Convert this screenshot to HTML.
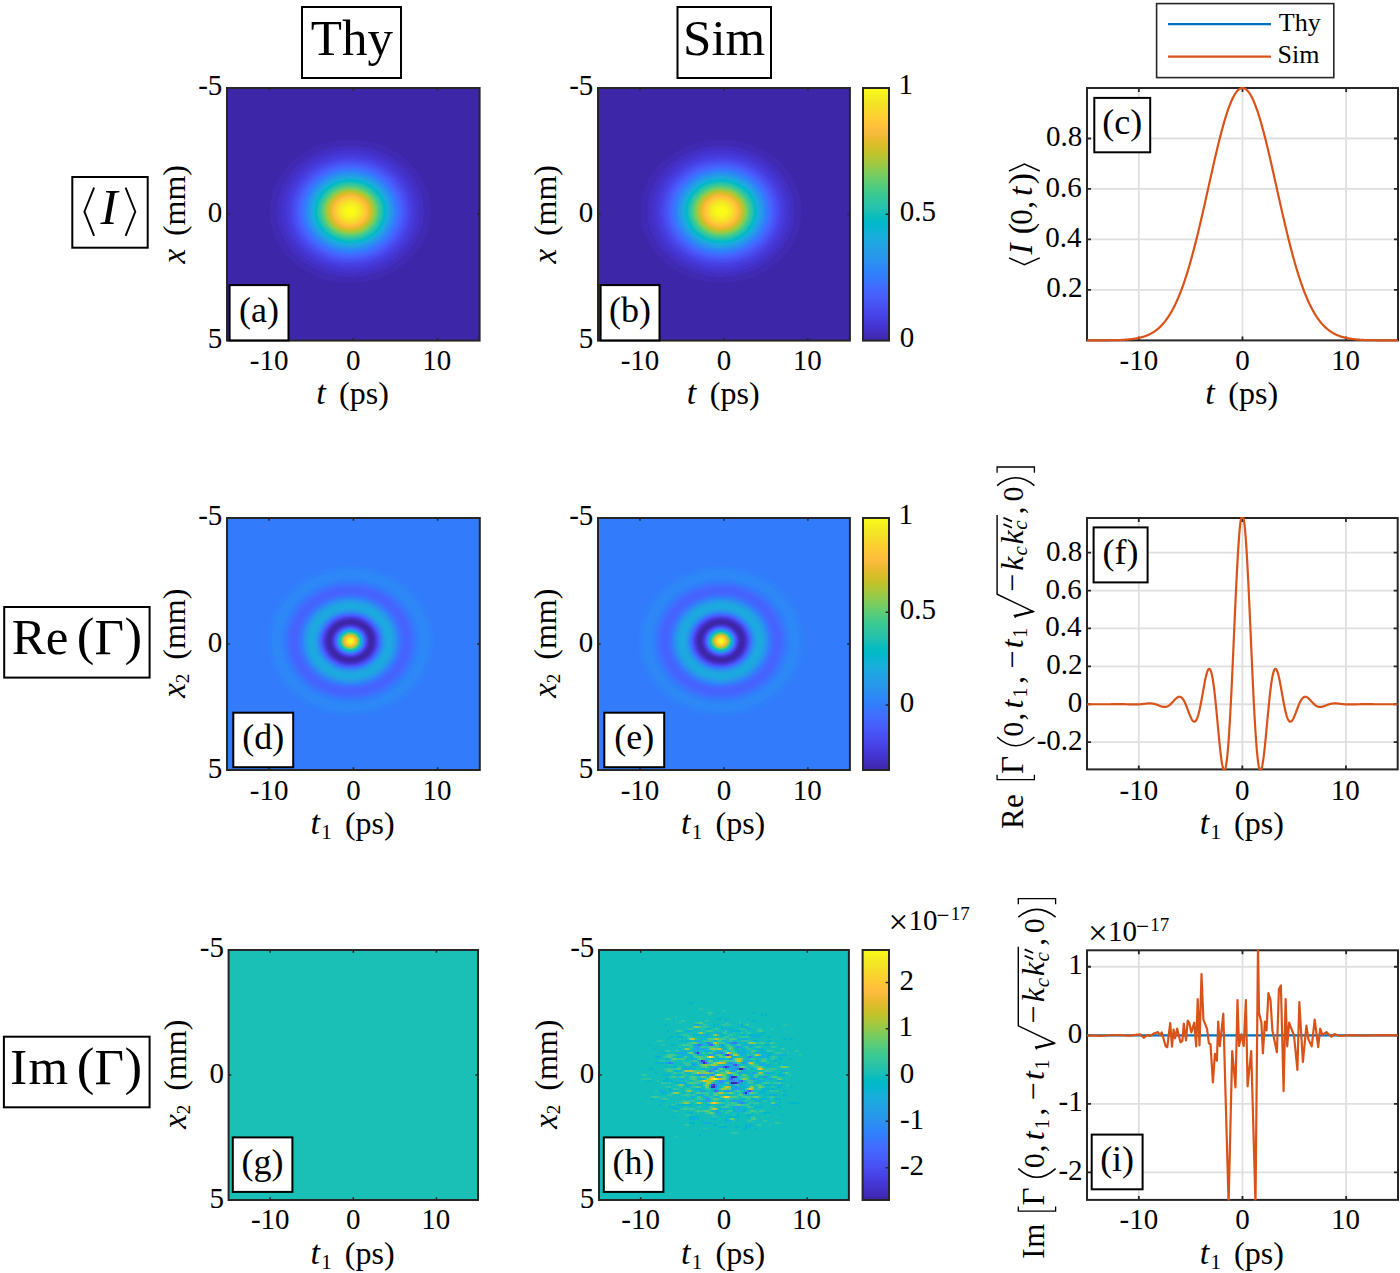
<!DOCTYPE html>
<html><head><meta charset="utf-8"><style>
html,body{margin:0;padding:0;background:#fff;width:1400px;height:1273px;overflow:hidden}
svg{display:block}
text{font-family:'Liberation Serif',serif;fill:#000}
</style></head><body>
<svg width="1400" height="1273" viewBox="0 0 1400 1273">
<defs><radialGradient id="g_a" gradientUnits="userSpaceOnUse" cx="350.27" cy="211.27" r="140" fx="350.27" fy="211.27" gradientTransform="translate(350.27 211.27) scale(1 0.89) translate(-350.27 -211.27)"><stop offset="0.0000" stop-color="#f9fb15"/><stop offset="0.0348" stop-color="#f9fb15"/><stop offset="0.0348" stop-color="#f7f51b"/><stop offset="0.0509" stop-color="#f7f51b"/><stop offset="0.0509" stop-color="#f6ef20"/><stop offset="0.0616" stop-color="#f6ef20"/><stop offset="0.0616" stop-color="#f5e924"/><stop offset="0.0723" stop-color="#f5e924"/><stop offset="0.0723" stop-color="#f5e327"/><stop offset="0.0813" stop-color="#f5e327"/><stop offset="0.0813" stop-color="#f7dc2a"/><stop offset="0.0884" stop-color="#f7dc2a"/><stop offset="0.0884" stop-color="#fad62d"/><stop offset="0.0955" stop-color="#fad62d"/><stop offset="0.0955" stop-color="#fccf30"/><stop offset="0.1027" stop-color="#fccf30"/><stop offset="0.1027" stop-color="#fec934"/><stop offset="0.1098" stop-color="#fec934"/><stop offset="0.1098" stop-color="#fec338"/><stop offset="0.1170" stop-color="#fec338"/><stop offset="0.1170" stop-color="#febe3c"/><stop offset="0.1223" stop-color="#febe3c"/><stop offset="0.1223" stop-color="#f8ba3d"/><stop offset="0.1277" stop-color="#f8ba3d"/><stop offset="0.1277" stop-color="#f0ba36"/><stop offset="0.1348" stop-color="#f0ba36"/><stop offset="0.1348" stop-color="#e6bb2d"/><stop offset="0.1402" stop-color="#e6bb2d"/><stop offset="0.1402" stop-color="#dcbd29"/><stop offset="0.1455" stop-color="#dcbd29"/><stop offset="0.1455" stop-color="#d1bf27"/><stop offset="0.1509" stop-color="#d1bf27"/><stop offset="0.1509" stop-color="#c5c22a"/><stop offset="0.1562" stop-color="#c5c22a"/><stop offset="0.1562" stop-color="#b9c431"/><stop offset="0.1616" stop-color="#b9c431"/><stop offset="0.1616" stop-color="#abc739"/><stop offset="0.1670" stop-color="#abc739"/><stop offset="0.1670" stop-color="#9dc943"/><stop offset="0.1723" stop-color="#9dc943"/><stop offset="0.1723" stop-color="#8fcb4e"/><stop offset="0.1777" stop-color="#8fcb4e"/><stop offset="0.1777" stop-color="#81cc59"/><stop offset="0.1830" stop-color="#81cc59"/><stop offset="0.1830" stop-color="#72cd64"/><stop offset="0.1884" stop-color="#72cd64"/><stop offset="0.1884" stop-color="#64cd6f"/><stop offset="0.1938" stop-color="#64cd6f"/><stop offset="0.1938" stop-color="#57cc7a"/><stop offset="0.1991" stop-color="#57cc7a"/><stop offset="0.1991" stop-color="#4acb84"/><stop offset="0.2027" stop-color="#4acb84"/><stop offset="0.2027" stop-color="#3fca8e"/><stop offset="0.2080" stop-color="#3fca8e"/><stop offset="0.2080" stop-color="#37c897"/><stop offset="0.2134" stop-color="#37c897"/><stop offset="0.2134" stop-color="#31c69f"/><stop offset="0.2188" stop-color="#31c69f"/><stop offset="0.2188" stop-color="#2cc4a7"/><stop offset="0.2241" stop-color="#2cc4a7"/><stop offset="0.2241" stop-color="#24c1ae"/><stop offset="0.2295" stop-color="#24c1ae"/><stop offset="0.2295" stop-color="#19bfb6"/><stop offset="0.2348" stop-color="#19bfb6"/><stop offset="0.2348" stop-color="#0bbdbd"/><stop offset="0.2402" stop-color="#0bbdbd"/><stop offset="0.2402" stop-color="#02bac3"/><stop offset="0.2455" stop-color="#02bac3"/><stop offset="0.2455" stop-color="#01b8ca"/><stop offset="0.2509" stop-color="#01b8ca"/><stop offset="0.2509" stop-color="#08b5d0"/><stop offset="0.2562" stop-color="#08b5d0"/><stop offset="0.2562" stop-color="#12b1d6"/><stop offset="0.2616" stop-color="#12b1d6"/><stop offset="0.2616" stop-color="#18addb"/><stop offset="0.2670" stop-color="#18addb"/><stop offset="0.2670" stop-color="#1ca9df"/><stop offset="0.2741" stop-color="#1ca9df"/><stop offset="0.2741" stop-color="#20a5e3"/><stop offset="0.2795" stop-color="#20a5e3"/><stop offset="0.2795" stop-color="#23a0e5"/><stop offset="0.2848" stop-color="#23a0e5"/><stop offset="0.2848" stop-color="#259be8"/><stop offset="0.2920" stop-color="#259be8"/><stop offset="0.2920" stop-color="#2797eb"/><stop offset="0.2973" stop-color="#2797eb"/><stop offset="0.2973" stop-color="#2b91ef"/><stop offset="0.3045" stop-color="#2b91ef"/><stop offset="0.3045" stop-color="#2d8cf3"/><stop offset="0.3098" stop-color="#2d8cf3"/><stop offset="0.3098" stop-color="#2e87f7"/><stop offset="0.3170" stop-color="#2e87f7"/><stop offset="0.3170" stop-color="#2f81fa"/><stop offset="0.3241" stop-color="#2f81fa"/><stop offset="0.3241" stop-color="#327cfc"/><stop offset="0.3312" stop-color="#327cfc"/><stop offset="0.3312" stop-color="#3875fe"/><stop offset="0.3402" stop-color="#3875fe"/><stop offset="0.3402" stop-color="#3e6fff"/><stop offset="0.3473" stop-color="#3e6fff"/><stop offset="0.3473" stop-color="#4269fe"/><stop offset="0.3563" stop-color="#4269fe"/><stop offset="0.3563" stop-color="#4563fd"/><stop offset="0.3652" stop-color="#4563fd"/><stop offset="0.3652" stop-color="#465efb"/><stop offset="0.3741" stop-color="#465efb"/><stop offset="0.3741" stop-color="#4758f8"/><stop offset="0.3848" stop-color="#4758f8"/><stop offset="0.3848" stop-color="#4852f4"/><stop offset="0.3955" stop-color="#4852f4"/><stop offset="0.3955" stop-color="#484df0"/><stop offset="0.4062" stop-color="#484df0"/><stop offset="0.4062" stop-color="#4747eb"/><stop offset="0.4188" stop-color="#4747eb"/><stop offset="0.4188" stop-color="#4741e5"/><stop offset="0.4330" stop-color="#4741e5"/><stop offset="0.4330" stop-color="#463cde"/><stop offset="0.4509" stop-color="#463cde"/><stop offset="0.4509" stop-color="#4537d5"/><stop offset="0.4688" stop-color="#4537d5"/><stop offset="0.4688" stop-color="#4332cb"/><stop offset="0.4938" stop-color="#4332cb"/><stop offset="0.4938" stop-color="#422ec0"/><stop offset="0.5241" stop-color="#422ec0"/><stop offset="0.5241" stop-color="#402ab4"/><stop offset="0.5741" stop-color="#402ab4"/><stop offset="0.5741" stop-color="#3e26a8"/><stop offset="1" stop-color="#3e26a8"/></radialGradient><radialGradient id="g_b" gradientUnits="userSpaceOnUse" cx="720.93" cy="211.27" r="140" fx="720.93" fy="211.27" gradientTransform="translate(720.93 211.27) scale(1 0.89) translate(-720.93 -211.27)"><stop offset="0.0000" stop-color="#f9fb15"/><stop offset="0.0348" stop-color="#f9fb15"/><stop offset="0.0348" stop-color="#f7f51b"/><stop offset="0.0509" stop-color="#f7f51b"/><stop offset="0.0509" stop-color="#f6ef20"/><stop offset="0.0616" stop-color="#f6ef20"/><stop offset="0.0616" stop-color="#f5e924"/><stop offset="0.0723" stop-color="#f5e924"/><stop offset="0.0723" stop-color="#f5e327"/><stop offset="0.0813" stop-color="#f5e327"/><stop offset="0.0813" stop-color="#f7dc2a"/><stop offset="0.0884" stop-color="#f7dc2a"/><stop offset="0.0884" stop-color="#fad62d"/><stop offset="0.0955" stop-color="#fad62d"/><stop offset="0.0955" stop-color="#fccf30"/><stop offset="0.1027" stop-color="#fccf30"/><stop offset="0.1027" stop-color="#fec934"/><stop offset="0.1098" stop-color="#fec934"/><stop offset="0.1098" stop-color="#fec338"/><stop offset="0.1170" stop-color="#fec338"/><stop offset="0.1170" stop-color="#febe3c"/><stop offset="0.1223" stop-color="#febe3c"/><stop offset="0.1223" stop-color="#f8ba3d"/><stop offset="0.1277" stop-color="#f8ba3d"/><stop offset="0.1277" stop-color="#f0ba36"/><stop offset="0.1348" stop-color="#f0ba36"/><stop offset="0.1348" stop-color="#e6bb2d"/><stop offset="0.1402" stop-color="#e6bb2d"/><stop offset="0.1402" stop-color="#dcbd29"/><stop offset="0.1455" stop-color="#dcbd29"/><stop offset="0.1455" stop-color="#d1bf27"/><stop offset="0.1509" stop-color="#d1bf27"/><stop offset="0.1509" stop-color="#c5c22a"/><stop offset="0.1562" stop-color="#c5c22a"/><stop offset="0.1562" stop-color="#b9c431"/><stop offset="0.1616" stop-color="#b9c431"/><stop offset="0.1616" stop-color="#abc739"/><stop offset="0.1670" stop-color="#abc739"/><stop offset="0.1670" stop-color="#9dc943"/><stop offset="0.1723" stop-color="#9dc943"/><stop offset="0.1723" stop-color="#8fcb4e"/><stop offset="0.1777" stop-color="#8fcb4e"/><stop offset="0.1777" stop-color="#81cc59"/><stop offset="0.1830" stop-color="#81cc59"/><stop offset="0.1830" stop-color="#72cd64"/><stop offset="0.1884" stop-color="#72cd64"/><stop offset="0.1884" stop-color="#64cd6f"/><stop offset="0.1938" stop-color="#64cd6f"/><stop offset="0.1938" stop-color="#57cc7a"/><stop offset="0.1991" stop-color="#57cc7a"/><stop offset="0.1991" stop-color="#4acb84"/><stop offset="0.2027" stop-color="#4acb84"/><stop offset="0.2027" stop-color="#3fca8e"/><stop offset="0.2080" stop-color="#3fca8e"/><stop offset="0.2080" stop-color="#37c897"/><stop offset="0.2134" stop-color="#37c897"/><stop offset="0.2134" stop-color="#31c69f"/><stop offset="0.2188" stop-color="#31c69f"/><stop offset="0.2188" stop-color="#2cc4a7"/><stop offset="0.2241" stop-color="#2cc4a7"/><stop offset="0.2241" stop-color="#24c1ae"/><stop offset="0.2295" stop-color="#24c1ae"/><stop offset="0.2295" stop-color="#19bfb6"/><stop offset="0.2348" stop-color="#19bfb6"/><stop offset="0.2348" stop-color="#0bbdbd"/><stop offset="0.2402" stop-color="#0bbdbd"/><stop offset="0.2402" stop-color="#02bac3"/><stop offset="0.2455" stop-color="#02bac3"/><stop offset="0.2455" stop-color="#01b8ca"/><stop offset="0.2509" stop-color="#01b8ca"/><stop offset="0.2509" stop-color="#08b5d0"/><stop offset="0.2562" stop-color="#08b5d0"/><stop offset="0.2562" stop-color="#12b1d6"/><stop offset="0.2616" stop-color="#12b1d6"/><stop offset="0.2616" stop-color="#18addb"/><stop offset="0.2670" stop-color="#18addb"/><stop offset="0.2670" stop-color="#1ca9df"/><stop offset="0.2741" stop-color="#1ca9df"/><stop offset="0.2741" stop-color="#20a5e3"/><stop offset="0.2795" stop-color="#20a5e3"/><stop offset="0.2795" stop-color="#23a0e5"/><stop offset="0.2848" stop-color="#23a0e5"/><stop offset="0.2848" stop-color="#259be8"/><stop offset="0.2920" stop-color="#259be8"/><stop offset="0.2920" stop-color="#2797eb"/><stop offset="0.2973" stop-color="#2797eb"/><stop offset="0.2973" stop-color="#2b91ef"/><stop offset="0.3045" stop-color="#2b91ef"/><stop offset="0.3045" stop-color="#2d8cf3"/><stop offset="0.3098" stop-color="#2d8cf3"/><stop offset="0.3098" stop-color="#2e87f7"/><stop offset="0.3170" stop-color="#2e87f7"/><stop offset="0.3170" stop-color="#2f81fa"/><stop offset="0.3241" stop-color="#2f81fa"/><stop offset="0.3241" stop-color="#327cfc"/><stop offset="0.3312" stop-color="#327cfc"/><stop offset="0.3312" stop-color="#3875fe"/><stop offset="0.3402" stop-color="#3875fe"/><stop offset="0.3402" stop-color="#3e6fff"/><stop offset="0.3473" stop-color="#3e6fff"/><stop offset="0.3473" stop-color="#4269fe"/><stop offset="0.3563" stop-color="#4269fe"/><stop offset="0.3563" stop-color="#4563fd"/><stop offset="0.3652" stop-color="#4563fd"/><stop offset="0.3652" stop-color="#465efb"/><stop offset="0.3741" stop-color="#465efb"/><stop offset="0.3741" stop-color="#4758f8"/><stop offset="0.3848" stop-color="#4758f8"/><stop offset="0.3848" stop-color="#4852f4"/><stop offset="0.3955" stop-color="#4852f4"/><stop offset="0.3955" stop-color="#484df0"/><stop offset="0.4062" stop-color="#484df0"/><stop offset="0.4062" stop-color="#4747eb"/><stop offset="0.4188" stop-color="#4747eb"/><stop offset="0.4188" stop-color="#4741e5"/><stop offset="0.4330" stop-color="#4741e5"/><stop offset="0.4330" stop-color="#463cde"/><stop offset="0.4509" stop-color="#463cde"/><stop offset="0.4509" stop-color="#4537d5"/><stop offset="0.4688" stop-color="#4537d5"/><stop offset="0.4688" stop-color="#4332cb"/><stop offset="0.4938" stop-color="#4332cb"/><stop offset="0.4938" stop-color="#422ec0"/><stop offset="0.5241" stop-color="#422ec0"/><stop offset="0.5241" stop-color="#402ab4"/><stop offset="0.5741" stop-color="#402ab4"/><stop offset="0.5741" stop-color="#3e26a8"/><stop offset="1" stop-color="#3e26a8"/></radialGradient><radialGradient id="g_d" gradientUnits="userSpaceOnUse" cx="350.37" cy="640.98" r="140" fx="350.37" fy="640.98" gradientTransform="translate(350.37 640.98) scale(1 0.9) translate(-350.37 -640.98)"><stop offset="0.0000" stop-color="#f9fb15"/><stop offset="0.0116" stop-color="#f9fb15"/><stop offset="0.0116" stop-color="#f7f51b"/><stop offset="0.0170" stop-color="#f7f51b"/><stop offset="0.0170" stop-color="#f6ef20"/><stop offset="0.0205" stop-color="#f6ef20"/><stop offset="0.0205" stop-color="#f5e924"/><stop offset="0.0223" stop-color="#f5e924"/><stop offset="0.0223" stop-color="#f5e327"/><stop offset="0.0259" stop-color="#f5e327"/><stop offset="0.0259" stop-color="#f7dc2a"/><stop offset="0.0277" stop-color="#f7dc2a"/><stop offset="0.0277" stop-color="#fad62d"/><stop offset="0.0312" stop-color="#fad62d"/><stop offset="0.0312" stop-color="#fccf30"/><stop offset="0.0330" stop-color="#fccf30"/><stop offset="0.0330" stop-color="#fec934"/><stop offset="0.0348" stop-color="#fec934"/><stop offset="0.0348" stop-color="#fec338"/><stop offset="0.0366" stop-color="#fec338"/><stop offset="0.0366" stop-color="#febe3c"/><stop offset="0.0402" stop-color="#febe3c"/><stop offset="0.0402" stop-color="#f8ba3d"/><stop offset="0.0420" stop-color="#f8ba3d"/><stop offset="0.0420" stop-color="#f0ba36"/><stop offset="0.0437" stop-color="#f0ba36"/><stop offset="0.0437" stop-color="#e6bb2d"/><stop offset="0.0455" stop-color="#e6bb2d"/><stop offset="0.0455" stop-color="#dcbd29"/><stop offset="0.0473" stop-color="#dcbd29"/><stop offset="0.0473" stop-color="#c5c22a"/><stop offset="0.0491" stop-color="#c5c22a"/><stop offset="0.0491" stop-color="#b9c431"/><stop offset="0.0509" stop-color="#b9c431"/><stop offset="0.0509" stop-color="#abc739"/><stop offset="0.0527" stop-color="#abc739"/><stop offset="0.0527" stop-color="#9dc943"/><stop offset="0.0545" stop-color="#9dc943"/><stop offset="0.0545" stop-color="#8fcb4e"/><stop offset="0.0563" stop-color="#8fcb4e"/><stop offset="0.0563" stop-color="#81cc59"/><stop offset="0.0580" stop-color="#81cc59"/><stop offset="0.0580" stop-color="#72cd64"/><stop offset="0.0598" stop-color="#72cd64"/><stop offset="0.0598" stop-color="#64cd6f"/><stop offset="0.0616" stop-color="#64cd6f"/><stop offset="0.0616" stop-color="#4acb84"/><stop offset="0.0634" stop-color="#4acb84"/><stop offset="0.0634" stop-color="#3fca8e"/><stop offset="0.0652" stop-color="#3fca8e"/><stop offset="0.0652" stop-color="#37c897"/><stop offset="0.0670" stop-color="#37c897"/><stop offset="0.0670" stop-color="#31c69f"/><stop offset="0.0688" stop-color="#31c69f"/><stop offset="0.0688" stop-color="#2cc4a7"/><stop offset="0.0705" stop-color="#2cc4a7"/><stop offset="0.0705" stop-color="#19bfb6"/><stop offset="0.0723" stop-color="#19bfb6"/><stop offset="0.0723" stop-color="#0bbdbd"/><stop offset="0.0741" stop-color="#0bbdbd"/><stop offset="0.0741" stop-color="#02bac3"/><stop offset="0.0759" stop-color="#02bac3"/><stop offset="0.0759" stop-color="#01b8ca"/><stop offset="0.0777" stop-color="#01b8ca"/><stop offset="0.0777" stop-color="#08b5d0"/><stop offset="0.0795" stop-color="#08b5d0"/><stop offset="0.0795" stop-color="#18addb"/><stop offset="0.0813" stop-color="#18addb"/><stop offset="0.0813" stop-color="#1ca9df"/><stop offset="0.0830" stop-color="#1ca9df"/><stop offset="0.0830" stop-color="#20a5e3"/><stop offset="0.0848" stop-color="#20a5e3"/><stop offset="0.0848" stop-color="#23a0e5"/><stop offset="0.0866" stop-color="#23a0e5"/><stop offset="0.0866" stop-color="#259be8"/><stop offset="0.0884" stop-color="#259be8"/><stop offset="0.0884" stop-color="#2797eb"/><stop offset="0.0902" stop-color="#2797eb"/><stop offset="0.0902" stop-color="#2b91ef"/><stop offset="0.0920" stop-color="#2b91ef"/><stop offset="0.0920" stop-color="#2e87f7"/><stop offset="0.0938" stop-color="#2e87f7"/><stop offset="0.0938" stop-color="#2f81fa"/><stop offset="0.0955" stop-color="#2f81fa"/><stop offset="0.0955" stop-color="#327cfc"/><stop offset="0.0973" stop-color="#327cfc"/><stop offset="0.0973" stop-color="#3875fe"/><stop offset="0.0991" stop-color="#3875fe"/><stop offset="0.0991" stop-color="#3e6fff"/><stop offset="0.1009" stop-color="#3e6fff"/><stop offset="0.1009" stop-color="#4269fe"/><stop offset="0.1027" stop-color="#4269fe"/><stop offset="0.1027" stop-color="#4563fd"/><stop offset="0.1045" stop-color="#4563fd"/><stop offset="0.1045" stop-color="#465efb"/><stop offset="0.1080" stop-color="#465efb"/><stop offset="0.1080" stop-color="#4758f8"/><stop offset="0.1098" stop-color="#4758f8"/><stop offset="0.1098" stop-color="#4852f4"/><stop offset="0.1116" stop-color="#4852f4"/><stop offset="0.1116" stop-color="#484df0"/><stop offset="0.1134" stop-color="#484df0"/><stop offset="0.1134" stop-color="#4747eb"/><stop offset="0.1170" stop-color="#4747eb"/><stop offset="0.1170" stop-color="#4741e5"/><stop offset="0.1187" stop-color="#4741e5"/><stop offset="0.1187" stop-color="#463cde"/><stop offset="0.1223" stop-color="#463cde"/><stop offset="0.1223" stop-color="#4537d5"/><stop offset="0.1259" stop-color="#4537d5"/><stop offset="0.1259" stop-color="#4332cb"/><stop offset="0.1295" stop-color="#4332cb"/><stop offset="0.1295" stop-color="#422ec0"/><stop offset="0.1330" stop-color="#422ec0"/><stop offset="0.1330" stop-color="#402ab4"/><stop offset="0.1384" stop-color="#402ab4"/><stop offset="0.1384" stop-color="#3e26a8"/><stop offset="0.1634" stop-color="#3e26a8"/><stop offset="0.1634" stop-color="#402ab4"/><stop offset="0.1705" stop-color="#402ab4"/><stop offset="0.1705" stop-color="#422ec0"/><stop offset="0.1741" stop-color="#422ec0"/><stop offset="0.1741" stop-color="#4332cb"/><stop offset="0.1795" stop-color="#4332cb"/><stop offset="0.1795" stop-color="#4537d5"/><stop offset="0.1830" stop-color="#4537d5"/><stop offset="0.1830" stop-color="#463cde"/><stop offset="0.1866" stop-color="#463cde"/><stop offset="0.1866" stop-color="#4741e5"/><stop offset="0.1902" stop-color="#4741e5"/><stop offset="0.1902" stop-color="#4747eb"/><stop offset="0.1938" stop-color="#4747eb"/><stop offset="0.1938" stop-color="#484df0"/><stop offset="0.1973" stop-color="#484df0"/><stop offset="0.1973" stop-color="#4852f4"/><stop offset="0.2009" stop-color="#4852f4"/><stop offset="0.2009" stop-color="#4758f8"/><stop offset="0.2027" stop-color="#4758f8"/><stop offset="0.2027" stop-color="#465efb"/><stop offset="0.2062" stop-color="#465efb"/><stop offset="0.2062" stop-color="#4563fd"/><stop offset="0.2098" stop-color="#4563fd"/><stop offset="0.2098" stop-color="#4269fe"/><stop offset="0.2134" stop-color="#4269fe"/><stop offset="0.2134" stop-color="#3e6fff"/><stop offset="0.2152" stop-color="#3e6fff"/><stop offset="0.2152" stop-color="#3875fe"/><stop offset="0.2188" stop-color="#3875fe"/><stop offset="0.2188" stop-color="#327cfc"/><stop offset="0.2223" stop-color="#327cfc"/><stop offset="0.2223" stop-color="#2f81fa"/><stop offset="0.2259" stop-color="#2f81fa"/><stop offset="0.2259" stop-color="#2e87f7"/><stop offset="0.2295" stop-color="#2e87f7"/><stop offset="0.2295" stop-color="#2d8cf3"/><stop offset="0.2330" stop-color="#2d8cf3"/><stop offset="0.2330" stop-color="#2b91ef"/><stop offset="0.2366" stop-color="#2b91ef"/><stop offset="0.2366" stop-color="#2797eb"/><stop offset="0.2420" stop-color="#2797eb"/><stop offset="0.2420" stop-color="#259be8"/><stop offset="0.2473" stop-color="#259be8"/><stop offset="0.2473" stop-color="#23a0e5"/><stop offset="0.2527" stop-color="#23a0e5"/><stop offset="0.2527" stop-color="#20a5e3"/><stop offset="0.2616" stop-color="#20a5e3"/><stop offset="0.2616" stop-color="#1ca9df"/><stop offset="0.2920" stop-color="#1ca9df"/><stop offset="0.2920" stop-color="#20a5e3"/><stop offset="0.3009" stop-color="#20a5e3"/><stop offset="0.3009" stop-color="#23a0e5"/><stop offset="0.3080" stop-color="#23a0e5"/><stop offset="0.3080" stop-color="#259be8"/><stop offset="0.3152" stop-color="#259be8"/><stop offset="0.3152" stop-color="#2797eb"/><stop offset="0.3223" stop-color="#2797eb"/><stop offset="0.3223" stop-color="#2b91ef"/><stop offset="0.3277" stop-color="#2b91ef"/><stop offset="0.3277" stop-color="#2d8cf3"/><stop offset="0.3330" stop-color="#2d8cf3"/><stop offset="0.3330" stop-color="#2e87f7"/><stop offset="0.3402" stop-color="#2e87f7"/><stop offset="0.3402" stop-color="#2f81fa"/><stop offset="0.3455" stop-color="#2f81fa"/><stop offset="0.3455" stop-color="#327cfc"/><stop offset="0.3527" stop-color="#327cfc"/><stop offset="0.3527" stop-color="#3875fe"/><stop offset="0.3598" stop-color="#3875fe"/><stop offset="0.3598" stop-color="#3e6fff"/><stop offset="0.3688" stop-color="#3e6fff"/><stop offset="0.3688" stop-color="#4269fe"/><stop offset="0.3812" stop-color="#4269fe"/><stop offset="0.3812" stop-color="#4563fd"/><stop offset="0.4223" stop-color="#4563fd"/><stop offset="0.4223" stop-color="#4269fe"/><stop offset="0.4384" stop-color="#4269fe"/><stop offset="0.4384" stop-color="#3e6fff"/><stop offset="0.4509" stop-color="#3e6fff"/><stop offset="0.4509" stop-color="#3875fe"/><stop offset="0.4634" stop-color="#3875fe"/><stop offset="0.4634" stop-color="#327cfc"/><stop offset="0.4759" stop-color="#327cfc"/><stop offset="0.4759" stop-color="#2f81fa"/><stop offset="0.4955" stop-color="#2f81fa"/><stop offset="0.4955" stop-color="#2e87f7"/><stop offset="0.5598" stop-color="#2e87f7"/><stop offset="0.5598" stop-color="#2f81fa"/><stop offset="0.5920" stop-color="#2f81fa"/><stop offset="0.5920" stop-color="#327cfc"/><stop offset="1" stop-color="#327cfc"/></radialGradient><radialGradient id="g_e" gradientUnits="userSpaceOnUse" cx="720.93" cy="640.98" r="140" fx="720.93" fy="640.98" gradientTransform="translate(720.93 640.98) scale(1 0.9) translate(-720.93 -640.98)"><stop offset="0.0000" stop-color="#f9fb15"/><stop offset="0.0116" stop-color="#f9fb15"/><stop offset="0.0116" stop-color="#f7f51b"/><stop offset="0.0170" stop-color="#f7f51b"/><stop offset="0.0170" stop-color="#f6ef20"/><stop offset="0.0205" stop-color="#f6ef20"/><stop offset="0.0205" stop-color="#f5e924"/><stop offset="0.0223" stop-color="#f5e924"/><stop offset="0.0223" stop-color="#f5e327"/><stop offset="0.0259" stop-color="#f5e327"/><stop offset="0.0259" stop-color="#f7dc2a"/><stop offset="0.0277" stop-color="#f7dc2a"/><stop offset="0.0277" stop-color="#fad62d"/><stop offset="0.0312" stop-color="#fad62d"/><stop offset="0.0312" stop-color="#fccf30"/><stop offset="0.0330" stop-color="#fccf30"/><stop offset="0.0330" stop-color="#fec934"/><stop offset="0.0348" stop-color="#fec934"/><stop offset="0.0348" stop-color="#fec338"/><stop offset="0.0366" stop-color="#fec338"/><stop offset="0.0366" stop-color="#febe3c"/><stop offset="0.0402" stop-color="#febe3c"/><stop offset="0.0402" stop-color="#f8ba3d"/><stop offset="0.0420" stop-color="#f8ba3d"/><stop offset="0.0420" stop-color="#f0ba36"/><stop offset="0.0437" stop-color="#f0ba36"/><stop offset="0.0437" stop-color="#e6bb2d"/><stop offset="0.0455" stop-color="#e6bb2d"/><stop offset="0.0455" stop-color="#dcbd29"/><stop offset="0.0473" stop-color="#dcbd29"/><stop offset="0.0473" stop-color="#c5c22a"/><stop offset="0.0491" stop-color="#c5c22a"/><stop offset="0.0491" stop-color="#b9c431"/><stop offset="0.0509" stop-color="#b9c431"/><stop offset="0.0509" stop-color="#abc739"/><stop offset="0.0527" stop-color="#abc739"/><stop offset="0.0527" stop-color="#9dc943"/><stop offset="0.0545" stop-color="#9dc943"/><stop offset="0.0545" stop-color="#8fcb4e"/><stop offset="0.0563" stop-color="#8fcb4e"/><stop offset="0.0563" stop-color="#81cc59"/><stop offset="0.0580" stop-color="#81cc59"/><stop offset="0.0580" stop-color="#72cd64"/><stop offset="0.0598" stop-color="#72cd64"/><stop offset="0.0598" stop-color="#64cd6f"/><stop offset="0.0616" stop-color="#64cd6f"/><stop offset="0.0616" stop-color="#4acb84"/><stop offset="0.0634" stop-color="#4acb84"/><stop offset="0.0634" stop-color="#3fca8e"/><stop offset="0.0652" stop-color="#3fca8e"/><stop offset="0.0652" stop-color="#37c897"/><stop offset="0.0670" stop-color="#37c897"/><stop offset="0.0670" stop-color="#31c69f"/><stop offset="0.0688" stop-color="#31c69f"/><stop offset="0.0688" stop-color="#2cc4a7"/><stop offset="0.0705" stop-color="#2cc4a7"/><stop offset="0.0705" stop-color="#19bfb6"/><stop offset="0.0723" stop-color="#19bfb6"/><stop offset="0.0723" stop-color="#0bbdbd"/><stop offset="0.0741" stop-color="#0bbdbd"/><stop offset="0.0741" stop-color="#02bac3"/><stop offset="0.0759" stop-color="#02bac3"/><stop offset="0.0759" stop-color="#01b8ca"/><stop offset="0.0777" stop-color="#01b8ca"/><stop offset="0.0777" stop-color="#08b5d0"/><stop offset="0.0795" stop-color="#08b5d0"/><stop offset="0.0795" stop-color="#18addb"/><stop offset="0.0813" stop-color="#18addb"/><stop offset="0.0813" stop-color="#1ca9df"/><stop offset="0.0830" stop-color="#1ca9df"/><stop offset="0.0830" stop-color="#20a5e3"/><stop offset="0.0848" stop-color="#20a5e3"/><stop offset="0.0848" stop-color="#23a0e5"/><stop offset="0.0866" stop-color="#23a0e5"/><stop offset="0.0866" stop-color="#259be8"/><stop offset="0.0884" stop-color="#259be8"/><stop offset="0.0884" stop-color="#2797eb"/><stop offset="0.0902" stop-color="#2797eb"/><stop offset="0.0902" stop-color="#2b91ef"/><stop offset="0.0920" stop-color="#2b91ef"/><stop offset="0.0920" stop-color="#2e87f7"/><stop offset="0.0938" stop-color="#2e87f7"/><stop offset="0.0938" stop-color="#2f81fa"/><stop offset="0.0955" stop-color="#2f81fa"/><stop offset="0.0955" stop-color="#327cfc"/><stop offset="0.0973" stop-color="#327cfc"/><stop offset="0.0973" stop-color="#3875fe"/><stop offset="0.0991" stop-color="#3875fe"/><stop offset="0.0991" stop-color="#3e6fff"/><stop offset="0.1009" stop-color="#3e6fff"/><stop offset="0.1009" stop-color="#4269fe"/><stop offset="0.1027" stop-color="#4269fe"/><stop offset="0.1027" stop-color="#4563fd"/><stop offset="0.1045" stop-color="#4563fd"/><stop offset="0.1045" stop-color="#465efb"/><stop offset="0.1080" stop-color="#465efb"/><stop offset="0.1080" stop-color="#4758f8"/><stop offset="0.1098" stop-color="#4758f8"/><stop offset="0.1098" stop-color="#4852f4"/><stop offset="0.1116" stop-color="#4852f4"/><stop offset="0.1116" stop-color="#484df0"/><stop offset="0.1134" stop-color="#484df0"/><stop offset="0.1134" stop-color="#4747eb"/><stop offset="0.1170" stop-color="#4747eb"/><stop offset="0.1170" stop-color="#4741e5"/><stop offset="0.1187" stop-color="#4741e5"/><stop offset="0.1187" stop-color="#463cde"/><stop offset="0.1223" stop-color="#463cde"/><stop offset="0.1223" stop-color="#4537d5"/><stop offset="0.1259" stop-color="#4537d5"/><stop offset="0.1259" stop-color="#4332cb"/><stop offset="0.1295" stop-color="#4332cb"/><stop offset="0.1295" stop-color="#422ec0"/><stop offset="0.1330" stop-color="#422ec0"/><stop offset="0.1330" stop-color="#402ab4"/><stop offset="0.1384" stop-color="#402ab4"/><stop offset="0.1384" stop-color="#3e26a8"/><stop offset="0.1634" stop-color="#3e26a8"/><stop offset="0.1634" stop-color="#402ab4"/><stop offset="0.1705" stop-color="#402ab4"/><stop offset="0.1705" stop-color="#422ec0"/><stop offset="0.1741" stop-color="#422ec0"/><stop offset="0.1741" stop-color="#4332cb"/><stop offset="0.1795" stop-color="#4332cb"/><stop offset="0.1795" stop-color="#4537d5"/><stop offset="0.1830" stop-color="#4537d5"/><stop offset="0.1830" stop-color="#463cde"/><stop offset="0.1866" stop-color="#463cde"/><stop offset="0.1866" stop-color="#4741e5"/><stop offset="0.1902" stop-color="#4741e5"/><stop offset="0.1902" stop-color="#4747eb"/><stop offset="0.1938" stop-color="#4747eb"/><stop offset="0.1938" stop-color="#484df0"/><stop offset="0.1973" stop-color="#484df0"/><stop offset="0.1973" stop-color="#4852f4"/><stop offset="0.2009" stop-color="#4852f4"/><stop offset="0.2009" stop-color="#4758f8"/><stop offset="0.2027" stop-color="#4758f8"/><stop offset="0.2027" stop-color="#465efb"/><stop offset="0.2062" stop-color="#465efb"/><stop offset="0.2062" stop-color="#4563fd"/><stop offset="0.2098" stop-color="#4563fd"/><stop offset="0.2098" stop-color="#4269fe"/><stop offset="0.2134" stop-color="#4269fe"/><stop offset="0.2134" stop-color="#3e6fff"/><stop offset="0.2152" stop-color="#3e6fff"/><stop offset="0.2152" stop-color="#3875fe"/><stop offset="0.2188" stop-color="#3875fe"/><stop offset="0.2188" stop-color="#327cfc"/><stop offset="0.2223" stop-color="#327cfc"/><stop offset="0.2223" stop-color="#2f81fa"/><stop offset="0.2259" stop-color="#2f81fa"/><stop offset="0.2259" stop-color="#2e87f7"/><stop offset="0.2295" stop-color="#2e87f7"/><stop offset="0.2295" stop-color="#2d8cf3"/><stop offset="0.2330" stop-color="#2d8cf3"/><stop offset="0.2330" stop-color="#2b91ef"/><stop offset="0.2366" stop-color="#2b91ef"/><stop offset="0.2366" stop-color="#2797eb"/><stop offset="0.2420" stop-color="#2797eb"/><stop offset="0.2420" stop-color="#259be8"/><stop offset="0.2473" stop-color="#259be8"/><stop offset="0.2473" stop-color="#23a0e5"/><stop offset="0.2527" stop-color="#23a0e5"/><stop offset="0.2527" stop-color="#20a5e3"/><stop offset="0.2616" stop-color="#20a5e3"/><stop offset="0.2616" stop-color="#1ca9df"/><stop offset="0.2920" stop-color="#1ca9df"/><stop offset="0.2920" stop-color="#20a5e3"/><stop offset="0.3009" stop-color="#20a5e3"/><stop offset="0.3009" stop-color="#23a0e5"/><stop offset="0.3080" stop-color="#23a0e5"/><stop offset="0.3080" stop-color="#259be8"/><stop offset="0.3152" stop-color="#259be8"/><stop offset="0.3152" stop-color="#2797eb"/><stop offset="0.3223" stop-color="#2797eb"/><stop offset="0.3223" stop-color="#2b91ef"/><stop offset="0.3277" stop-color="#2b91ef"/><stop offset="0.3277" stop-color="#2d8cf3"/><stop offset="0.3330" stop-color="#2d8cf3"/><stop offset="0.3330" stop-color="#2e87f7"/><stop offset="0.3402" stop-color="#2e87f7"/><stop offset="0.3402" stop-color="#2f81fa"/><stop offset="0.3455" stop-color="#2f81fa"/><stop offset="0.3455" stop-color="#327cfc"/><stop offset="0.3527" stop-color="#327cfc"/><stop offset="0.3527" stop-color="#3875fe"/><stop offset="0.3598" stop-color="#3875fe"/><stop offset="0.3598" stop-color="#3e6fff"/><stop offset="0.3688" stop-color="#3e6fff"/><stop offset="0.3688" stop-color="#4269fe"/><stop offset="0.3812" stop-color="#4269fe"/><stop offset="0.3812" stop-color="#4563fd"/><stop offset="0.4223" stop-color="#4563fd"/><stop offset="0.4223" stop-color="#4269fe"/><stop offset="0.4384" stop-color="#4269fe"/><stop offset="0.4384" stop-color="#3e6fff"/><stop offset="0.4509" stop-color="#3e6fff"/><stop offset="0.4509" stop-color="#3875fe"/><stop offset="0.4634" stop-color="#3875fe"/><stop offset="0.4634" stop-color="#327cfc"/><stop offset="0.4759" stop-color="#327cfc"/><stop offset="0.4759" stop-color="#2f81fa"/><stop offset="0.4955" stop-color="#2f81fa"/><stop offset="0.4955" stop-color="#2e87f7"/><stop offset="0.5598" stop-color="#2e87f7"/><stop offset="0.5598" stop-color="#2f81fa"/><stop offset="0.5920" stop-color="#2f81fa"/><stop offset="0.5920" stop-color="#327cfc"/><stop offset="1" stop-color="#327cfc"/></radialGradient><filter id="soft" x="-5%" y="-5%" width="110%" height="110%"><feGaussianBlur stdDeviation="0.65"/></filter><clipPath id="clip_h"><rect x="599.0" y="950.0" width="249.89999999999998" height="250.0"/></clipPath><linearGradient id="lg_cb1" x1="0" y1="0" x2="0" y2="1"><stop offset="0.0000" stop-color="#f9fb15"/><stop offset="0.0156" stop-color="#f7f51b"/><stop offset="0.0312" stop-color="#f6ef20"/><stop offset="0.0469" stop-color="#f5e924"/><stop offset="0.0625" stop-color="#f5e327"/><stop offset="0.0781" stop-color="#f7dd2a"/><stop offset="0.0938" stop-color="#f9d62d"/><stop offset="0.1094" stop-color="#fcd030"/><stop offset="0.1250" stop-color="#feca33"/><stop offset="0.1406" stop-color="#fec437"/><stop offset="0.1562" stop-color="#febe3c"/><stop offset="0.1719" stop-color="#f9bb3d"/><stop offset="0.1875" stop-color="#f1ba37"/><stop offset="0.2031" stop-color="#e8bb2f"/><stop offset="0.2188" stop-color="#debc2a"/><stop offset="0.2344" stop-color="#d4bf28"/><stop offset="0.2500" stop-color="#c8c129"/><stop offset="0.2656" stop-color="#bcc42f"/><stop offset="0.2812" stop-color="#afc637"/><stop offset="0.2969" stop-color="#a2c840"/><stop offset="0.3125" stop-color="#94ca4a"/><stop offset="0.3281" stop-color="#85cb55"/><stop offset="0.3438" stop-color="#77cc60"/><stop offset="0.3594" stop-color="#69cd6b"/><stop offset="0.3750" stop-color="#5ccc76"/><stop offset="0.3906" stop-color="#4fcc80"/><stop offset="0.4062" stop-color="#44ca8a"/><stop offset="0.4219" stop-color="#3ac993"/><stop offset="0.4375" stop-color="#34c79c"/><stop offset="0.4531" stop-color="#2ec5a4"/><stop offset="0.4688" stop-color="#28c2ab"/><stop offset="0.4844" stop-color="#1ec0b2"/><stop offset="0.5000" stop-color="#12beb9"/><stop offset="0.5156" stop-color="#07bcc0"/><stop offset="0.5312" stop-color="#01b9c6"/><stop offset="0.5469" stop-color="#04b6cd"/><stop offset="0.5625" stop-color="#0cb3d3"/><stop offset="0.5781" stop-color="#14b0d8"/><stop offset="0.5938" stop-color="#1aacdd"/><stop offset="0.6094" stop-color="#1ea7e1"/><stop offset="0.6250" stop-color="#21a3e3"/><stop offset="0.6406" stop-color="#249ee6"/><stop offset="0.6562" stop-color="#269ae9"/><stop offset="0.6719" stop-color="#2895ec"/><stop offset="0.6875" stop-color="#2c90f0"/><stop offset="0.7031" stop-color="#2d8bf4"/><stop offset="0.7188" stop-color="#2e85f8"/><stop offset="0.7344" stop-color="#3080fa"/><stop offset="0.7500" stop-color="#347afd"/><stop offset="0.7656" stop-color="#3a74fe"/><stop offset="0.7812" stop-color="#3f6efe"/><stop offset="0.7969" stop-color="#4368fe"/><stop offset="0.8125" stop-color="#4562fc"/><stop offset="0.8281" stop-color="#475dfa"/><stop offset="0.8438" stop-color="#4757f7"/><stop offset="0.8594" stop-color="#4852f4"/><stop offset="0.8750" stop-color="#484cef"/><stop offset="0.8906" stop-color="#4746ea"/><stop offset="0.9062" stop-color="#4741e5"/><stop offset="0.9219" stop-color="#463bdd"/><stop offset="0.9375" stop-color="#4536d5"/><stop offset="0.9531" stop-color="#4332ca"/><stop offset="0.9688" stop-color="#422ebf"/><stop offset="0.9844" stop-color="#402ab4"/><stop offset="1.0000" stop-color="#3e26a8"/></linearGradient><linearGradient id="lg_cb2" x1="0" y1="0" x2="0" y2="1"><stop offset="0.0000" stop-color="#f9fb15"/><stop offset="0.0156" stop-color="#f7f51b"/><stop offset="0.0312" stop-color="#f6ef20"/><stop offset="0.0469" stop-color="#f5e924"/><stop offset="0.0625" stop-color="#f5e327"/><stop offset="0.0781" stop-color="#f7dd2a"/><stop offset="0.0938" stop-color="#f9d62d"/><stop offset="0.1094" stop-color="#fcd030"/><stop offset="0.1250" stop-color="#feca33"/><stop offset="0.1406" stop-color="#fec437"/><stop offset="0.1562" stop-color="#febe3c"/><stop offset="0.1719" stop-color="#f9bb3d"/><stop offset="0.1875" stop-color="#f1ba37"/><stop offset="0.2031" stop-color="#e8bb2f"/><stop offset="0.2188" stop-color="#debc2a"/><stop offset="0.2344" stop-color="#d4bf28"/><stop offset="0.2500" stop-color="#c8c129"/><stop offset="0.2656" stop-color="#bcc42f"/><stop offset="0.2812" stop-color="#afc637"/><stop offset="0.2969" stop-color="#a2c840"/><stop offset="0.3125" stop-color="#94ca4a"/><stop offset="0.3281" stop-color="#85cb55"/><stop offset="0.3438" stop-color="#77cc60"/><stop offset="0.3594" stop-color="#69cd6b"/><stop offset="0.3750" stop-color="#5ccc76"/><stop offset="0.3906" stop-color="#4fcc80"/><stop offset="0.4062" stop-color="#44ca8a"/><stop offset="0.4219" stop-color="#3ac993"/><stop offset="0.4375" stop-color="#34c79c"/><stop offset="0.4531" stop-color="#2ec5a4"/><stop offset="0.4688" stop-color="#28c2ab"/><stop offset="0.4844" stop-color="#1ec0b2"/><stop offset="0.5000" stop-color="#12beb9"/><stop offset="0.5156" stop-color="#07bcc0"/><stop offset="0.5312" stop-color="#01b9c6"/><stop offset="0.5469" stop-color="#04b6cd"/><stop offset="0.5625" stop-color="#0cb3d3"/><stop offset="0.5781" stop-color="#14b0d8"/><stop offset="0.5938" stop-color="#1aacdd"/><stop offset="0.6094" stop-color="#1ea7e1"/><stop offset="0.6250" stop-color="#21a3e3"/><stop offset="0.6406" stop-color="#249ee6"/><stop offset="0.6562" stop-color="#269ae9"/><stop offset="0.6719" stop-color="#2895ec"/><stop offset="0.6875" stop-color="#2c90f0"/><stop offset="0.7031" stop-color="#2d8bf4"/><stop offset="0.7188" stop-color="#2e85f8"/><stop offset="0.7344" stop-color="#3080fa"/><stop offset="0.7500" stop-color="#347afd"/><stop offset="0.7656" stop-color="#3a74fe"/><stop offset="0.7812" stop-color="#3f6efe"/><stop offset="0.7969" stop-color="#4368fe"/><stop offset="0.8125" stop-color="#4562fc"/><stop offset="0.8281" stop-color="#475dfa"/><stop offset="0.8438" stop-color="#4757f7"/><stop offset="0.8594" stop-color="#4852f4"/><stop offset="0.8750" stop-color="#484cef"/><stop offset="0.8906" stop-color="#4746ea"/><stop offset="0.9062" stop-color="#4741e5"/><stop offset="0.9219" stop-color="#463bdd"/><stop offset="0.9375" stop-color="#4536d5"/><stop offset="0.9531" stop-color="#4332ca"/><stop offset="0.9688" stop-color="#422ebf"/><stop offset="0.9844" stop-color="#402ab4"/><stop offset="1.0000" stop-color="#3e26a8"/></linearGradient><linearGradient id="lg_cb3" x1="0" y1="0" x2="0" y2="1"><stop offset="0.0000" stop-color="#f9fb15"/><stop offset="0.0156" stop-color="#f7f51b"/><stop offset="0.0312" stop-color="#f6ef20"/><stop offset="0.0469" stop-color="#f5e924"/><stop offset="0.0625" stop-color="#f5e327"/><stop offset="0.0781" stop-color="#f7dd2a"/><stop offset="0.0938" stop-color="#f9d62d"/><stop offset="0.1094" stop-color="#fcd030"/><stop offset="0.1250" stop-color="#feca33"/><stop offset="0.1406" stop-color="#fec437"/><stop offset="0.1562" stop-color="#febe3c"/><stop offset="0.1719" stop-color="#f9bb3d"/><stop offset="0.1875" stop-color="#f1ba37"/><stop offset="0.2031" stop-color="#e8bb2f"/><stop offset="0.2188" stop-color="#debc2a"/><stop offset="0.2344" stop-color="#d4bf28"/><stop offset="0.2500" stop-color="#c8c129"/><stop offset="0.2656" stop-color="#bcc42f"/><stop offset="0.2812" stop-color="#afc637"/><stop offset="0.2969" stop-color="#a2c840"/><stop offset="0.3125" stop-color="#94ca4a"/><stop offset="0.3281" stop-color="#85cb55"/><stop offset="0.3438" stop-color="#77cc60"/><stop offset="0.3594" stop-color="#69cd6b"/><stop offset="0.3750" stop-color="#5ccc76"/><stop offset="0.3906" stop-color="#4fcc80"/><stop offset="0.4062" stop-color="#44ca8a"/><stop offset="0.4219" stop-color="#3ac993"/><stop offset="0.4375" stop-color="#34c79c"/><stop offset="0.4531" stop-color="#2ec5a4"/><stop offset="0.4688" stop-color="#28c2ab"/><stop offset="0.4844" stop-color="#1ec0b2"/><stop offset="0.5000" stop-color="#12beb9"/><stop offset="0.5156" stop-color="#07bcc0"/><stop offset="0.5312" stop-color="#01b9c6"/><stop offset="0.5469" stop-color="#04b6cd"/><stop offset="0.5625" stop-color="#0cb3d3"/><stop offset="0.5781" stop-color="#14b0d8"/><stop offset="0.5938" stop-color="#1aacdd"/><stop offset="0.6094" stop-color="#1ea7e1"/><stop offset="0.6250" stop-color="#21a3e3"/><stop offset="0.6406" stop-color="#249ee6"/><stop offset="0.6562" stop-color="#269ae9"/><stop offset="0.6719" stop-color="#2895ec"/><stop offset="0.6875" stop-color="#2c90f0"/><stop offset="0.7031" stop-color="#2d8bf4"/><stop offset="0.7188" stop-color="#2e85f8"/><stop offset="0.7344" stop-color="#3080fa"/><stop offset="0.7500" stop-color="#347afd"/><stop offset="0.7656" stop-color="#3a74fe"/><stop offset="0.7812" stop-color="#3f6efe"/><stop offset="0.7969" stop-color="#4368fe"/><stop offset="0.8125" stop-color="#4562fc"/><stop offset="0.8281" stop-color="#475dfa"/><stop offset="0.8438" stop-color="#4757f7"/><stop offset="0.8594" stop-color="#4852f4"/><stop offset="0.8750" stop-color="#484cef"/><stop offset="0.8906" stop-color="#4746ea"/><stop offset="0.9062" stop-color="#4741e5"/><stop offset="0.9219" stop-color="#463bdd"/><stop offset="0.9375" stop-color="#4536d5"/><stop offset="0.9531" stop-color="#4332ca"/><stop offset="0.9688" stop-color="#422ebf"/><stop offset="0.9844" stop-color="#402ab4"/><stop offset="1.0000" stop-color="#3e26a8"/></linearGradient><clipPath id="clip_i"><rect x="1087.0" y="949.8" width="311.0" height="250.60000000000014"/></clipPath></defs>
<rect width="1400" height="1273" fill="#fff"/>
<rect x="227.0" y="88.0" width="252.60" height="252.60" fill="url(#g_a)"/>
<rect x="598.0" y="88.0" width="251.90" height="252.60" fill="url(#g_b)"/>
<rect x="227.0" y="518.0" width="252.80" height="252.00" fill="url(#g_d)"/>
<rect x="598.0" y="518.0" width="251.90" height="252.00" fill="url(#g_e)"/>
<rect x="228.6" y="950.0" width="249.40" height="250.00" fill="#1ac0b5"/>
<rect x="599.0" y="950.0" width="249.90" height="250.00" fill="#12beb9"/>
<g clip-path="url(#clip_h)"><g shape-rendering="crispEdges" filter="url(#soft)"><rect x="689" y="1002" width="2" height="2" fill="#01b9c7"/><rect x="691" y="1002" width="2" height="2" fill="#01b8c9"/><rect x="699" y="1008" width="2" height="2" fill="#2bc3a8"/><rect x="701" y="1008" width="2" height="2" fill="#28c3aa"/><rect x="723" y="1010" width="2" height="2" fill="#30c5a1"/><rect x="707" y="1012" width="2" height="2" fill="#32c69f"/><rect x="709" y="1012" width="2" height="2" fill="#3eca8f"/><rect x="711" y="1012" width="2" height="2" fill="#34c79c"/><rect x="753" y="1012" width="2" height="2" fill="#06b5cf"/><rect x="709" y="1014" width="2" height="2" fill="#2bc3a8"/><rect x="761" y="1014" width="2" height="2" fill="#01b9c6"/><rect x="765" y="1014" width="2" height="2" fill="#01b8c8"/><rect x="675" y="1016" width="2" height="2" fill="#2ac3a9"/><rect x="665" y="1018" width="2" height="2" fill="#2bc3a8"/><rect x="667" y="1018" width="2" height="2" fill="#2ec4a4"/><rect x="669" y="1018" width="2" height="2" fill="#2ac3a9"/><rect x="717" y="1018" width="2" height="2" fill="#01b9c7"/><rect x="719" y="1018" width="2" height="2" fill="#01b9c8"/><rect x="725" y="1018" width="2" height="2" fill="#01b9c7"/><rect x="747" y="1018" width="2" height="2" fill="#05b6cd"/><rect x="681" y="1020" width="2" height="2" fill="#33c69d"/><rect x="683" y="1020" width="2" height="2" fill="#31c6a0"/><rect x="705" y="1020" width="2" height="2" fill="#2ec5a3"/><rect x="707" y="1020" width="2" height="2" fill="#28c3ab"/><rect x="725" y="1020" width="2" height="2" fill="#02b7cb"/><rect x="727" y="1020" width="2" height="2" fill="#14b0d8"/><rect x="739" y="1020" width="2" height="2" fill="#28c3aa"/><rect x="751" y="1020" width="2" height="2" fill="#01b9c8"/><rect x="753" y="1020" width="2" height="2" fill="#0bb3d2"/><rect x="755" y="1020" width="2" height="2" fill="#01b9c7"/><rect x="679" y="1022" width="2" height="2" fill="#29c3a9"/><rect x="695" y="1022" width="2" height="2" fill="#32c69f"/><rect x="697" y="1022" width="2" height="2" fill="#3ac993"/><rect x="699" y="1022" width="2" height="2" fill="#4fcc80"/><rect x="701" y="1022" width="2" height="2" fill="#50cc7f"/><rect x="725" y="1022" width="2" height="2" fill="#2ec4a4"/><rect x="727" y="1022" width="2" height="2" fill="#2ec4a5"/><rect x="739" y="1022" width="2" height="2" fill="#27c2ab"/><rect x="747" y="1022" width="2" height="2" fill="#28c3ab"/><rect x="665" y="1024" width="2" height="2" fill="#01b9c6"/><rect x="695" y="1024" width="2" height="2" fill="#1ca9df"/><rect x="697" y="1024" width="2" height="2" fill="#2798ea"/><rect x="699" y="1024" width="2" height="2" fill="#16afd9"/><rect x="703" y="1024" width="2" height="2" fill="#30c5a2"/><rect x="705" y="1024" width="2" height="2" fill="#29c3aa"/><rect x="713" y="1024" width="2" height="2" fill="#03b7cc"/><rect x="715" y="1024" width="2" height="2" fill="#13b0d7"/><rect x="717" y="1024" width="2" height="2" fill="#02b7cb"/><rect x="721" y="1024" width="2" height="2" fill="#2ac3a9"/><rect x="723" y="1024" width="2" height="2" fill="#2dc4a6"/><rect x="725" y="1024" width="2" height="2" fill="#2ac3a9"/><rect x="727" y="1024" width="2" height="2" fill="#27c2ac"/><rect x="729" y="1024" width="2" height="2" fill="#29c3aa"/><rect x="737" y="1024" width="2" height="2" fill="#09b4d1"/><rect x="739" y="1024" width="2" height="2" fill="#1caadf"/><rect x="741" y="1024" width="2" height="2" fill="#04b6cc"/><rect x="745" y="1024" width="2" height="2" fill="#37c897"/><rect x="747" y="1024" width="2" height="2" fill="#37c897"/><rect x="783" y="1024" width="2" height="2" fill="#29c3aa"/><rect x="785" y="1024" width="2" height="2" fill="#28c2ab"/><rect x="693" y="1026" width="2" height="2" fill="#5bcc77"/><rect x="695" y="1026" width="2" height="2" fill="#94ca4a"/><rect x="697" y="1026" width="2" height="2" fill="#79cc5e"/><rect x="699" y="1026" width="2" height="2" fill="#4ccb83"/><rect x="701" y="1026" width="2" height="2" fill="#31c6a0"/><rect x="703" y="1026" width="2" height="2" fill="#2ec4a4"/><rect x="705" y="1026" width="2" height="2" fill="#30c5a1"/><rect x="707" y="1026" width="2" height="2" fill="#2dc4a6"/><rect x="713" y="1026" width="2" height="2" fill="#01b9c6"/><rect x="721" y="1026" width="2" height="2" fill="#01b8c8"/><rect x="741" y="1026" width="2" height="2" fill="#01b9c7"/><rect x="743" y="1026" width="2" height="2" fill="#0fb2d4"/><rect x="745" y="1026" width="2" height="2" fill="#01b8ca"/><rect x="751" y="1026" width="2" height="2" fill="#27c2ac"/><rect x="687" y="1028" width="2" height="2" fill="#2cc4a7"/><rect x="689" y="1028" width="2" height="2" fill="#33c79d"/><rect x="691" y="1028" width="2" height="2" fill="#2dc4a6"/><rect x="701" y="1028" width="2" height="2" fill="#2cc4a7"/><rect x="707" y="1028" width="2" height="2" fill="#05b6ce"/><rect x="709" y="1028" width="2" height="2" fill="#02b7cb"/><rect x="713" y="1028" width="2" height="2" fill="#30c5a1"/><rect x="715" y="1028" width="2" height="2" fill="#35c79a"/><rect x="717" y="1028" width="2" height="2" fill="#2bc3a8"/><rect x="721" y="1028" width="2" height="2" fill="#0cb3d2"/><rect x="723" y="1028" width="2" height="2" fill="#14b0d8"/><rect x="725" y="1028" width="2" height="2" fill="#1aabdd"/><rect x="727" y="1028" width="2" height="2" fill="#10b2d5"/><rect x="729" y="1028" width="2" height="2" fill="#0db3d4"/><rect x="731" y="1028" width="2" height="2" fill="#01b8c8"/><rect x="739" y="1028" width="2" height="2" fill="#2ac3a9"/><rect x="741" y="1028" width="2" height="2" fill="#30c5a1"/><rect x="743" y="1028" width="2" height="2" fill="#27c2ab"/><rect x="747" y="1028" width="2" height="2" fill="#1babde"/><rect x="749" y="1028" width="2" height="2" fill="#17aeda"/><rect x="757" y="1028" width="2" height="2" fill="#27c2ac"/><rect x="759" y="1028" width="2" height="2" fill="#2cc4a6"/><rect x="771" y="1028" width="2" height="2" fill="#2ec5a4"/><rect x="667" y="1030" width="2" height="2" fill="#01b8c9"/><rect x="675" y="1030" width="2" height="2" fill="#2fc5a3"/><rect x="677" y="1030" width="2" height="2" fill="#3ac994"/><rect x="679" y="1030" width="2" height="2" fill="#3ac994"/><rect x="681" y="1030" width="2" height="2" fill="#29c3aa"/><rect x="685" y="1030" width="2" height="2" fill="#02b7cb"/><rect x="687" y="1030" width="2" height="2" fill="#17aeda"/><rect x="689" y="1030" width="2" height="2" fill="#1fa6e1"/><rect x="691" y="1030" width="2" height="2" fill="#07b5cf"/><rect x="705" y="1030" width="2" height="2" fill="#2fc5a3"/><rect x="707" y="1030" width="2" height="2" fill="#3eca8f"/><rect x="709" y="1030" width="2" height="2" fill="#4dcc82"/><rect x="711" y="1030" width="2" height="2" fill="#32c69e"/><rect x="725" y="1030" width="2" height="2" fill="#30c5a1"/><rect x="729" y="1030" width="2" height="2" fill="#09b4d1"/><rect x="731" y="1030" width="2" height="2" fill="#0ab4d2"/><rect x="733" y="1030" width="2" height="2" fill="#0db3d3"/><rect x="735" y="1030" width="2" height="2" fill="#0ab4d2"/><rect x="737" y="1030" width="2" height="2" fill="#01b7ca"/><rect x="739" y="1030" width="2" height="2" fill="#01b9c7"/><rect x="745" y="1030" width="2" height="2" fill="#29c3aa"/><rect x="757" y="1030" width="2" height="2" fill="#2fc5a3"/><rect x="759" y="1030" width="2" height="2" fill="#46cb88"/><rect x="761" y="1030" width="2" height="2" fill="#38c896"/><rect x="677" y="1032" width="2" height="2" fill="#01b9c6"/><rect x="697" y="1032" width="2" height="2" fill="#31c5a1"/><rect x="699" y="1032" width="2" height="2" fill="#8acb52"/><rect x="701" y="1032" width="2" height="2" fill="#96ca48"/><rect x="703" y="1032" width="2" height="2" fill="#2dc4a6"/><rect x="707" y="1032" width="2" height="2" fill="#01b9c8"/><rect x="715" y="1032" width="2" height="2" fill="#07b5cf"/><rect x="717" y="1032" width="2" height="2" fill="#1aabdd"/><rect x="719" y="1032" width="2" height="2" fill="#07b5d0"/><rect x="723" y="1032" width="2" height="2" fill="#35c79a"/><rect x="725" y="1032" width="2" height="2" fill="#2bc3a8"/><rect x="733" y="1032" width="2" height="2" fill="#2dc4a6"/><rect x="741" y="1032" width="2" height="2" fill="#2ec4a4"/><rect x="747" y="1032" width="2" height="2" fill="#2dc4a6"/><rect x="749" y="1032" width="2" height="2" fill="#30c5a2"/><rect x="761" y="1032" width="2" height="2" fill="#01b9c7"/><rect x="763" y="1032" width="2" height="2" fill="#01b8c9"/><rect x="681" y="1034" width="2" height="2" fill="#2ac3a9"/><rect x="683" y="1034" width="2" height="2" fill="#33c79d"/><rect x="685" y="1034" width="2" height="2" fill="#34c79c"/><rect x="687" y="1034" width="2" height="2" fill="#2cc4a7"/><rect x="693" y="1034" width="2" height="2" fill="#01b9c7"/><rect x="695" y="1034" width="2" height="2" fill="#01b9c6"/><rect x="697" y="1034" width="2" height="2" fill="#01b9c8"/><rect x="699" y="1034" width="2" height="2" fill="#03b7cc"/><rect x="701" y="1034" width="2" height="2" fill="#1ca9df"/><rect x="703" y="1034" width="2" height="2" fill="#20a5e2"/><rect x="705" y="1034" width="2" height="2" fill="#0db3d3"/><rect x="707" y="1034" width="2" height="2" fill="#02b7cb"/><rect x="713" y="1034" width="2" height="2" fill="#73cd63"/><rect x="715" y="1034" width="2" height="2" fill="#a3c83f"/><rect x="717" y="1034" width="2" height="2" fill="#36c898"/><rect x="721" y="1034" width="2" height="2" fill="#05b6cd"/><rect x="723" y="1034" width="2" height="2" fill="#01b9c8"/><rect x="729" y="1034" width="2" height="2" fill="#2ec4a5"/><rect x="731" y="1034" width="2" height="2" fill="#30c5a1"/><rect x="741" y="1034" width="2" height="2" fill="#01b8c9"/><rect x="743" y="1034" width="2" height="2" fill="#01b9c6"/><rect x="749" y="1034" width="2" height="2" fill="#05b6cd"/><rect x="751" y="1034" width="2" height="2" fill="#06b5cf"/><rect x="753" y="1034" width="2" height="2" fill="#01b8c8"/><rect x="755" y="1034" width="2" height="2" fill="#06b5cf"/><rect x="757" y="1034" width="2" height="2" fill="#16aeda"/><rect x="759" y="1034" width="2" height="2" fill="#04b6cc"/><rect x="669" y="1036" width="2" height="2" fill="#01b8c9"/><rect x="671" y="1036" width="2" height="2" fill="#01b8c9"/><rect x="677" y="1036" width="2" height="2" fill="#01b9c6"/><rect x="679" y="1036" width="2" height="2" fill="#02b7cb"/><rect x="681" y="1036" width="2" height="2" fill="#02b7cb"/><rect x="687" y="1036" width="2" height="2" fill="#2dc4a6"/><rect x="689" y="1036" width="2" height="2" fill="#34c79c"/><rect x="691" y="1036" width="2" height="2" fill="#28c2ab"/><rect x="705" y="1036" width="2" height="2" fill="#01b9c7"/><rect x="707" y="1036" width="2" height="2" fill="#15afd9"/><rect x="709" y="1036" width="2" height="2" fill="#12b1d7"/><rect x="723" y="1036" width="2" height="2" fill="#2ac3a9"/><rect x="725" y="1036" width="2" height="2" fill="#32c69f"/><rect x="727" y="1036" width="2" height="2" fill="#31c6a0"/><rect x="739" y="1036" width="2" height="2" fill="#2dc4a5"/><rect x="741" y="1036" width="2" height="2" fill="#34c79c"/><rect x="743" y="1036" width="2" height="2" fill="#36c799"/><rect x="745" y="1036" width="2" height="2" fill="#37c897"/><rect x="747" y="1036" width="2" height="2" fill="#32c69f"/><rect x="751" y="1036" width="2" height="2" fill="#01b9c7"/><rect x="753" y="1036" width="2" height="2" fill="#1aabdd"/><rect x="755" y="1036" width="2" height="2" fill="#1ea7e1"/><rect x="757" y="1036" width="2" height="2" fill="#06b5cf"/><rect x="767" y="1036" width="2" height="2" fill="#01b9c7"/><rect x="769" y="1036" width="2" height="2" fill="#01b9c7"/><rect x="667" y="1038" width="2" height="2" fill="#01b9c6"/><rect x="679" y="1038" width="2" height="2" fill="#27c2ab"/><rect x="687" y="1038" width="2" height="2" fill="#28c3aa"/><rect x="689" y="1038" width="2" height="2" fill="#98ca47"/><rect x="691" y="1038" width="2" height="2" fill="#debd29"/><rect x="693" y="1038" width="2" height="2" fill="#94ca4a"/><rect x="695" y="1038" width="2" height="2" fill="#31c6a0"/><rect x="701" y="1038" width="2" height="2" fill="#01b8ca"/><rect x="703" y="1038" width="2" height="2" fill="#0ab4d1"/><rect x="707" y="1038" width="2" height="2" fill="#38c896"/><rect x="709" y="1038" width="2" height="2" fill="#5acc77"/><rect x="711" y="1038" width="2" height="2" fill="#4acb85"/><rect x="713" y="1038" width="2" height="2" fill="#63cd70"/><rect x="715" y="1038" width="2" height="2" fill="#c5c22a"/><rect x="717" y="1038" width="2" height="2" fill="#85cb55"/><rect x="719" y="1038" width="2" height="2" fill="#46cb88"/><rect x="721" y="1038" width="2" height="2" fill="#43ca8b"/><rect x="723" y="1038" width="2" height="2" fill="#34c79c"/><rect x="725" y="1038" width="2" height="2" fill="#2ac3a9"/><rect x="729" y="1038" width="2" height="2" fill="#34c79c"/><rect x="731" y="1038" width="2" height="2" fill="#49cb85"/><rect x="733" y="1038" width="2" height="2" fill="#45cb89"/><rect x="735" y="1038" width="2" height="2" fill="#32c69f"/><rect x="737" y="1038" width="2" height="2" fill="#01b8c9"/><rect x="739" y="1038" width="2" height="2" fill="#15afd8"/><rect x="741" y="1038" width="2" height="2" fill="#09b4d1"/><rect x="743" y="1038" width="2" height="2" fill="#02b7cb"/><rect x="745" y="1038" width="2" height="2" fill="#0cb3d3"/><rect x="747" y="1038" width="2" height="2" fill="#12b1d7"/><rect x="771" y="1038" width="2" height="2" fill="#28c2ab"/><rect x="783" y="1038" width="2" height="2" fill="#01b9c6"/><rect x="785" y="1038" width="2" height="2" fill="#01b9c7"/><rect x="789" y="1038" width="2" height="2" fill="#01b8ca"/><rect x="791" y="1038" width="2" height="2" fill="#03b7cb"/><rect x="657" y="1040" width="2" height="2" fill="#2cc4a7"/><rect x="659" y="1040" width="2" height="2" fill="#2ec4a5"/><rect x="661" y="1040" width="2" height="2" fill="#2cc4a7"/><rect x="679" y="1040" width="2" height="2" fill="#07b5d0"/><rect x="681" y="1040" width="2" height="2" fill="#02b7cb"/><rect x="685" y="1040" width="2" height="2" fill="#01b9c7"/><rect x="687" y="1040" width="2" height="2" fill="#0ab4d1"/><rect x="689" y="1040" width="2" height="2" fill="#08b4d0"/><rect x="695" y="1040" width="2" height="2" fill="#04b6cd"/><rect x="697" y="1040" width="2" height="2" fill="#1ea8e1"/><rect x="699" y="1040" width="2" height="2" fill="#1aabdd"/><rect x="703" y="1040" width="2" height="2" fill="#2ec5a3"/><rect x="705" y="1040" width="2" height="2" fill="#2ec4a4"/><rect x="707" y="1040" width="2" height="2" fill="#2dc4a6"/><rect x="709" y="1040" width="2" height="2" fill="#3ac994"/><rect x="711" y="1040" width="2" height="2" fill="#31c6a0"/><rect x="715" y="1040" width="2" height="2" fill="#01b8ca"/><rect x="717" y="1040" width="2" height="2" fill="#2fc5a3"/><rect x="719" y="1040" width="2" height="2" fill="#47cb87"/><rect x="723" y="1040" width="2" height="2" fill="#14b0d8"/><rect x="725" y="1040" width="2" height="2" fill="#12b1d6"/><rect x="729" y="1040" width="2" height="2" fill="#32c69e"/><rect x="731" y="1040" width="2" height="2" fill="#28c3aa"/><rect x="741" y="1040" width="2" height="2" fill="#2cc4a7"/><rect x="743" y="1040" width="2" height="2" fill="#2bc3a8"/><rect x="745" y="1040" width="2" height="2" fill="#2cc4a6"/><rect x="747" y="1040" width="2" height="2" fill="#2bc3a8"/><rect x="749" y="1040" width="2" height="2" fill="#28c3aa"/><rect x="753" y="1040" width="2" height="2" fill="#04b6cd"/><rect x="755" y="1040" width="2" height="2" fill="#03b7cc"/><rect x="757" y="1040" width="2" height="2" fill="#01b9c6"/><rect x="767" y="1040" width="2" height="2" fill="#01b9c7"/><rect x="769" y="1040" width="2" height="2" fill="#03b7cb"/><rect x="687" y="1042" width="2" height="2" fill="#29c3a9"/><rect x="689" y="1042" width="2" height="2" fill="#32c69e"/><rect x="691" y="1042" width="2" height="2" fill="#3fca8e"/><rect x="693" y="1042" width="2" height="2" fill="#6dcd68"/><rect x="695" y="1042" width="2" height="2" fill="#5acc77"/><rect x="697" y="1042" width="2" height="2" fill="#2fc5a2"/><rect x="705" y="1042" width="2" height="2" fill="#15afd9"/><rect x="707" y="1042" width="2" height="2" fill="#3479fd"/><rect x="709" y="1042" width="2" height="2" fill="#2d8df2"/><rect x="713" y="1042" width="2" height="2" fill="#a9c73a"/><rect x="715" y="1042" width="2" height="2" fill="#c8c129"/><rect x="717" y="1042" width="2" height="2" fill="#3eca8f"/><rect x="719" y="1042" width="2" height="2" fill="#2dc4a5"/><rect x="721" y="1042" width="2" height="2" fill="#39c995"/><rect x="723" y="1042" width="2" height="2" fill="#3dc991"/><rect x="727" y="1042" width="2" height="2" fill="#1ea7e1"/><rect x="729" y="1042" width="2" height="2" fill="#2797eb"/><rect x="731" y="1042" width="2" height="2" fill="#2d88f6"/><rect x="733" y="1042" width="2" height="2" fill="#406dfe"/><rect x="735" y="1042" width="2" height="2" fill="#3c72ff"/><rect x="737" y="1042" width="2" height="2" fill="#1caadf"/><rect x="741" y="1042" width="2" height="2" fill="#01b8c8"/><rect x="743" y="1042" width="2" height="2" fill="#0cb3d3"/><rect x="745" y="1042" width="2" height="2" fill="#02b7cb"/><rect x="747" y="1042" width="2" height="2" fill="#2fc5a3"/><rect x="749" y="1042" width="2" height="2" fill="#87cb54"/><rect x="751" y="1042" width="2" height="2" fill="#9ac945"/><rect x="753" y="1042" width="2" height="2" fill="#90ca4d"/><rect x="755" y="1042" width="2" height="2" fill="#3bc993"/><rect x="757" y="1042" width="2" height="2" fill="#32c69f"/><rect x="759" y="1042" width="2" height="2" fill="#36c899"/><rect x="761" y="1042" width="2" height="2" fill="#3cc991"/><rect x="763" y="1042" width="2" height="2" fill="#37c897"/><rect x="769" y="1042" width="2" height="2" fill="#32c69e"/><rect x="771" y="1042" width="2" height="2" fill="#3dc990"/><rect x="773" y="1042" width="2" height="2" fill="#29c3a9"/><rect x="791" y="1042" width="2" height="2" fill="#27c2ab"/><rect x="649" y="1044" width="2" height="2" fill="#01b9c8"/><rect x="661" y="1044" width="2" height="2" fill="#28c3aa"/><rect x="663" y="1044" width="2" height="2" fill="#28c3ab"/><rect x="671" y="1044" width="2" height="2" fill="#01b8c8"/><rect x="673" y="1044" width="2" height="2" fill="#01b9c7"/><rect x="681" y="1044" width="2" height="2" fill="#34c79b"/><rect x="683" y="1044" width="2" height="2" fill="#40ca8d"/><rect x="685" y="1044" width="2" height="2" fill="#3ac994"/><rect x="687" y="1044" width="2" height="2" fill="#37c897"/><rect x="689" y="1044" width="2" height="2" fill="#35c79a"/><rect x="691" y="1044" width="2" height="2" fill="#2bc3a8"/><rect x="693" y="1044" width="2" height="2" fill="#06b5cf"/><rect x="695" y="1044" width="2" height="2" fill="#2699e9"/><rect x="697" y="1044" width="2" height="2" fill="#337bfd"/><rect x="699" y="1044" width="2" height="2" fill="#3f6eff"/><rect x="701" y="1044" width="2" height="2" fill="#2b92ef"/><rect x="703" y="1044" width="2" height="2" fill="#09b4d1"/><rect x="707" y="1044" width="2" height="2" fill="#0db3d3"/><rect x="709" y="1044" width="2" height="2" fill="#406dfe"/><rect x="711" y="1044" width="2" height="2" fill="#475cfa"/><rect x="713" y="1044" width="2" height="2" fill="#07b5d0"/><rect x="715" y="1044" width="2" height="2" fill="#3eca8f"/><rect x="717" y="1044" width="2" height="2" fill="#32c69e"/><rect x="719" y="1044" width="2" height="2" fill="#19addc"/><rect x="721" y="1044" width="2" height="2" fill="#269ae8"/><rect x="723" y="1044" width="2" height="2" fill="#02b7cb"/><rect x="725" y="1044" width="2" height="2" fill="#36c898"/><rect x="727" y="1044" width="2" height="2" fill="#3cc991"/><rect x="729" y="1044" width="2" height="2" fill="#29c3aa"/><rect x="731" y="1044" width="2" height="2" fill="#04b6cd"/><rect x="733" y="1044" width="2" height="2" fill="#18addb"/><rect x="737" y="1044" width="2" height="2" fill="#32c69f"/><rect x="739" y="1044" width="2" height="2" fill="#2fc5a3"/><rect x="743" y="1044" width="2" height="2" fill="#0bb4d2"/><rect x="745" y="1044" width="2" height="2" fill="#0cb3d3"/><rect x="747" y="1044" width="2" height="2" fill="#1aacdd"/><rect x="749" y="1044" width="2" height="2" fill="#1babde"/><rect x="751" y="1044" width="2" height="2" fill="#01b8c8"/><rect x="757" y="1044" width="2" height="2" fill="#02b7cb"/><rect x="765" y="1044" width="2" height="2" fill="#01b8ca"/><rect x="767" y="1044" width="2" height="2" fill="#06b5ce"/><rect x="679" y="1046" width="2" height="2" fill="#2dc4a6"/><rect x="689" y="1046" width="2" height="2" fill="#36c799"/><rect x="691" y="1046" width="2" height="2" fill="#37c897"/><rect x="695" y="1046" width="2" height="2" fill="#249ee6"/><rect x="697" y="1046" width="2" height="2" fill="#2797eb"/><rect x="701" y="1046" width="2" height="2" fill="#3eca90"/><rect x="703" y="1046" width="2" height="2" fill="#32c69e"/><rect x="705" y="1046" width="2" height="2" fill="#2dc4a6"/><rect x="707" y="1046" width="2" height="2" fill="#2fc5a2"/><rect x="709" y="1046" width="2" height="2" fill="#49cb85"/><rect x="711" y="1046" width="2" height="2" fill="#45cb89"/><rect x="713" y="1046" width="2" height="2" fill="#34c79b"/><rect x="715" y="1046" width="2" height="2" fill="#33c79d"/><rect x="717" y="1046" width="2" height="2" fill="#29c3a9"/><rect x="721" y="1046" width="2" height="2" fill="#01b9c7"/><rect x="723" y="1046" width="2" height="2" fill="#01b8c8"/><rect x="727" y="1046" width="2" height="2" fill="#34c79b"/><rect x="729" y="1046" width="2" height="2" fill="#58cc7a"/><rect x="731" y="1046" width="2" height="2" fill="#4dcc82"/><rect x="735" y="1046" width="2" height="2" fill="#1fa6e2"/><rect x="737" y="1046" width="2" height="2" fill="#2d8df2"/><rect x="739" y="1046" width="2" height="2" fill="#23a0e5"/><rect x="741" y="1046" width="2" height="2" fill="#14b0d8"/><rect x="745" y="1046" width="2" height="2" fill="#38c896"/><rect x="747" y="1046" width="2" height="2" fill="#2cc4a6"/><rect x="749" y="1046" width="2" height="2" fill="#02b7cb"/><rect x="751" y="1046" width="2" height="2" fill="#14b0d8"/><rect x="755" y="1046" width="2" height="2" fill="#31c6a0"/><rect x="757" y="1046" width="2" height="2" fill="#3ac994"/><rect x="759" y="1046" width="2" height="2" fill="#36c799"/><rect x="771" y="1046" width="2" height="2" fill="#30c5a1"/><rect x="773" y="1046" width="2" height="2" fill="#3eca8f"/><rect x="775" y="1046" width="2" height="2" fill="#2bc4a7"/><rect x="653" y="1048" width="2" height="2" fill="#04b6cd"/><rect x="679" y="1048" width="2" height="2" fill="#01b8c8"/><rect x="683" y="1048" width="2" height="2" fill="#30c5a1"/><rect x="685" y="1048" width="2" height="2" fill="#8fcb4e"/><rect x="687" y="1048" width="2" height="2" fill="#8ecb4f"/><rect x="689" y="1048" width="2" height="2" fill="#35c799"/><rect x="693" y="1048" width="2" height="2" fill="#0fb2d4"/><rect x="695" y="1048" width="2" height="2" fill="#1da8e0"/><rect x="697" y="1048" width="2" height="2" fill="#249de6"/><rect x="699" y="1048" width="2" height="2" fill="#21a3e3"/><rect x="701" y="1048" width="2" height="2" fill="#1ea7e1"/><rect x="703" y="1048" width="2" height="2" fill="#1babde"/><rect x="705" y="1048" width="2" height="2" fill="#15afd9"/><rect x="709" y="1048" width="2" height="2" fill="#55cc7b"/><rect x="711" y="1048" width="2" height="2" fill="#a6c83d"/><rect x="713" y="1048" width="2" height="2" fill="#9bc944"/><rect x="715" y="1048" width="2" height="2" fill="#73cd63"/><rect x="717" y="1048" width="2" height="2" fill="#acc738"/><rect x="719" y="1048" width="2" height="2" fill="#d9be28"/><rect x="721" y="1048" width="2" height="2" fill="#34c79c"/><rect x="723" y="1048" width="2" height="2" fill="#05b6ce"/><rect x="725" y="1048" width="2" height="2" fill="#01b8ca"/><rect x="727" y="1048" width="2" height="2" fill="#2dc4a6"/><rect x="729" y="1048" width="2" height="2" fill="#67cd6d"/><rect x="731" y="1048" width="2" height="2" fill="#45cb88"/><rect x="735" y="1048" width="2" height="2" fill="#01b9c7"/><rect x="737" y="1048" width="2" height="2" fill="#04b6cc"/><rect x="741" y="1048" width="2" height="2" fill="#01b8c8"/><rect x="743" y="1048" width="2" height="2" fill="#01b8ca"/><rect x="747" y="1048" width="2" height="2" fill="#2cc4a6"/><rect x="749" y="1048" width="2" height="2" fill="#2dc4a5"/><rect x="755" y="1048" width="2" height="2" fill="#01b8ca"/><rect x="757" y="1048" width="2" height="2" fill="#0ab4d2"/><rect x="759" y="1048" width="2" height="2" fill="#0bb4d2"/><rect x="761" y="1048" width="2" height="2" fill="#05b6ce"/><rect x="781" y="1048" width="2" height="2" fill="#30c5a2"/><rect x="783" y="1048" width="2" height="2" fill="#2ec5a4"/><rect x="661" y="1050" width="2" height="2" fill="#01b8c8"/><rect x="665" y="1050" width="2" height="2" fill="#2bc3a8"/><rect x="667" y="1050" width="2" height="2" fill="#33c69d"/><rect x="669" y="1050" width="2" height="2" fill="#2cc4a7"/><rect x="675" y="1050" width="2" height="2" fill="#29c3a9"/><rect x="677" y="1050" width="2" height="2" fill="#27c2ac"/><rect x="681" y="1050" width="2" height="2" fill="#0db3d3"/><rect x="683" y="1050" width="2" height="2" fill="#16afd9"/><rect x="685" y="1050" width="2" height="2" fill="#01b9c7"/><rect x="693" y="1050" width="2" height="2" fill="#1caadf"/><rect x="695" y="1050" width="2" height="2" fill="#1fa5e2"/><rect x="697" y="1050" width="2" height="2" fill="#06b5ce"/><rect x="703" y="1050" width="2" height="2" fill="#0fb2d4"/><rect x="705" y="1050" width="2" height="2" fill="#04b6cd"/><rect x="707" y="1050" width="2" height="2" fill="#05b6ce"/><rect x="709" y="1050" width="2" height="2" fill="#0bb3d2"/><rect x="713" y="1050" width="2" height="2" fill="#2ec4a4"/><rect x="717" y="1050" width="2" height="2" fill="#19addc"/><rect x="719" y="1050" width="2" height="2" fill="#13b1d7"/><rect x="723" y="1050" width="2" height="2" fill="#3eca8f"/><rect x="725" y="1050" width="2" height="2" fill="#39c895"/><rect x="731" y="1050" width="2" height="2" fill="#34c79c"/><rect x="733" y="1050" width="2" height="2" fill="#3dc991"/><rect x="737" y="1050" width="2" height="2" fill="#15afd9"/><rect x="739" y="1050" width="2" height="2" fill="#12b1d6"/><rect x="741" y="1050" width="2" height="2" fill="#07b5cf"/><rect x="743" y="1050" width="2" height="2" fill="#04b6cd"/><rect x="745" y="1050" width="2" height="2" fill="#12b1d6"/><rect x="747" y="1050" width="2" height="2" fill="#13b1d7"/><rect x="751" y="1050" width="2" height="2" fill="#39c895"/><rect x="753" y="1050" width="2" height="2" fill="#45cb89"/><rect x="755" y="1050" width="2" height="2" fill="#2fc5a3"/><rect x="759" y="1050" width="2" height="2" fill="#02b7cb"/><rect x="761" y="1050" width="2" height="2" fill="#05b6ce"/><rect x="763" y="1050" width="2" height="2" fill="#01b9c6"/><rect x="767" y="1050" width="2" height="2" fill="#31c5a1"/><rect x="769" y="1050" width="2" height="2" fill="#33c79d"/><rect x="771" y="1050" width="2" height="2" fill="#2ec4a4"/><rect x="795" y="1050" width="2" height="2" fill="#2dc4a5"/><rect x="797" y="1050" width="2" height="2" fill="#27c2ab"/><rect x="663" y="1052" width="2" height="2" fill="#01b8c9"/><rect x="665" y="1052" width="2" height="2" fill="#01b8c9"/><rect x="675" y="1052" width="2" height="2" fill="#04b6cd"/><rect x="677" y="1052" width="2" height="2" fill="#20a5e2"/><rect x="679" y="1052" width="2" height="2" fill="#23a0e5"/><rect x="681" y="1052" width="2" height="2" fill="#1ea7e1"/><rect x="683" y="1052" width="2" height="2" fill="#1babde"/><rect x="685" y="1052" width="2" height="2" fill="#0cb3d3"/><rect x="687" y="1052" width="2" height="2" fill="#2bc3a8"/><rect x="689" y="1052" width="2" height="2" fill="#7fcc5a"/><rect x="691" y="1052" width="2" height="2" fill="#6bcd69"/><rect x="695" y="1052" width="2" height="2" fill="#3e6fff"/><rect x="697" y="1052" width="2" height="2" fill="#4433cb"/><rect x="699" y="1052" width="2" height="2" fill="#20a4e3"/><rect x="701" y="1052" width="2" height="2" fill="#2ec5a4"/><rect x="703" y="1052" width="2" height="2" fill="#3bc992"/><rect x="707" y="1052" width="2" height="2" fill="#2bc3a8"/><rect x="709" y="1052" width="2" height="2" fill="#4bcb84"/><rect x="711" y="1052" width="2" height="2" fill="#3cc991"/><rect x="713" y="1052" width="2" height="2" fill="#04b6cd"/><rect x="715" y="1052" width="2" height="2" fill="#2699e9"/><rect x="717" y="1052" width="2" height="2" fill="#2798ea"/><rect x="719" y="1052" width="2" height="2" fill="#2896ec"/><rect x="721" y="1052" width="2" height="2" fill="#317dfc"/><rect x="723" y="1052" width="2" height="2" fill="#1da8e0"/><rect x="725" y="1052" width="2" height="2" fill="#64cd6f"/><rect x="727" y="1052" width="2" height="2" fill="#fbd22f"/><rect x="729" y="1052" width="2" height="2" fill="#a6c83d"/><rect x="731" y="1052" width="2" height="2" fill="#4dcb82"/><rect x="733" y="1052" width="2" height="2" fill="#4ecc81"/><rect x="735" y="1052" width="2" height="2" fill="#3ac994"/><rect x="737" y="1052" width="2" height="2" fill="#01b9c8"/><rect x="739" y="1052" width="2" height="2" fill="#23a0e5"/><rect x="741" y="1052" width="2" height="2" fill="#249fe5"/><rect x="743" y="1052" width="2" height="2" fill="#17aedb"/><rect x="745" y="1052" width="2" height="2" fill="#01b7ca"/><rect x="751" y="1052" width="2" height="2" fill="#2dc4a5"/><rect x="755" y="1052" width="2" height="2" fill="#17aeda"/><rect x="757" y="1052" width="2" height="2" fill="#23a0e5"/><rect x="759" y="1052" width="2" height="2" fill="#12b1d6"/><rect x="761" y="1052" width="2" height="2" fill="#06b6ce"/><rect x="763" y="1052" width="2" height="2" fill="#06b5ce"/><rect x="765" y="1052" width="2" height="2" fill="#01b8c8"/><rect x="767" y="1052" width="2" height="2" fill="#01b8c9"/><rect x="769" y="1052" width="2" height="2" fill="#01b8c8"/><rect x="771" y="1052" width="2" height="2" fill="#01b9c7"/><rect x="775" y="1052" width="2" height="2" fill="#2fc5a2"/><rect x="777" y="1052" width="2" height="2" fill="#34c79c"/><rect x="779" y="1052" width="2" height="2" fill="#2dc4a6"/><rect x="781" y="1052" width="2" height="2" fill="#29c3a9"/><rect x="787" y="1052" width="2" height="2" fill="#28c3aa"/><rect x="665" y="1054" width="2" height="2" fill="#2ac3a8"/><rect x="667" y="1054" width="2" height="2" fill="#3cc991"/><rect x="669" y="1054" width="2" height="2" fill="#44cb89"/><rect x="671" y="1054" width="2" height="2" fill="#40ca8d"/><rect x="673" y="1054" width="2" height="2" fill="#36c898"/><rect x="675" y="1054" width="2" height="2" fill="#31c6a0"/><rect x="681" y="1054" width="2" height="2" fill="#01b8ca"/><rect x="683" y="1054" width="2" height="2" fill="#0cb3d3"/><rect x="685" y="1054" width="2" height="2" fill="#1aacdd"/><rect x="687" y="1054" width="2" height="2" fill="#19addc"/><rect x="689" y="1054" width="2" height="2" fill="#02b7cb"/><rect x="693" y="1054" width="2" height="2" fill="#41ca8d"/><rect x="695" y="1054" width="2" height="2" fill="#31c6a1"/><rect x="697" y="1054" width="2" height="2" fill="#01b9c8"/><rect x="699" y="1054" width="2" height="2" fill="#1ea7e1"/><rect x="701" y="1054" width="2" height="2" fill="#0fb2d4"/><rect x="705" y="1054" width="2" height="2" fill="#2ec5a4"/><rect x="707" y="1054" width="2" height="2" fill="#0db3d3"/><rect x="709" y="1054" width="2" height="2" fill="#2d8df2"/><rect x="711" y="1054" width="2" height="2" fill="#2b91ef"/><rect x="713" y="1054" width="2" height="2" fill="#15afd9"/><rect x="715" y="1054" width="2" height="2" fill="#28c2ab"/><rect x="717" y="1054" width="2" height="2" fill="#43ca8a"/><rect x="719" y="1054" width="2" height="2" fill="#59cc78"/><rect x="721" y="1054" width="2" height="2" fill="#28c3aa"/><rect x="723" y="1054" width="2" height="2" fill="#249fe6"/><rect x="725" y="1054" width="2" height="2" fill="#4756f7"/><rect x="727" y="1054" width="2" height="2" fill="#422fc2"/><rect x="729" y="1054" width="2" height="2" fill="#3080fb"/><rect x="733" y="1054" width="2" height="2" fill="#adc638"/><rect x="735" y="1054" width="2" height="2" fill="#bbc430"/><rect x="737" y="1054" width="2" height="2" fill="#65cd6e"/><rect x="741" y="1054" width="2" height="2" fill="#15b0d8"/><rect x="743" y="1054" width="2" height="2" fill="#12b1d7"/><rect x="747" y="1054" width="2" height="2" fill="#2fc5a3"/><rect x="753" y="1054" width="2" height="2" fill="#31c6a0"/><rect x="755" y="1054" width="2" height="2" fill="#96ca49"/><rect x="757" y="1054" width="2" height="2" fill="#c9c129"/><rect x="759" y="1054" width="2" height="2" fill="#45cb89"/><rect x="763" y="1054" width="2" height="2" fill="#0fb2d4"/><rect x="765" y="1054" width="2" height="2" fill="#1aacdd"/><rect x="767" y="1054" width="2" height="2" fill="#11b1d6"/><rect x="769" y="1054" width="2" height="2" fill="#01b9c6"/><rect x="777" y="1054" width="2" height="2" fill="#1aacdd"/><rect x="779" y="1054" width="2" height="2" fill="#13b0d7"/><rect x="781" y="1054" width="2" height="2" fill="#03b7cc"/><rect x="783" y="1054" width="2" height="2" fill="#09b4d1"/><rect x="785" y="1054" width="2" height="2" fill="#08b4d0"/><rect x="799" y="1054" width="2" height="2" fill="#2fc5a3"/><rect x="655" y="1056" width="2" height="2" fill="#04b6cd"/><rect x="657" y="1056" width="2" height="2" fill="#19acdc"/><rect x="659" y="1056" width="2" height="2" fill="#01b8ca"/><rect x="663" y="1056" width="2" height="2" fill="#2ac3a9"/><rect x="665" y="1056" width="2" height="2" fill="#35c79b"/><rect x="667" y="1056" width="2" height="2" fill="#46cb88"/><rect x="669" y="1056" width="2" height="2" fill="#5acc77"/><rect x="671" y="1056" width="2" height="2" fill="#2cc4a6"/><rect x="677" y="1056" width="2" height="2" fill="#01b9c6"/><rect x="679" y="1056" width="2" height="2" fill="#13b0d7"/><rect x="681" y="1056" width="2" height="2" fill="#0bb3d2"/><rect x="683" y="1056" width="2" height="2" fill="#2ec4a5"/><rect x="685" y="1056" width="2" height="2" fill="#3fca8e"/><rect x="689" y="1056" width="2" height="2" fill="#07b5cf"/><rect x="691" y="1056" width="2" height="2" fill="#01b8c9"/><rect x="693" y="1056" width="2" height="2" fill="#27c2ab"/><rect x="695" y="1056" width="2" height="2" fill="#49cb85"/><rect x="697" y="1056" width="2" height="2" fill="#50cc7f"/><rect x="699" y="1056" width="2" height="2" fill="#53cc7d"/><rect x="701" y="1056" width="2" height="2" fill="#3eca8f"/><rect x="703" y="1056" width="2" height="2" fill="#28c2ab"/><rect x="705" y="1056" width="2" height="2" fill="#3fca8e"/><rect x="707" y="1056" width="2" height="2" fill="#bfc32d"/><rect x="709" y="1056" width="2" height="2" fill="#f7f31c"/><rect x="711" y="1056" width="2" height="2" fill="#fec537"/><rect x="713" y="1056" width="2" height="2" fill="#54cc7d"/><rect x="715" y="1056" width="2" height="2" fill="#01b9c7"/><rect x="719" y="1056" width="2" height="2" fill="#4ccb83"/><rect x="721" y="1056" width="2" height="2" fill="#5dcc75"/><rect x="723" y="1056" width="2" height="2" fill="#47cb87"/><rect x="725" y="1056" width="2" height="2" fill="#80cc59"/><rect x="727" y="1056" width="2" height="2" fill="#d0bf27"/><rect x="729" y="1056" width="2" height="2" fill="#cdc028"/><rect x="733" y="1056" width="2" height="2" fill="#1aabdd"/><rect x="735" y="1056" width="2" height="2" fill="#0fb2d5"/><rect x="745" y="1056" width="2" height="2" fill="#10b2d5"/><rect x="747" y="1056" width="2" height="2" fill="#2995ec"/><rect x="749" y="1056" width="2" height="2" fill="#317dfc"/><rect x="751" y="1056" width="2" height="2" fill="#1fa5e2"/><rect x="757" y="1056" width="2" height="2" fill="#05b6ce"/><rect x="759" y="1056" width="2" height="2" fill="#18aedb"/><rect x="761" y="1056" width="2" height="2" fill="#17aedb"/><rect x="763" y="1056" width="2" height="2" fill="#17aeda"/><rect x="765" y="1056" width="2" height="2" fill="#12b1d6"/><rect x="767" y="1056" width="2" height="2" fill="#01b8c9"/><rect x="771" y="1056" width="2" height="2" fill="#31c6a0"/><rect x="773" y="1056" width="2" height="2" fill="#31c6a0"/><rect x="775" y="1056" width="2" height="2" fill="#2bc3a8"/><rect x="665" y="1058" width="2" height="2" fill="#02b7cb"/><rect x="667" y="1058" width="2" height="2" fill="#05b6ce"/><rect x="671" y="1058" width="2" height="2" fill="#34c79c"/><rect x="673" y="1058" width="2" height="2" fill="#6ecd66"/><rect x="675" y="1058" width="2" height="2" fill="#51cc7f"/><rect x="677" y="1058" width="2" height="2" fill="#37c897"/><rect x="679" y="1058" width="2" height="2" fill="#39c895"/><rect x="681" y="1058" width="2" height="2" fill="#44cb89"/><rect x="683" y="1058" width="2" height="2" fill="#36c899"/><rect x="687" y="1058" width="2" height="2" fill="#01b9c6"/><rect x="691" y="1058" width="2" height="2" fill="#01b9c6"/><rect x="693" y="1058" width="2" height="2" fill="#10b2d5"/><rect x="695" y="1058" width="2" height="2" fill="#07b5cf"/><rect x="697" y="1058" width="2" height="2" fill="#2dc4a5"/><rect x="699" y="1058" width="2" height="2" fill="#5dcc75"/><rect x="701" y="1058" width="2" height="2" fill="#4ccb83"/><rect x="703" y="1058" width="2" height="2" fill="#35c79b"/><rect x="711" y="1058" width="2" height="2" fill="#03b7cc"/><rect x="713" y="1058" width="2" height="2" fill="#01b9c7"/><rect x="717" y="1058" width="2" height="2" fill="#03b7cc"/><rect x="719" y="1058" width="2" height="2" fill="#1ea7e1"/><rect x="721" y="1058" width="2" height="2" fill="#259ce7"/><rect x="723" y="1058" width="2" height="2" fill="#0cb3d3"/><rect x="729" y="1058" width="2" height="2" fill="#2a93ee"/><rect x="731" y="1058" width="2" height="2" fill="#23a1e4"/><rect x="733" y="1058" width="2" height="2" fill="#45cb88"/><rect x="735" y="1058" width="2" height="2" fill="#9bc945"/><rect x="737" y="1058" width="2" height="2" fill="#ccc028"/><rect x="739" y="1058" width="2" height="2" fill="#a6c83d"/><rect x="741" y="1058" width="2" height="2" fill="#6ecd66"/><rect x="745" y="1058" width="2" height="2" fill="#1aacdd"/><rect x="747" y="1058" width="2" height="2" fill="#10b2d5"/><rect x="751" y="1058" width="2" height="2" fill="#35c79a"/><rect x="753" y="1058" width="2" height="2" fill="#35c799"/><rect x="761" y="1058" width="2" height="2" fill="#2cc4a7"/><rect x="763" y="1058" width="2" height="2" fill="#34c79c"/><rect x="765" y="1058" width="2" height="2" fill="#2ac3a9"/><rect x="771" y="1058" width="2" height="2" fill="#28c3aa"/><rect x="773" y="1058" width="2" height="2" fill="#2dc4a5"/><rect x="779" y="1058" width="2" height="2" fill="#06b5cf"/><rect x="781" y="1058" width="2" height="2" fill="#02b7cb"/><rect x="789" y="1058" width="2" height="2" fill="#06b5cf"/><rect x="659" y="1060" width="2" height="2" fill="#29c3aa"/><rect x="661" y="1060" width="2" height="2" fill="#2cc4a7"/><rect x="663" y="1060" width="2" height="2" fill="#2ac3a9"/><rect x="671" y="1060" width="2" height="2" fill="#30c5a1"/><rect x="673" y="1060" width="2" height="2" fill="#2ac3a8"/><rect x="683" y="1060" width="2" height="2" fill="#29c3aa"/><rect x="691" y="1060" width="2" height="2" fill="#29c3a9"/><rect x="693" y="1060" width="2" height="2" fill="#3cc992"/><rect x="695" y="1060" width="2" height="2" fill="#34c79b"/><rect x="699" y="1060" width="2" height="2" fill="#2b92ee"/><rect x="701" y="1060" width="2" height="2" fill="#4230c3"/><rect x="703" y="1060" width="2" height="2" fill="#4850f3"/><rect x="705" y="1060" width="2" height="2" fill="#23a0e5"/><rect x="707" y="1060" width="2" height="2" fill="#34c79b"/><rect x="709" y="1060" width="2" height="2" fill="#67cd6c"/><rect x="711" y="1060" width="2" height="2" fill="#41ca8c"/><rect x="713" y="1060" width="2" height="2" fill="#02b7cb"/><rect x="719" y="1060" width="2" height="2" fill="#35c79a"/><rect x="721" y="1060" width="2" height="2" fill="#37c897"/><rect x="723" y="1060" width="2" height="2" fill="#52cc7e"/><rect x="725" y="1060" width="2" height="2" fill="#52cc7e"/><rect x="727" y="1060" width="2" height="2" fill="#30c5a1"/><rect x="729" y="1060" width="2" height="2" fill="#3cc991"/><rect x="731" y="1060" width="2" height="2" fill="#39c895"/><rect x="733" y="1060" width="2" height="2" fill="#3dc990"/><rect x="735" y="1060" width="2" height="2" fill="#7fcc5a"/><rect x="737" y="1060" width="2" height="2" fill="#ddbd29"/><rect x="739" y="1060" width="2" height="2" fill="#d9bd28"/><rect x="741" y="1060" width="2" height="2" fill="#43ca8b"/><rect x="743" y="1060" width="2" height="2" fill="#01b8c9"/><rect x="745" y="1060" width="2" height="2" fill="#1caadf"/><rect x="747" y="1060" width="2" height="2" fill="#1aacdd"/><rect x="749" y="1060" width="2" height="2" fill="#08b4d1"/><rect x="751" y="1060" width="2" height="2" fill="#01b9c6"/><rect x="755" y="1060" width="2" height="2" fill="#04b6cd"/><rect x="757" y="1060" width="2" height="2" fill="#01b9c6"/><rect x="761" y="1060" width="2" height="2" fill="#40ca8d"/><rect x="763" y="1060" width="2" height="2" fill="#52cc7e"/><rect x="765" y="1060" width="2" height="2" fill="#32c69f"/><rect x="773" y="1060" width="2" height="2" fill="#01b8c8"/><rect x="775" y="1060" width="2" height="2" fill="#01b8c9"/><rect x="655" y="1062" width="2" height="2" fill="#08b5d0"/><rect x="657" y="1062" width="2" height="2" fill="#0eb3d4"/><rect x="659" y="1062" width="2" height="2" fill="#07b5d0"/><rect x="661" y="1062" width="2" height="2" fill="#01b8c9"/><rect x="663" y="1062" width="2" height="2" fill="#01b8c9"/><rect x="665" y="1062" width="2" height="2" fill="#10b2d5"/><rect x="667" y="1062" width="2" height="2" fill="#2b91ef"/><rect x="669" y="1062" width="2" height="2" fill="#3875fe"/><rect x="671" y="1062" width="2" height="2" fill="#2d8bf3"/><rect x="673" y="1062" width="2" height="2" fill="#12b1d7"/><rect x="683" y="1062" width="2" height="2" fill="#2cc4a7"/><rect x="685" y="1062" width="2" height="2" fill="#31c5a1"/><rect x="687" y="1062" width="2" height="2" fill="#35c79a"/><rect x="689" y="1062" width="2" height="2" fill="#28c3aa"/><rect x="691" y="1062" width="2" height="2" fill="#02b7cb"/><rect x="693" y="1062" width="2" height="2" fill="#1ca9df"/><rect x="695" y="1062" width="2" height="2" fill="#12b1d6"/><rect x="697" y="1062" width="2" height="2" fill="#27c2ab"/><rect x="701" y="1062" width="2" height="2" fill="#2d8df2"/><rect x="703" y="1062" width="2" height="2" fill="#3e26a8"/><rect x="705" y="1062" width="2" height="2" fill="#4852f4"/><rect x="707" y="1062" width="2" height="2" fill="#20a4e3"/><rect x="709" y="1062" width="2" height="2" fill="#29c3aa"/><rect x="711" y="1062" width="2" height="2" fill="#2fc5a3"/><rect x="713" y="1062" width="2" height="2" fill="#79cc5e"/><rect x="715" y="1062" width="2" height="2" fill="#84cb56"/><rect x="717" y="1062" width="2" height="2" fill="#d5be28"/><rect x="719" y="1062" width="2" height="2" fill="#f9bb3d"/><rect x="721" y="1062" width="2" height="2" fill="#d7be28"/><rect x="723" y="1062" width="2" height="2" fill="#c1c32c"/><rect x="725" y="1062" width="2" height="2" fill="#34c79c"/><rect x="727" y="1062" width="2" height="2" fill="#1fa6e2"/><rect x="729" y="1062" width="2" height="2" fill="#2d8cf3"/><rect x="731" y="1062" width="2" height="2" fill="#2c90f0"/><rect x="733" y="1062" width="2" height="2" fill="#09b4d1"/><rect x="737" y="1062" width="2" height="2" fill="#37c897"/><rect x="739" y="1062" width="2" height="2" fill="#32c69e"/><rect x="741" y="1062" width="2" height="2" fill="#19acdc"/><rect x="743" y="1062" width="2" height="2" fill="#2698ea"/><rect x="745" y="1062" width="2" height="2" fill="#1ea7e1"/><rect x="747" y="1062" width="2" height="2" fill="#31c6a0"/><rect x="749" y="1062" width="2" height="2" fill="#e0bc2a"/><rect x="751" y="1062" width="2" height="2" fill="#c1c32c"/><rect x="753" y="1062" width="2" height="2" fill="#45cb89"/><rect x="759" y="1062" width="2" height="2" fill="#09b4d1"/><rect x="761" y="1062" width="2" height="2" fill="#17aeda"/><rect x="763" y="1062" width="2" height="2" fill="#01b8c9"/><rect x="767" y="1062" width="2" height="2" fill="#2dc4a6"/><rect x="775" y="1062" width="2" height="2" fill="#29c3a9"/><rect x="779" y="1062" width="2" height="2" fill="#01b8c9"/><rect x="669" y="1064" width="2" height="2" fill="#27c2ab"/><rect x="685" y="1064" width="2" height="2" fill="#2ec5a4"/><rect x="687" y="1064" width="2" height="2" fill="#39c895"/><rect x="689" y="1064" width="2" height="2" fill="#31c6a0"/><rect x="691" y="1064" width="2" height="2" fill="#11b1d6"/><rect x="693" y="1064" width="2" height="2" fill="#2d8cf3"/><rect x="695" y="1064" width="2" height="2" fill="#1ca9df"/><rect x="699" y="1064" width="2" height="2" fill="#3bc992"/><rect x="701" y="1064" width="2" height="2" fill="#6bcd69"/><rect x="703" y="1064" width="2" height="2" fill="#81cc59"/><rect x="705" y="1064" width="2" height="2" fill="#a1c840"/><rect x="707" y="1064" width="2" height="2" fill="#57cc7a"/><rect x="709" y="1064" width="2" height="2" fill="#56cc7b"/><rect x="711" y="1064" width="2" height="2" fill="#93ca4b"/><rect x="713" y="1064" width="2" height="2" fill="#b5c533"/><rect x="715" y="1064" width="2" height="2" fill="#8acb52"/><rect x="717" y="1064" width="2" height="2" fill="#36c799"/><rect x="725" y="1064" width="2" height="2" fill="#1babde"/><rect x="727" y="1064" width="2" height="2" fill="#22a2e4"/><rect x="729" y="1064" width="2" height="2" fill="#12b1d6"/><rect x="731" y="1064" width="2" height="2" fill="#1caadf"/><rect x="733" y="1064" width="2" height="2" fill="#465ffb"/><rect x="735" y="1064" width="2" height="2" fill="#484aee"/><rect x="737" y="1064" width="2" height="2" fill="#2b91ef"/><rect x="739" y="1064" width="2" height="2" fill="#03b7cc"/><rect x="749" y="1064" width="2" height="2" fill="#2fc5a3"/><rect x="751" y="1064" width="2" height="2" fill="#47cb87"/><rect x="753" y="1064" width="2" height="2" fill="#48cb86"/><rect x="755" y="1064" width="2" height="2" fill="#39c895"/><rect x="757" y="1064" width="2" height="2" fill="#29c3aa"/><rect x="759" y="1064" width="2" height="2" fill="#05b6ce"/><rect x="761" y="1064" width="2" height="2" fill="#1fa6e2"/><rect x="763" y="1064" width="2" height="2" fill="#1aabdd"/><rect x="765" y="1064" width="2" height="2" fill="#0db3d3"/><rect x="767" y="1064" width="2" height="2" fill="#09b4d1"/><rect x="769" y="1064" width="2" height="2" fill="#04b6cd"/><rect x="783" y="1064" width="2" height="2" fill="#02b7cb"/><rect x="785" y="1064" width="2" height="2" fill="#07b5cf"/><rect x="665" y="1066" width="2" height="2" fill="#01b9c8"/><rect x="671" y="1066" width="2" height="2" fill="#01b9c7"/><rect x="673" y="1066" width="2" height="2" fill="#0bb4d2"/><rect x="675" y="1066" width="2" height="2" fill="#02b7cb"/><rect x="677" y="1066" width="2" height="2" fill="#28c3ab"/><rect x="679" y="1066" width="2" height="2" fill="#2cc4a7"/><rect x="683" y="1066" width="2" height="2" fill="#02b7cb"/><rect x="685" y="1066" width="2" height="2" fill="#01b9c6"/><rect x="689" y="1066" width="2" height="2" fill="#01b9c6"/><rect x="701" y="1066" width="2" height="2" fill="#36c799"/><rect x="703" y="1066" width="2" height="2" fill="#44cb8a"/><rect x="705" y="1066" width="2" height="2" fill="#60cd72"/><rect x="707" y="1066" width="2" height="2" fill="#32c69e"/><rect x="709" y="1066" width="2" height="2" fill="#0ab4d2"/><rect x="711" y="1066" width="2" height="2" fill="#11b1d6"/><rect x="713" y="1066" width="2" height="2" fill="#20a5e2"/><rect x="715" y="1066" width="2" height="2" fill="#259de7"/><rect x="717" y="1066" width="2" height="2" fill="#2d8df2"/><rect x="719" y="1066" width="2" height="2" fill="#2896ec"/><rect x="721" y="1066" width="2" height="2" fill="#2d8cf3"/><rect x="723" y="1066" width="2" height="2" fill="#4852f4"/><rect x="725" y="1066" width="2" height="2" fill="#412dbd"/><rect x="727" y="1066" width="2" height="2" fill="#484ef1"/><rect x="729" y="1066" width="2" height="2" fill="#2d8bf4"/><rect x="731" y="1066" width="2" height="2" fill="#19acdc"/><rect x="733" y="1066" width="2" height="2" fill="#1ca9df"/><rect x="735" y="1066" width="2" height="2" fill="#239fe5"/><rect x="737" y="1066" width="2" height="2" fill="#04b6cd"/><rect x="739" y="1066" width="2" height="2" fill="#3fca8e"/><rect x="741" y="1066" width="2" height="2" fill="#6ecd67"/><rect x="743" y="1066" width="2" height="2" fill="#54cc7d"/><rect x="745" y="1066" width="2" height="2" fill="#31c6a0"/><rect x="753" y="1066" width="2" height="2" fill="#32c69f"/><rect x="755" y="1066" width="2" height="2" fill="#3eca8f"/><rect x="757" y="1066" width="2" height="2" fill="#56cc7b"/><rect x="759" y="1066" width="2" height="2" fill="#70cd65"/><rect x="761" y="1066" width="2" height="2" fill="#40ca8d"/><rect x="765" y="1066" width="2" height="2" fill="#12b1d6"/><rect x="767" y="1066" width="2" height="2" fill="#16aeda"/><rect x="779" y="1066" width="2" height="2" fill="#2dc4a6"/><rect x="781" y="1066" width="2" height="2" fill="#6bcd69"/><rect x="783" y="1066" width="2" height="2" fill="#86cb54"/><rect x="785" y="1066" width="2" height="2" fill="#65cd6e"/><rect x="787" y="1066" width="2" height="2" fill="#41ca8c"/><rect x="649" y="1068" width="2" height="2" fill="#01b8c8"/><rect x="651" y="1068" width="2" height="2" fill="#01b9c7"/><rect x="663" y="1068" width="2" height="2" fill="#28c2ab"/><rect x="665" y="1068" width="2" height="2" fill="#2fc5a3"/><rect x="667" y="1068" width="2" height="2" fill="#32c69f"/><rect x="669" y="1068" width="2" height="2" fill="#34c79c"/><rect x="671" y="1068" width="2" height="2" fill="#31c6a0"/><rect x="673" y="1068" width="2" height="2" fill="#2ac3a9"/><rect x="675" y="1068" width="2" height="2" fill="#34c79b"/><rect x="677" y="1068" width="2" height="2" fill="#4bcb83"/><rect x="679" y="1068" width="2" height="2" fill="#4acb84"/><rect x="683" y="1068" width="2" height="2" fill="#22a2e4"/><rect x="685" y="1068" width="2" height="2" fill="#2a93ee"/><rect x="687" y="1068" width="2" height="2" fill="#1fa5e2"/><rect x="689" y="1068" width="2" height="2" fill="#0eb2d4"/><rect x="691" y="1068" width="2" height="2" fill="#15afd8"/><rect x="693" y="1068" width="2" height="2" fill="#0cb3d3"/><rect x="697" y="1068" width="2" height="2" fill="#29c3aa"/><rect x="701" y="1068" width="2" height="2" fill="#12b1d6"/><rect x="703" y="1068" width="2" height="2" fill="#04b6cd"/><rect x="711" y="1068" width="2" height="2" fill="#23a1e4"/><rect x="713" y="1068" width="2" height="2" fill="#2e84f8"/><rect x="715" y="1068" width="2" height="2" fill="#2f81fa"/><rect x="717" y="1068" width="2" height="2" fill="#1aacdd"/><rect x="719" y="1068" width="2" height="2" fill="#45cb89"/><rect x="721" y="1068" width="2" height="2" fill="#65cd6e"/><rect x="723" y="1068" width="2" height="2" fill="#2bc3a8"/><rect x="725" y="1068" width="2" height="2" fill="#11b1d6"/><rect x="727" y="1068" width="2" height="2" fill="#17aeda"/><rect x="729" y="1068" width="2" height="2" fill="#17aedb"/><rect x="731" y="1068" width="2" height="2" fill="#1fa6e2"/><rect x="733" y="1068" width="2" height="2" fill="#249de6"/><rect x="735" y="1068" width="2" height="2" fill="#2a93ed"/><rect x="737" y="1068" width="2" height="2" fill="#3975fe"/><rect x="739" y="1068" width="2" height="2" fill="#3e26a8"/><rect x="741" y="1068" width="2" height="2" fill="#3e27a9"/><rect x="743" y="1068" width="2" height="2" fill="#416cfe"/><rect x="745" y="1068" width="2" height="2" fill="#0bb3d2"/><rect x="747" y="1068" width="2" height="2" fill="#2ec4a5"/><rect x="751" y="1068" width="2" height="2" fill="#01b8ca"/><rect x="753" y="1068" width="2" height="2" fill="#0fb2d5"/><rect x="757" y="1068" width="2" height="2" fill="#95ca49"/><rect x="759" y="1068" width="2" height="2" fill="#fec13a"/><rect x="761" y="1068" width="2" height="2" fill="#afc636"/><rect x="763" y="1068" width="2" height="2" fill="#32c69f"/><rect x="765" y="1068" width="2" height="2" fill="#2ac3a9"/><rect x="767" y="1068" width="2" height="2" fill="#2cc4a6"/><rect x="769" y="1068" width="2" height="2" fill="#2ec4a4"/><rect x="771" y="1068" width="2" height="2" fill="#3bc992"/><rect x="773" y="1068" width="2" height="2" fill="#3bc992"/><rect x="775" y="1068" width="2" height="2" fill="#2bc3a8"/><rect x="665" y="1070" width="2" height="2" fill="#28c3aa"/><rect x="667" y="1070" width="2" height="2" fill="#48cb86"/><rect x="669" y="1070" width="2" height="2" fill="#5dcc74"/><rect x="671" y="1070" width="2" height="2" fill="#39c895"/><rect x="675" y="1070" width="2" height="2" fill="#01b9c7"/><rect x="677" y="1070" width="2" height="2" fill="#11b1d6"/><rect x="679" y="1070" width="2" height="2" fill="#07b5d0"/><rect x="683" y="1070" width="2" height="2" fill="#4fcc81"/><rect x="685" y="1070" width="2" height="2" fill="#b6c532"/><rect x="687" y="1070" width="2" height="2" fill="#a7c73c"/><rect x="689" y="1070" width="2" height="2" fill="#b9c431"/><rect x="691" y="1070" width="2" height="2" fill="#a9c73a"/><rect x="693" y="1070" width="2" height="2" fill="#71cd64"/><rect x="695" y="1070" width="2" height="2" fill="#59cc78"/><rect x="697" y="1070" width="2" height="2" fill="#3fca8e"/><rect x="699" y="1070" width="2" height="2" fill="#44cb8a"/><rect x="701" y="1070" width="2" height="2" fill="#5ccc76"/><rect x="703" y="1070" width="2" height="2" fill="#73cd63"/><rect x="705" y="1070" width="2" height="2" fill="#2dc4a6"/><rect x="707" y="1070" width="2" height="2" fill="#21a3e4"/><rect x="709" y="1070" width="2" height="2" fill="#3b73fe"/><rect x="711" y="1070" width="2" height="2" fill="#2699e9"/><rect x="715" y="1070" width="2" height="2" fill="#45cb88"/><rect x="717" y="1070" width="2" height="2" fill="#52cc7e"/><rect x="725" y="1070" width="2" height="2" fill="#61cd72"/><rect x="727" y="1070" width="2" height="2" fill="#75cc61"/><rect x="731" y="1070" width="2" height="2" fill="#1ea6e1"/><rect x="733" y="1070" width="2" height="2" fill="#23a0e5"/><rect x="737" y="1070" width="2" height="2" fill="#57cc7a"/><rect x="739" y="1070" width="2" height="2" fill="#2cc4a7"/><rect x="741" y="1070" width="2" height="2" fill="#17aeda"/><rect x="743" y="1070" width="2" height="2" fill="#1ea8e1"/><rect x="745" y="1070" width="2" height="2" fill="#07b5d0"/><rect x="763" y="1070" width="2" height="2" fill="#2bc3a8"/><rect x="765" y="1070" width="2" height="2" fill="#38c895"/><rect x="767" y="1070" width="2" height="2" fill="#33c79c"/><rect x="769" y="1070" width="2" height="2" fill="#2bc3a8"/><rect x="771" y="1070" width="2" height="2" fill="#28c2ab"/><rect x="781" y="1070" width="2" height="2" fill="#02b7cb"/><rect x="783" y="1070" width="2" height="2" fill="#1babde"/><rect x="785" y="1070" width="2" height="2" fill="#0ab4d2"/><rect x="655" y="1072" width="2" height="2" fill="#05b6cd"/><rect x="673" y="1072" width="2" height="2" fill="#36c898"/><rect x="675" y="1072" width="2" height="2" fill="#35c79b"/><rect x="677" y="1072" width="2" height="2" fill="#27c2ab"/><rect x="679" y="1072" width="2" height="2" fill="#2ac3a9"/><rect x="681" y="1072" width="2" height="2" fill="#33c69d"/><rect x="683" y="1072" width="2" height="2" fill="#2bc3a8"/><rect x="685" y="1072" width="2" height="2" fill="#01b9c6"/><rect x="691" y="1072" width="2" height="2" fill="#2fc5a3"/><rect x="693" y="1072" width="2" height="2" fill="#42ca8c"/><rect x="695" y="1072" width="2" height="2" fill="#6dcd67"/><rect x="697" y="1072" width="2" height="2" fill="#eabb30"/><rect x="699" y="1072" width="2" height="2" fill="#79cc5f"/><rect x="701" y="1072" width="2" height="2" fill="#6fcd66"/><rect x="703" y="1072" width="2" height="2" fill="#78cc5f"/><rect x="705" y="1072" width="2" height="2" fill="#a2c83f"/><rect x="707" y="1072" width="2" height="2" fill="#8bcb51"/><rect x="709" y="1072" width="2" height="2" fill="#3ac994"/><rect x="711" y="1072" width="2" height="2" fill="#47cb87"/><rect x="713" y="1072" width="2" height="2" fill="#2ec4a4"/><rect x="715" y="1072" width="2" height="2" fill="#01b8ca"/><rect x="719" y="1072" width="2" height="2" fill="#3bc992"/><rect x="721" y="1072" width="2" height="2" fill="#57cc7a"/><rect x="723" y="1072" width="2" height="2" fill="#3dca90"/><rect x="725" y="1072" width="2" height="2" fill="#66cd6d"/><rect x="727" y="1072" width="2" height="2" fill="#cfc028"/><rect x="729" y="1072" width="2" height="2" fill="#bbc430"/><rect x="731" y="1072" width="2" height="2" fill="#67cd6d"/><rect x="733" y="1072" width="2" height="2" fill="#4dcc82"/><rect x="735" y="1072" width="2" height="2" fill="#2fc5a2"/><rect x="737" y="1072" width="2" height="2" fill="#14b0d8"/><rect x="739" y="1072" width="2" height="2" fill="#2a93ee"/><rect x="741" y="1072" width="2" height="2" fill="#22a2e4"/><rect x="743" y="1072" width="2" height="2" fill="#01b8ca"/><rect x="745" y="1072" width="2" height="2" fill="#06b5ce"/><rect x="747" y="1072" width="2" height="2" fill="#0ab4d2"/><rect x="749" y="1072" width="2" height="2" fill="#19addb"/><rect x="751" y="1072" width="2" height="2" fill="#1da8e0"/><rect x="753" y="1072" width="2" height="2" fill="#2994ed"/><rect x="755" y="1072" width="2" height="2" fill="#1caadf"/><rect x="757" y="1072" width="2" height="2" fill="#2ec4a4"/><rect x="759" y="1072" width="2" height="2" fill="#cdc028"/><rect x="761" y="1072" width="2" height="2" fill="#77cc60"/><rect x="765" y="1072" width="2" height="2" fill="#249fe5"/><rect x="767" y="1072" width="2" height="2" fill="#2699e9"/><rect x="769" y="1072" width="2" height="2" fill="#07b5cf"/><rect x="771" y="1072" width="2" height="2" fill="#05b6ce"/><rect x="773" y="1072" width="2" height="2" fill="#01b9c8"/><rect x="779" y="1072" width="2" height="2" fill="#01b9c7"/><rect x="783" y="1072" width="2" height="2" fill="#27c2ab"/><rect x="785" y="1072" width="2" height="2" fill="#4ecc82"/><rect x="787" y="1072" width="2" height="2" fill="#3bc992"/><rect x="641" y="1074" width="2" height="2" fill="#29c3aa"/><rect x="643" y="1074" width="2" height="2" fill="#37c898"/><rect x="645" y="1074" width="2" height="2" fill="#2dc4a6"/><rect x="663" y="1074" width="2" height="2" fill="#03b7cc"/><rect x="665" y="1074" width="2" height="2" fill="#10b2d5"/><rect x="667" y="1074" width="2" height="2" fill="#0cb3d3"/><rect x="669" y="1074" width="2" height="2" fill="#01b8c8"/><rect x="677" y="1074" width="2" height="2" fill="#01b8c9"/><rect x="679" y="1074" width="2" height="2" fill="#01b9c8"/><rect x="683" y="1074" width="2" height="2" fill="#29c3aa"/><rect x="685" y="1074" width="2" height="2" fill="#2cc4a7"/><rect x="695" y="1074" width="2" height="2" fill="#06b5ce"/><rect x="697" y="1074" width="2" height="2" fill="#22a1e4"/><rect x="699" y="1074" width="2" height="2" fill="#2d89f5"/><rect x="701" y="1074" width="2" height="2" fill="#2d8cf3"/><rect x="703" y="1074" width="2" height="2" fill="#2d8bf4"/><rect x="705" y="1074" width="2" height="2" fill="#1da8e0"/><rect x="707" y="1074" width="2" height="2" fill="#02b7cb"/><rect x="709" y="1074" width="2" height="2" fill="#21a3e3"/><rect x="711" y="1074" width="2" height="2" fill="#2d88f6"/><rect x="713" y="1074" width="2" height="2" fill="#13b0d7"/><rect x="715" y="1074" width="2" height="2" fill="#96ca48"/><rect x="717" y="1074" width="2" height="2" fill="#f5e327"/><rect x="719" y="1074" width="2" height="2" fill="#f8ba3d"/><rect x="721" y="1074" width="2" height="2" fill="#8fcb4e"/><rect x="723" y="1074" width="2" height="2" fill="#7acc5d"/><rect x="725" y="1074" width="2" height="2" fill="#35c79a"/><rect x="727" y="1074" width="2" height="2" fill="#03b7cb"/><rect x="729" y="1074" width="2" height="2" fill="#2994ed"/><rect x="731" y="1074" width="2" height="2" fill="#15afd9"/><rect x="733" y="1074" width="2" height="2" fill="#44cb89"/><rect x="735" y="1074" width="2" height="2" fill="#44cb89"/><rect x="737" y="1074" width="2" height="2" fill="#33c69d"/><rect x="741" y="1074" width="2" height="2" fill="#38c896"/><rect x="743" y="1074" width="2" height="2" fill="#5ccc75"/><rect x="745" y="1074" width="2" height="2" fill="#3cc991"/><rect x="749" y="1074" width="2" height="2" fill="#1aacdd"/><rect x="751" y="1074" width="2" height="2" fill="#0db3d3"/><rect x="753" y="1074" width="2" height="2" fill="#2ec5a3"/><rect x="755" y="1074" width="2" height="2" fill="#44cb8a"/><rect x="757" y="1074" width="2" height="2" fill="#3ac994"/><rect x="759" y="1074" width="2" height="2" fill="#32c69f"/><rect x="761" y="1074" width="2" height="2" fill="#36c799"/><rect x="763" y="1074" width="2" height="2" fill="#35c79a"/><rect x="777" y="1074" width="2" height="2" fill="#02b7cb"/><rect x="779" y="1074" width="2" height="2" fill="#05b6ce"/><rect x="781" y="1074" width="2" height="2" fill="#02b7cb"/><rect x="783" y="1074" width="2" height="2" fill="#01b9c6"/><rect x="789" y="1074" width="2" height="2" fill="#2ac3a9"/><rect x="669" y="1076" width="2" height="2" fill="#2ac3a9"/><rect x="671" y="1076" width="2" height="2" fill="#39c895"/><rect x="673" y="1076" width="2" height="2" fill="#3fca8e"/><rect x="675" y="1076" width="2" height="2" fill="#2ec5a4"/><rect x="679" y="1076" width="2" height="2" fill="#34c79b"/><rect x="681" y="1076" width="2" height="2" fill="#57cc7a"/><rect x="683" y="1076" width="2" height="2" fill="#34c79c"/><rect x="689" y="1076" width="2" height="2" fill="#2dc4a5"/><rect x="691" y="1076" width="2" height="2" fill="#4bcb83"/><rect x="693" y="1076" width="2" height="2" fill="#53cc7d"/><rect x="695" y="1076" width="2" height="2" fill="#3ac994"/><rect x="699" y="1076" width="2" height="2" fill="#2fc5a2"/><rect x="701" y="1076" width="2" height="2" fill="#73cd63"/><rect x="703" y="1076" width="2" height="2" fill="#7bcc5d"/><rect x="705" y="1076" width="2" height="2" fill="#35c79b"/><rect x="709" y="1076" width="2" height="2" fill="#6ccd68"/><rect x="711" y="1076" width="2" height="2" fill="#cfc028"/><rect x="713" y="1076" width="2" height="2" fill="#8ecb4f"/><rect x="717" y="1076" width="2" height="2" fill="#2c8ff0"/><rect x="719" y="1076" width="2" height="2" fill="#20a5e2"/><rect x="721" y="1076" width="2" height="2" fill="#2ac3a9"/><rect x="723" y="1076" width="2" height="2" fill="#62cd71"/><rect x="725" y="1076" width="2" height="2" fill="#42ca8b"/><rect x="729" y="1076" width="2" height="2" fill="#2b91ef"/><rect x="731" y="1076" width="2" height="2" fill="#3e26a8"/><rect x="733" y="1076" width="2" height="2" fill="#3e26a8"/><rect x="735" y="1076" width="2" height="2" fill="#4536d4"/><rect x="737" y="1076" width="2" height="2" fill="#12b1d6"/><rect x="739" y="1076" width="2" height="2" fill="#2fc5a2"/><rect x="741" y="1076" width="2" height="2" fill="#28c2ab"/><rect x="743" y="1076" width="2" height="2" fill="#29c3aa"/><rect x="745" y="1076" width="2" height="2" fill="#36c898"/><rect x="747" y="1076" width="2" height="2" fill="#2ec4a4"/><rect x="751" y="1076" width="2" height="2" fill="#01b9c7"/><rect x="753" y="1076" width="2" height="2" fill="#2fc5a3"/><rect x="755" y="1076" width="2" height="2" fill="#3fca8e"/><rect x="759" y="1076" width="2" height="2" fill="#01b8c9"/><rect x="761" y="1076" width="2" height="2" fill="#1da8e0"/><rect x="763" y="1076" width="2" height="2" fill="#2c8ef1"/><rect x="765" y="1076" width="2" height="2" fill="#2b91ef"/><rect x="767" y="1076" width="2" height="2" fill="#0fb2d5"/><rect x="771" y="1076" width="2" height="2" fill="#37c898"/><rect x="773" y="1076" width="2" height="2" fill="#58cc79"/><rect x="775" y="1076" width="2" height="2" fill="#4ecc81"/><rect x="777" y="1076" width="2" height="2" fill="#2fc5a3"/><rect x="641" y="1078" width="2" height="2" fill="#28c2ab"/><rect x="643" y="1078" width="2" height="2" fill="#2dc4a6"/><rect x="645" y="1078" width="2" height="2" fill="#2bc3a8"/><rect x="647" y="1078" width="2" height="2" fill="#2ec4a4"/><rect x="649" y="1078" width="2" height="2" fill="#2fc5a2"/><rect x="665" y="1078" width="2" height="2" fill="#01b8c9"/><rect x="667" y="1078" width="2" height="2" fill="#01b8c9"/><rect x="679" y="1078" width="2" height="2" fill="#12b1d7"/><rect x="681" y="1078" width="2" height="2" fill="#18addb"/><rect x="683" y="1078" width="2" height="2" fill="#10b2d5"/><rect x="689" y="1078" width="2" height="2" fill="#2ec4a5"/><rect x="691" y="1078" width="2" height="2" fill="#3ac994"/><rect x="693" y="1078" width="2" height="2" fill="#46cb88"/><rect x="695" y="1078" width="2" height="2" fill="#39c895"/><rect x="699" y="1078" width="2" height="2" fill="#01b9c7"/><rect x="701" y="1078" width="2" height="2" fill="#14b0d8"/><rect x="703" y="1078" width="2" height="2" fill="#04b6cd"/><rect x="705" y="1078" width="2" height="2" fill="#3ac994"/><rect x="707" y="1078" width="2" height="2" fill="#93ca4b"/><rect x="709" y="1078" width="2" height="2" fill="#d7be28"/><rect x="711" y="1078" width="2" height="2" fill="#fdce31"/><rect x="713" y="1078" width="2" height="2" fill="#f7f31c"/><rect x="715" y="1078" width="2" height="2" fill="#f7f31c"/><rect x="717" y="1078" width="2" height="2" fill="#fdbd3d"/><rect x="719" y="1078" width="2" height="2" fill="#c1c32c"/><rect x="721" y="1078" width="2" height="2" fill="#8dcb4f"/><rect x="723" y="1078" width="2" height="2" fill="#7acc5d"/><rect x="725" y="1078" width="2" height="2" fill="#48cb86"/><rect x="727" y="1078" width="2" height="2" fill="#1baade"/><rect x="729" y="1078" width="2" height="2" fill="#4563fd"/><rect x="731" y="1078" width="2" height="2" fill="#465ffb"/><rect x="733" y="1078" width="2" height="2" fill="#23a0e5"/><rect x="735" y="1078" width="2" height="2" fill="#1da8e0"/><rect x="737" y="1078" width="2" height="2" fill="#1da8e0"/><rect x="741" y="1078" width="2" height="2" fill="#58cc79"/><rect x="743" y="1078" width="2" height="2" fill="#a0c841"/><rect x="745" y="1078" width="2" height="2" fill="#6ccd68"/><rect x="747" y="1078" width="2" height="2" fill="#38c897"/><rect x="751" y="1078" width="2" height="2" fill="#1ea7e1"/><rect x="753" y="1078" width="2" height="2" fill="#2896ec"/><rect x="755" y="1078" width="2" height="2" fill="#1ea7e1"/><rect x="757" y="1078" width="2" height="2" fill="#01b9c7"/><rect x="765" y="1078" width="2" height="2" fill="#07b5cf"/><rect x="767" y="1078" width="2" height="2" fill="#1baade"/><rect x="769" y="1078" width="2" height="2" fill="#1baade"/><rect x="771" y="1078" width="2" height="2" fill="#0cb3d3"/><rect x="777" y="1078" width="2" height="2" fill="#40ca8d"/><rect x="779" y="1078" width="2" height="2" fill="#6ecd67"/><rect x="781" y="1078" width="2" height="2" fill="#2fc5a3"/><rect x="647" y="1080" width="2" height="2" fill="#01b9c7"/><rect x="649" y="1080" width="2" height="2" fill="#01b8c9"/><rect x="657" y="1080" width="2" height="2" fill="#2cc4a7"/><rect x="663" y="1080" width="2" height="2" fill="#02b7cb"/><rect x="665" y="1080" width="2" height="2" fill="#01b7ca"/><rect x="667" y="1080" width="2" height="2" fill="#05b6cd"/><rect x="669" y="1080" width="2" height="2" fill="#0ab4d2"/><rect x="671" y="1080" width="2" height="2" fill="#05b6ce"/><rect x="679" y="1080" width="2" height="2" fill="#01b9c7"/><rect x="685" y="1080" width="2" height="2" fill="#29c3aa"/><rect x="693" y="1080" width="2" height="2" fill="#2ac3a9"/><rect x="695" y="1080" width="2" height="2" fill="#33c69d"/><rect x="697" y="1080" width="2" height="2" fill="#32c69e"/><rect x="699" y="1080" width="2" height="2" fill="#48cb86"/><rect x="701" y="1080" width="2" height="2" fill="#82cc58"/><rect x="703" y="1080" width="2" height="2" fill="#febe3c"/><rect x="705" y="1080" width="2" height="2" fill="#cdc028"/><rect x="707" y="1080" width="2" height="2" fill="#98c946"/><rect x="709" y="1080" width="2" height="2" fill="#94ca4a"/><rect x="711" y="1080" width="2" height="2" fill="#90ca4d"/><rect x="713" y="1080" width="2" height="2" fill="#41ca8c"/><rect x="715" y="1080" width="2" height="2" fill="#02b7cb"/><rect x="717" y="1080" width="2" height="2" fill="#1aabdd"/><rect x="719" y="1080" width="2" height="2" fill="#2c8ef1"/><rect x="721" y="1080" width="2" height="2" fill="#2797eb"/><rect x="723" y="1080" width="2" height="2" fill="#20a5e2"/><rect x="725" y="1080" width="2" height="2" fill="#0db3d3"/><rect x="727" y="1080" width="2" height="2" fill="#16afda"/><rect x="729" y="1080" width="2" height="2" fill="#2a93ee"/><rect x="731" y="1080" width="2" height="2" fill="#2d8cf3"/><rect x="733" y="1080" width="2" height="2" fill="#2d8bf3"/><rect x="735" y="1080" width="2" height="2" fill="#1ca9e0"/><rect x="737" y="1080" width="2" height="2" fill="#269be8"/><rect x="739" y="1080" width="2" height="2" fill="#406dfe"/><rect x="741" y="1080" width="2" height="2" fill="#484df0"/><rect x="743" y="1080" width="2" height="2" fill="#249fe5"/><rect x="747" y="1080" width="2" height="2" fill="#34c79b"/><rect x="749" y="1080" width="2" height="2" fill="#38c896"/><rect x="751" y="1080" width="2" height="2" fill="#30c5a2"/><rect x="757" y="1080" width="2" height="2" fill="#0ab4d2"/><rect x="759" y="1080" width="2" height="2" fill="#1da8e0"/><rect x="761" y="1080" width="2" height="2" fill="#1aacdd"/><rect x="763" y="1080" width="2" height="2" fill="#03b7cb"/><rect x="777" y="1080" width="2" height="2" fill="#04b6cc"/><rect x="779" y="1080" width="2" height="2" fill="#1da8e0"/><rect x="781" y="1080" width="2" height="2" fill="#07b5d0"/><rect x="661" y="1082" width="2" height="2" fill="#35c79a"/><rect x="663" y="1082" width="2" height="2" fill="#31c5a1"/><rect x="665" y="1082" width="2" height="2" fill="#2ac3a9"/><rect x="667" y="1082" width="2" height="2" fill="#2ac3a9"/><rect x="669" y="1082" width="2" height="2" fill="#31c6a0"/><rect x="675" y="1082" width="2" height="2" fill="#04b6cd"/><rect x="677" y="1082" width="2" height="2" fill="#03b7cc"/><rect x="679" y="1082" width="2" height="2" fill="#0ab4d2"/><rect x="681" y="1082" width="2" height="2" fill="#1aacdd"/><rect x="683" y="1082" width="2" height="2" fill="#19addc"/><rect x="685" y="1082" width="2" height="2" fill="#01b8ca"/><rect x="687" y="1082" width="2" height="2" fill="#30c5a1"/><rect x="689" y="1082" width="2" height="2" fill="#58cc79"/><rect x="691" y="1082" width="2" height="2" fill="#5ecc74"/><rect x="693" y="1082" width="2" height="2" fill="#3fca8e"/><rect x="695" y="1082" width="2" height="2" fill="#37c898"/><rect x="697" y="1082" width="2" height="2" fill="#32c69e"/><rect x="699" y="1082" width="2" height="2" fill="#2cc4a6"/><rect x="705" y="1082" width="2" height="2" fill="#6ccd68"/><rect x="707" y="1082" width="2" height="2" fill="#bec32e"/><rect x="709" y="1082" width="2" height="2" fill="#a2c840"/><rect x="711" y="1082" width="2" height="2" fill="#28c3ab"/><rect x="713" y="1082" width="2" height="2" fill="#22a2e4"/><rect x="715" y="1082" width="2" height="2" fill="#07b5d0"/><rect x="717" y="1082" width="2" height="2" fill="#1aacdd"/><rect x="719" y="1082" width="2" height="2" fill="#259ce7"/><rect x="721" y="1082" width="2" height="2" fill="#2a93ed"/><rect x="723" y="1082" width="2" height="2" fill="#1aabdd"/><rect x="725" y="1082" width="2" height="2" fill="#3bc993"/><rect x="727" y="1082" width="2" height="2" fill="#58cc79"/><rect x="729" y="1082" width="2" height="2" fill="#2a92ee"/><rect x="731" y="1082" width="2" height="2" fill="#3e26a8"/><rect x="733" y="1082" width="2" height="2" fill="#3e26a8"/><rect x="735" y="1082" width="2" height="2" fill="#3e26a8"/><rect x="737" y="1082" width="2" height="2" fill="#484ff2"/><rect x="739" y="1082" width="2" height="2" fill="#269ae8"/><rect x="741" y="1082" width="2" height="2" fill="#03b7cc"/><rect x="745" y="1082" width="2" height="2" fill="#03b7cc"/><rect x="747" y="1082" width="2" height="2" fill="#2dc4a5"/><rect x="749" y="1082" width="2" height="2" fill="#39c995"/><rect x="751" y="1082" width="2" height="2" fill="#2dc4a5"/><rect x="755" y="1082" width="2" height="2" fill="#01b8c8"/><rect x="757" y="1082" width="2" height="2" fill="#09b4d1"/><rect x="759" y="1082" width="2" height="2" fill="#14b0d8"/><rect x="763" y="1082" width="2" height="2" fill="#3eca90"/><rect x="765" y="1082" width="2" height="2" fill="#3ac993"/><rect x="767" y="1082" width="2" height="2" fill="#2ec5a4"/><rect x="769" y="1082" width="2" height="2" fill="#28c3ab"/><rect x="773" y="1082" width="2" height="2" fill="#2fc5a3"/><rect x="775" y="1082" width="2" height="2" fill="#2dc4a6"/><rect x="777" y="1082" width="2" height="2" fill="#3dc990"/><rect x="779" y="1082" width="2" height="2" fill="#3eca8f"/><rect x="675" y="1084" width="2" height="2" fill="#28c2ab"/><rect x="677" y="1084" width="2" height="2" fill="#36c899"/><rect x="679" y="1084" width="2" height="2" fill="#77cc60"/><rect x="681" y="1084" width="2" height="2" fill="#83cc57"/><rect x="683" y="1084" width="2" height="2" fill="#35c79b"/><rect x="685" y="1084" width="2" height="2" fill="#01b9c7"/><rect x="687" y="1084" width="2" height="2" fill="#1babde"/><rect x="689" y="1084" width="2" height="2" fill="#09b4d1"/><rect x="693" y="1084" width="2" height="2" fill="#2ac3a9"/><rect x="697" y="1084" width="2" height="2" fill="#22a2e4"/><rect x="699" y="1084" width="2" height="2" fill="#1ea7e1"/><rect x="701" y="1084" width="2" height="2" fill="#01b8ca"/><rect x="703" y="1084" width="2" height="2" fill="#41ca8c"/><rect x="705" y="1084" width="2" height="2" fill="#87cb54"/><rect x="707" y="1084" width="2" height="2" fill="#6fcd65"/><rect x="709" y="1084" width="2" height="2" fill="#18addb"/><rect x="711" y="1084" width="2" height="2" fill="#484aee"/><rect x="713" y="1084" width="2" height="2" fill="#4332c9"/><rect x="715" y="1084" width="2" height="2" fill="#347afd"/><rect x="717" y="1084" width="2" height="2" fill="#01b8c8"/><rect x="729" y="1084" width="2" height="2" fill="#12b1d6"/><rect x="731" y="1084" width="2" height="2" fill="#259ce7"/><rect x="733" y="1084" width="2" height="2" fill="#22a2e4"/><rect x="735" y="1084" width="2" height="2" fill="#31c6a0"/><rect x="737" y="1084" width="2" height="2" fill="#35c79a"/><rect x="739" y="1084" width="2" height="2" fill="#0db3d3"/><rect x="741" y="1084" width="2" height="2" fill="#249fe5"/><rect x="743" y="1084" width="2" height="2" fill="#17aeda"/><rect x="755" y="1084" width="2" height="2" fill="#30c5a2"/><rect x="757" y="1084" width="2" height="2" fill="#51cc7f"/><rect x="759" y="1084" width="2" height="2" fill="#45cb89"/><rect x="761" y="1084" width="2" height="2" fill="#29c3aa"/><rect x="765" y="1084" width="2" height="2" fill="#05b6cd"/><rect x="767" y="1084" width="2" height="2" fill="#07b5d0"/><rect x="769" y="1084" width="2" height="2" fill="#01b9c8"/><rect x="773" y="1084" width="2" height="2" fill="#01b9c8"/><rect x="775" y="1084" width="2" height="2" fill="#08b5d0"/><rect x="777" y="1084" width="2" height="2" fill="#14b0d8"/><rect x="779" y="1084" width="2" height="2" fill="#18aedb"/><rect x="781" y="1084" width="2" height="2" fill="#09b4d1"/><rect x="787" y="1084" width="2" height="2" fill="#2dc4a6"/><rect x="665" y="1086" width="2" height="2" fill="#2bc3a8"/><rect x="667" y="1086" width="2" height="2" fill="#31c6a0"/><rect x="669" y="1086" width="2" height="2" fill="#2bc3a8"/><rect x="679" y="1086" width="2" height="2" fill="#2bc3a8"/><rect x="681" y="1086" width="2" height="2" fill="#2fc5a3"/><rect x="687" y="1086" width="2" height="2" fill="#01b9c7"/><rect x="691" y="1086" width="2" height="2" fill="#29c3aa"/><rect x="693" y="1086" width="2" height="2" fill="#2ec5a4"/><rect x="695" y="1086" width="2" height="2" fill="#43ca8b"/><rect x="697" y="1086" width="2" height="2" fill="#65cd6e"/><rect x="699" y="1086" width="2" height="2" fill="#3cc991"/><rect x="705" y="1086" width="2" height="2" fill="#6ccd69"/><rect x="707" y="1086" width="2" height="2" fill="#64cd6f"/><rect x="709" y="1086" width="2" height="2" fill="#259ce7"/><rect x="711" y="1086" width="2" height="2" fill="#3f29b2"/><rect x="713" y="1086" width="2" height="2" fill="#3e26a8"/><rect x="715" y="1086" width="2" height="2" fill="#3678fe"/><rect x="717" y="1086" width="2" height="2" fill="#12b1d6"/><rect x="723" y="1086" width="2" height="2" fill="#65cd6e"/><rect x="725" y="1086" width="2" height="2" fill="#bfc32d"/><rect x="727" y="1086" width="2" height="2" fill="#e0bc2a"/><rect x="729" y="1086" width="2" height="2" fill="#75cc61"/><rect x="731" y="1086" width="2" height="2" fill="#01b8c9"/><rect x="733" y="1086" width="2" height="2" fill="#21a3e3"/><rect x="735" y="1086" width="2" height="2" fill="#2895ec"/><rect x="737" y="1086" width="2" height="2" fill="#20a4e3"/><rect x="739" y="1086" width="2" height="2" fill="#05b6ce"/><rect x="743" y="1086" width="2" height="2" fill="#02b7cb"/><rect x="745" y="1086" width="2" height="2" fill="#15afd9"/><rect x="749" y="1086" width="2" height="2" fill="#5ccc76"/><rect x="751" y="1086" width="2" height="2" fill="#a5c83d"/><rect x="753" y="1086" width="2" height="2" fill="#38c896"/><rect x="757" y="1086" width="2" height="2" fill="#34c79b"/><rect x="759" y="1086" width="2" height="2" fill="#74cc62"/><rect x="761" y="1086" width="2" height="2" fill="#5bcc76"/><rect x="763" y="1086" width="2" height="2" fill="#30c5a1"/><rect x="771" y="1086" width="2" height="2" fill="#28c3ab"/><rect x="773" y="1086" width="2" height="2" fill="#28c2ab"/><rect x="777" y="1086" width="2" height="2" fill="#02b7cb"/><rect x="779" y="1086" width="2" height="2" fill="#04b6cc"/><rect x="791" y="1086" width="2" height="2" fill="#01b9c6"/><rect x="669" y="1088" width="2" height="2" fill="#01b9c6"/><rect x="673" y="1088" width="2" height="2" fill="#31c6a0"/><rect x="675" y="1088" width="2" height="2" fill="#33c69d"/><rect x="677" y="1088" width="2" height="2" fill="#2ac3a9"/><rect x="685" y="1088" width="2" height="2" fill="#2ec4a4"/><rect x="687" y="1088" width="2" height="2" fill="#33c69e"/><rect x="689" y="1088" width="2" height="2" fill="#2bc3a8"/><rect x="695" y="1088" width="2" height="2" fill="#01b8c9"/><rect x="697" y="1088" width="2" height="2" fill="#0db3d3"/><rect x="699" y="1088" width="2" height="2" fill="#03b7cc"/><rect x="705" y="1088" width="2" height="2" fill="#34c79c"/><rect x="707" y="1088" width="2" height="2" fill="#35c79a"/><rect x="709" y="1088" width="2" height="2" fill="#2cc4a6"/><rect x="711" y="1088" width="2" height="2" fill="#02b7cb"/><rect x="713" y="1088" width="2" height="2" fill="#23a0e5"/><rect x="715" y="1088" width="2" height="2" fill="#21a3e4"/><rect x="717" y="1088" width="2" height="2" fill="#09b4d1"/><rect x="719" y="1088" width="2" height="2" fill="#36c898"/><rect x="721" y="1088" width="2" height="2" fill="#99c946"/><rect x="723" y="1088" width="2" height="2" fill="#abc739"/><rect x="725" y="1088" width="2" height="2" fill="#82cc58"/><rect x="727" y="1088" width="2" height="2" fill="#5dcc75"/><rect x="729" y="1088" width="2" height="2" fill="#5bcc77"/><rect x="731" y="1088" width="2" height="2" fill="#01b9c6"/><rect x="733" y="1088" width="2" height="2" fill="#2895ec"/><rect x="735" y="1088" width="2" height="2" fill="#2699ea"/><rect x="737" y="1088" width="2" height="2" fill="#21a3e4"/><rect x="739" y="1088" width="2" height="2" fill="#22a1e4"/><rect x="741" y="1088" width="2" height="2" fill="#22a1e4"/><rect x="743" y="1088" width="2" height="2" fill="#01b7ca"/><rect x="745" y="1088" width="2" height="2" fill="#34c79c"/><rect x="747" y="1088" width="2" height="2" fill="#8bcb51"/><rect x="749" y="1088" width="2" height="2" fill="#f5ba3a"/><rect x="751" y="1088" width="2" height="2" fill="#cec028"/><rect x="753" y="1088" width="2" height="2" fill="#3cc991"/><rect x="757" y="1088" width="2" height="2" fill="#2dc4a6"/><rect x="759" y="1088" width="2" height="2" fill="#2ec5a4"/><rect x="763" y="1088" width="2" height="2" fill="#02b7cb"/><rect x="765" y="1088" width="2" height="2" fill="#09b4d1"/><rect x="767" y="1088" width="2" height="2" fill="#04b6cc"/><rect x="771" y="1088" width="2" height="2" fill="#01b8c8"/><rect x="773" y="1088" width="2" height="2" fill="#01b8c8"/><rect x="655" y="1090" width="2" height="2" fill="#2ec5a4"/><rect x="659" y="1090" width="2" height="2" fill="#0eb2d4"/><rect x="661" y="1090" width="2" height="2" fill="#259de7"/><rect x="663" y="1090" width="2" height="2" fill="#19addc"/><rect x="669" y="1090" width="2" height="2" fill="#01b8c9"/><rect x="671" y="1090" width="2" height="2" fill="#09b4d1"/><rect x="673" y="1090" width="2" height="2" fill="#15afd9"/><rect x="675" y="1090" width="2" height="2" fill="#01b9c7"/><rect x="685" y="1090" width="2" height="2" fill="#30c5a2"/><rect x="687" y="1090" width="2" height="2" fill="#6fcd66"/><rect x="689" y="1090" width="2" height="2" fill="#93ca4b"/><rect x="691" y="1090" width="2" height="2" fill="#36c898"/><rect x="699" y="1090" width="2" height="2" fill="#1babde"/><rect x="701" y="1090" width="2" height="2" fill="#2796eb"/><rect x="703" y="1090" width="2" height="2" fill="#21a4e3"/><rect x="705" y="1090" width="2" height="2" fill="#01b9c7"/><rect x="711" y="1090" width="2" height="2" fill="#0bb4d2"/><rect x="713" y="1090" width="2" height="2" fill="#2d8cf3"/><rect x="715" y="1090" width="2" height="2" fill="#4759f9"/><rect x="717" y="1090" width="2" height="2" fill="#2c8ef1"/><rect x="719" y="1090" width="2" height="2" fill="#08b5d0"/><rect x="723" y="1090" width="2" height="2" fill="#1da9e0"/><rect x="725" y="1090" width="2" height="2" fill="#2a93ed"/><rect x="727" y="1090" width="2" height="2" fill="#2a92ee"/><rect x="729" y="1090" width="2" height="2" fill="#21a3e4"/><rect x="731" y="1090" width="2" height="2" fill="#0bb3d2"/><rect x="735" y="1090" width="2" height="2" fill="#32c69e"/><rect x="737" y="1090" width="2" height="2" fill="#3cc991"/><rect x="739" y="1090" width="2" height="2" fill="#32c69e"/><rect x="743" y="1090" width="2" height="2" fill="#07b5d0"/><rect x="745" y="1090" width="2" height="2" fill="#21a2e4"/><rect x="747" y="1090" width="2" height="2" fill="#4562fc"/><rect x="749" y="1090" width="2" height="2" fill="#4849ed"/><rect x="751" y="1090" width="2" height="2" fill="#2c8ff1"/><rect x="753" y="1090" width="2" height="2" fill="#02b7cb"/><rect x="759" y="1090" width="2" height="2" fill="#01b9c7"/><rect x="761" y="1090" width="2" height="2" fill="#05b6cd"/><rect x="763" y="1090" width="2" height="2" fill="#16afda"/><rect x="765" y="1090" width="2" height="2" fill="#0db3d3"/><rect x="769" y="1090" width="2" height="2" fill="#28c3aa"/><rect x="771" y="1090" width="2" height="2" fill="#30c5a2"/><rect x="773" y="1090" width="2" height="2" fill="#2ac3a9"/><rect x="775" y="1090" width="2" height="2" fill="#2ac3a9"/><rect x="777" y="1090" width="2" height="2" fill="#29c3aa"/><rect x="783" y="1090" width="2" height="2" fill="#01b9c7"/><rect x="661" y="1092" width="2" height="2" fill="#01b9c6"/><rect x="663" y="1092" width="2" height="2" fill="#01b8c9"/><rect x="665" y="1092" width="2" height="2" fill="#0bb3d2"/><rect x="671" y="1092" width="2" height="2" fill="#35c799"/><rect x="673" y="1092" width="2" height="2" fill="#82cc57"/><rect x="675" y="1092" width="2" height="2" fill="#9dc943"/><rect x="677" y="1092" width="2" height="2" fill="#70cd65"/><rect x="679" y="1092" width="2" height="2" fill="#2bc3a8"/><rect x="683" y="1092" width="2" height="2" fill="#03b7cc"/><rect x="687" y="1092" width="2" height="2" fill="#28c3ab"/><rect x="691" y="1092" width="2" height="2" fill="#03b6cc"/><rect x="695" y="1092" width="2" height="2" fill="#31c69f"/><rect x="697" y="1092" width="2" height="2" fill="#56cc7b"/><rect x="699" y="1092" width="2" height="2" fill="#42ca8b"/><rect x="701" y="1092" width="2" height="2" fill="#2ac3a9"/><rect x="703" y="1092" width="2" height="2" fill="#32c69f"/><rect x="705" y="1092" width="2" height="2" fill="#37c897"/><rect x="707" y="1092" width="2" height="2" fill="#31c6a0"/><rect x="713" y="1092" width="2" height="2" fill="#34c79c"/><rect x="715" y="1092" width="2" height="2" fill="#3eca8f"/><rect x="717" y="1092" width="2" height="2" fill="#55cc7b"/><rect x="719" y="1092" width="2" height="2" fill="#d2bf27"/><rect x="721" y="1092" width="2" height="2" fill="#c1c32c"/><rect x="723" y="1092" width="2" height="2" fill="#4fcc81"/><rect x="725" y="1092" width="2" height="2" fill="#2fc5a2"/><rect x="727" y="1092" width="2" height="2" fill="#3fca8e"/><rect x="729" y="1092" width="2" height="2" fill="#89cb52"/><rect x="731" y="1092" width="2" height="2" fill="#63cd70"/><rect x="733" y="1092" width="2" height="2" fill="#34c79c"/><rect x="739" y="1092" width="2" height="2" fill="#31c69f"/><rect x="743" y="1092" width="2" height="2" fill="#426afe"/><rect x="745" y="1092" width="2" height="2" fill="#3e26a8"/><rect x="747" y="1092" width="2" height="2" fill="#20a4e3"/><rect x="749" y="1092" width="2" height="2" fill="#35c79a"/><rect x="751" y="1092" width="2" height="2" fill="#84cb56"/><rect x="753" y="1092" width="2" height="2" fill="#41ca8c"/><rect x="755" y="1092" width="2" height="2" fill="#2dc4a5"/><rect x="759" y="1092" width="2" height="2" fill="#01b8c9"/><rect x="761" y="1092" width="2" height="2" fill="#0fb2d5"/><rect x="763" y="1092" width="2" height="2" fill="#05b6ce"/><rect x="781" y="1092" width="2" height="2" fill="#27c2ab"/><rect x="667" y="1094" width="2" height="2" fill="#2cc4a7"/><rect x="669" y="1094" width="2" height="2" fill="#2ec4a5"/><rect x="671" y="1094" width="2" height="2" fill="#29c3a9"/><rect x="681" y="1094" width="2" height="2" fill="#2cc4a6"/><rect x="683" y="1094" width="2" height="2" fill="#35c79a"/><rect x="685" y="1094" width="2" height="2" fill="#3bc992"/><rect x="687" y="1094" width="2" height="2" fill="#31c6a0"/><rect x="689" y="1094" width="2" height="2" fill="#29c3aa"/><rect x="691" y="1094" width="2" height="2" fill="#2cc4a7"/><rect x="693" y="1094" width="2" height="2" fill="#32c69f"/><rect x="697" y="1094" width="2" height="2" fill="#19addc"/><rect x="699" y="1094" width="2" height="2" fill="#19addc"/><rect x="701" y="1094" width="2" height="2" fill="#06b5cf"/><rect x="705" y="1094" width="2" height="2" fill="#36c799"/><rect x="707" y="1094" width="2" height="2" fill="#30c5a1"/><rect x="713" y="1094" width="2" height="2" fill="#3dc990"/><rect x="715" y="1094" width="2" height="2" fill="#5dcc75"/><rect x="717" y="1094" width="2" height="2" fill="#39c895"/><rect x="719" y="1094" width="2" height="2" fill="#2bc3a8"/><rect x="727" y="1094" width="2" height="2" fill="#02b7cb"/><rect x="729" y="1094" width="2" height="2" fill="#01b9c7"/><rect x="737" y="1094" width="2" height="2" fill="#2bc3a8"/><rect x="739" y="1094" width="2" height="2" fill="#4bcb84"/><rect x="741" y="1094" width="2" height="2" fill="#4bcb83"/><rect x="745" y="1094" width="2" height="2" fill="#05b6cd"/><rect x="747" y="1094" width="2" height="2" fill="#01b8c9"/><rect x="751" y="1094" width="2" height="2" fill="#01b8c8"/><rect x="755" y="1094" width="2" height="2" fill="#01b8c9"/><rect x="765" y="1094" width="2" height="2" fill="#03b7cc"/><rect x="769" y="1094" width="2" height="2" fill="#01b9c6"/><rect x="771" y="1094" width="2" height="2" fill="#16afd9"/><rect x="773" y="1094" width="2" height="2" fill="#1fa5e2"/><rect x="775" y="1094" width="2" height="2" fill="#04b6cc"/><rect x="783" y="1094" width="2" height="2" fill="#06b5cf"/><rect x="785" y="1094" width="2" height="2" fill="#0eb2d4"/><rect x="651" y="1096" width="2" height="2" fill="#31c6a0"/><rect x="653" y="1096" width="2" height="2" fill="#3eca8f"/><rect x="655" y="1096" width="2" height="2" fill="#3eca8f"/><rect x="657" y="1096" width="2" height="2" fill="#2fc5a2"/><rect x="659" y="1096" width="2" height="2" fill="#27c2ac"/><rect x="663" y="1096" width="2" height="2" fill="#27c2ab"/><rect x="687" y="1096" width="2" height="2" fill="#27c2ab"/><rect x="691" y="1096" width="2" height="2" fill="#15afd8"/><rect x="693" y="1096" width="2" height="2" fill="#0fb2d4"/><rect x="697" y="1096" width="2" height="2" fill="#40ca8d"/><rect x="699" y="1096" width="2" height="2" fill="#3eca8f"/><rect x="703" y="1096" width="2" height="2" fill="#1baade"/><rect x="705" y="1096" width="2" height="2" fill="#1da8e0"/><rect x="709" y="1096" width="2" height="2" fill="#2cc4a6"/><rect x="711" y="1096" width="2" height="2" fill="#2cc4a7"/><rect x="715" y="1096" width="2" height="2" fill="#0bb3d2"/><rect x="717" y="1096" width="2" height="2" fill="#04b6cd"/><rect x="719" y="1096" width="2" height="2" fill="#2fc5a3"/><rect x="721" y="1096" width="2" height="2" fill="#64cd6f"/><rect x="723" y="1096" width="2" height="2" fill="#ecba32"/><rect x="725" y="1096" width="2" height="2" fill="#f8d92b"/><rect x="727" y="1096" width="2" height="2" fill="#fec13a"/><rect x="729" y="1096" width="2" height="2" fill="#7dcc5b"/><rect x="731" y="1096" width="2" height="2" fill="#43ca8b"/><rect x="733" y="1096" width="2" height="2" fill="#4fcc80"/><rect x="735" y="1096" width="2" height="2" fill="#46cb88"/><rect x="737" y="1096" width="2" height="2" fill="#2dc4a6"/><rect x="741" y="1096" width="2" height="2" fill="#32c69f"/><rect x="743" y="1096" width="2" height="2" fill="#4acb84"/><rect x="745" y="1096" width="2" height="2" fill="#47cb87"/><rect x="747" y="1096" width="2" height="2" fill="#45cb89"/><rect x="749" y="1096" width="2" height="2" fill="#37c898"/><rect x="751" y="1096" width="2" height="2" fill="#38c896"/><rect x="753" y="1096" width="2" height="2" fill="#4ecc81"/><rect x="755" y="1096" width="2" height="2" fill="#8acb52"/><rect x="757" y="1096" width="2" height="2" fill="#61cd71"/><rect x="759" y="1096" width="2" height="2" fill="#2bc3a8"/><rect x="769" y="1096" width="2" height="2" fill="#30c5a1"/><rect x="771" y="1096" width="2" height="2" fill="#36c799"/><rect x="773" y="1096" width="2" height="2" fill="#2ec5a3"/><rect x="651" y="1098" width="2" height="2" fill="#01b7ca"/><rect x="661" y="1098" width="2" height="2" fill="#29c3aa"/><rect x="663" y="1098" width="2" height="2" fill="#3ac994"/><rect x="665" y="1098" width="2" height="2" fill="#35c79a"/><rect x="667" y="1098" width="2" height="2" fill="#29c3aa"/><rect x="687" y="1098" width="2" height="2" fill="#01b9c8"/><rect x="695" y="1098" width="2" height="2" fill="#2ec4a4"/><rect x="697" y="1098" width="2" height="2" fill="#34c79b"/><rect x="699" y="1098" width="2" height="2" fill="#33c79c"/><rect x="701" y="1098" width="2" height="2" fill="#32c69e"/><rect x="705" y="1098" width="2" height="2" fill="#1baade"/><rect x="707" y="1098" width="2" height="2" fill="#2c8ff1"/><rect x="709" y="1098" width="2" height="2" fill="#1caadf"/><rect x="711" y="1098" width="2" height="2" fill="#30c5a1"/><rect x="713" y="1098" width="2" height="2" fill="#5acc78"/><rect x="715" y="1098" width="2" height="2" fill="#5dcc75"/><rect x="717" y="1098" width="2" height="2" fill="#46cb88"/><rect x="719" y="1098" width="2" height="2" fill="#27c2ab"/><rect x="725" y="1098" width="2" height="2" fill="#30c5a1"/><rect x="727" y="1098" width="2" height="2" fill="#32c69e"/><rect x="729" y="1098" width="2" height="2" fill="#2ac3a9"/><rect x="731" y="1098" width="2" height="2" fill="#2bc3a8"/><rect x="741" y="1098" width="2" height="2" fill="#06b5cf"/><rect x="743" y="1098" width="2" height="2" fill="#01b9c7"/><rect x="747" y="1098" width="2" height="2" fill="#34c79c"/><rect x="749" y="1098" width="2" height="2" fill="#2cc4a7"/><rect x="751" y="1098" width="2" height="2" fill="#04b6cd"/><rect x="753" y="1098" width="2" height="2" fill="#17aeda"/><rect x="755" y="1098" width="2" height="2" fill="#11b1d6"/><rect x="761" y="1098" width="2" height="2" fill="#01b8c8"/><rect x="763" y="1098" width="2" height="2" fill="#04b6cd"/><rect x="765" y="1098" width="2" height="2" fill="#05b6ce"/><rect x="771" y="1098" width="2" height="2" fill="#28c2ab"/><rect x="775" y="1098" width="2" height="2" fill="#01b8ca"/><rect x="777" y="1098" width="2" height="2" fill="#0cb3d3"/><rect x="779" y="1098" width="2" height="2" fill="#01b9c7"/><rect x="659" y="1100" width="2" height="2" fill="#1aacdd"/><rect x="661" y="1100" width="2" height="2" fill="#13b0d7"/><rect x="663" y="1100" width="2" height="2" fill="#01b9c7"/><rect x="681" y="1100" width="2" height="2" fill="#2bc3a8"/><rect x="683" y="1100" width="2" height="2" fill="#38c896"/><rect x="685" y="1100" width="2" height="2" fill="#34c79b"/><rect x="687" y="1100" width="2" height="2" fill="#2ec4a4"/><rect x="689" y="1100" width="2" height="2" fill="#2fc5a3"/><rect x="691" y="1100" width="2" height="2" fill="#34c79c"/><rect x="693" y="1100" width="2" height="2" fill="#31c6a0"/><rect x="699" y="1100" width="2" height="2" fill="#01b8c8"/><rect x="701" y="1100" width="2" height="2" fill="#09b4d1"/><rect x="703" y="1100" width="2" height="2" fill="#1caadf"/><rect x="705" y="1100" width="2" height="2" fill="#249ee6"/><rect x="707" y="1100" width="2" height="2" fill="#2798ea"/><rect x="709" y="1100" width="2" height="2" fill="#08b4d0"/><rect x="713" y="1100" width="2" height="2" fill="#34c79c"/><rect x="715" y="1100" width="2" height="2" fill="#2dc4a6"/><rect x="721" y="1100" width="2" height="2" fill="#06b5cf"/><rect x="723" y="1100" width="2" height="2" fill="#01b8c9"/><rect x="727" y="1100" width="2" height="2" fill="#29c3aa"/><rect x="729" y="1100" width="2" height="2" fill="#02b7cb"/><rect x="731" y="1100" width="2" height="2" fill="#22a1e4"/><rect x="733" y="1100" width="2" height="2" fill="#259ce7"/><rect x="735" y="1100" width="2" height="2" fill="#1ca9df"/><rect x="737" y="1100" width="2" height="2" fill="#2699e9"/><rect x="739" y="1100" width="2" height="2" fill="#259ce7"/><rect x="741" y="1100" width="2" height="2" fill="#14b0d8"/><rect x="745" y="1100" width="2" height="2" fill="#2bc3a7"/><rect x="751" y="1100" width="2" height="2" fill="#28c3aa"/><rect x="755" y="1100" width="2" height="2" fill="#04b6cd"/><rect x="757" y="1100" width="2" height="2" fill="#1ca9df"/><rect x="759" y="1100" width="2" height="2" fill="#04b6cd"/><rect x="763" y="1100" width="2" height="2" fill="#2fc5a3"/><rect x="765" y="1100" width="2" height="2" fill="#28c3ab"/><rect x="647" y="1102" width="2" height="2" fill="#28c2ab"/><rect x="675" y="1102" width="2" height="2" fill="#28c3aa"/><rect x="679" y="1102" width="2" height="2" fill="#2ec5a4"/><rect x="681" y="1102" width="2" height="2" fill="#35c79a"/><rect x="683" y="1102" width="2" height="2" fill="#61cd71"/><rect x="685" y="1102" width="2" height="2" fill="#adc638"/><rect x="687" y="1102" width="2" height="2" fill="#7ecc5b"/><rect x="689" y="1102" width="2" height="2" fill="#2ec4a5"/><rect x="691" y="1102" width="2" height="2" fill="#01b8ca"/><rect x="695" y="1102" width="2" height="2" fill="#38c897"/><rect x="697" y="1102" width="2" height="2" fill="#b5c533"/><rect x="699" y="1102" width="2" height="2" fill="#b2c535"/><rect x="701" y="1102" width="2" height="2" fill="#33c69d"/><rect x="707" y="1102" width="2" height="2" fill="#2fc5a3"/><rect x="709" y="1102" width="2" height="2" fill="#55cc7c"/><rect x="711" y="1102" width="2" height="2" fill="#ebba32"/><rect x="713" y="1102" width="2" height="2" fill="#fec537"/><rect x="715" y="1102" width="2" height="2" fill="#e0bc2a"/><rect x="717" y="1102" width="2" height="2" fill="#93ca4b"/><rect x="719" y="1102" width="2" height="2" fill="#44ca8a"/><rect x="721" y="1102" width="2" height="2" fill="#37c898"/><rect x="723" y="1102" width="2" height="2" fill="#2cc4a7"/><rect x="727" y="1102" width="2" height="2" fill="#28c3ab"/><rect x="729" y="1102" width="2" height="2" fill="#2ac3a9"/><rect x="731" y="1102" width="2" height="2" fill="#38c896"/><rect x="733" y="1102" width="2" height="2" fill="#3ac994"/><rect x="735" y="1102" width="2" height="2" fill="#2bc3a7"/><rect x="739" y="1102" width="2" height="2" fill="#2798ea"/><rect x="741" y="1102" width="2" height="2" fill="#317dfc"/><rect x="743" y="1102" width="2" height="2" fill="#2993ed"/><rect x="745" y="1102" width="2" height="2" fill="#08b4d1"/><rect x="749" y="1102" width="2" height="2" fill="#2cc4a7"/><rect x="751" y="1102" width="2" height="2" fill="#27c2ab"/><rect x="753" y="1102" width="2" height="2" fill="#2bc3a8"/><rect x="755" y="1102" width="2" height="2" fill="#30c5a2"/><rect x="757" y="1102" width="2" height="2" fill="#30c5a2"/><rect x="771" y="1102" width="2" height="2" fill="#54cc7d"/><rect x="773" y="1102" width="2" height="2" fill="#5ecc74"/><rect x="779" y="1102" width="2" height="2" fill="#01b9c7"/><rect x="789" y="1102" width="2" height="2" fill="#04b6cd"/><rect x="791" y="1102" width="2" height="2" fill="#01b8ca"/><rect x="793" y="1102" width="2" height="2" fill="#01b9c7"/><rect x="795" y="1102" width="2" height="2" fill="#02b7cb"/><rect x="797" y="1102" width="2" height="2" fill="#01b8c9"/><rect x="659" y="1104" width="2" height="2" fill="#03b7cb"/><rect x="665" y="1104" width="2" height="2" fill="#28c2ab"/><rect x="671" y="1104" width="2" height="2" fill="#29c3a9"/><rect x="673" y="1104" width="2" height="2" fill="#30c5a1"/><rect x="677" y="1104" width="2" height="2" fill="#03b7cc"/><rect x="679" y="1104" width="2" height="2" fill="#17aeda"/><rect x="681" y="1104" width="2" height="2" fill="#04b6cd"/><rect x="683" y="1104" width="2" height="2" fill="#01b9c6"/><rect x="685" y="1104" width="2" height="2" fill="#01b9c7"/><rect x="687" y="1104" width="2" height="2" fill="#0bb3d2"/><rect x="689" y="1104" width="2" height="2" fill="#04b6cd"/><rect x="697" y="1104" width="2" height="2" fill="#06b5ce"/><rect x="699" y="1104" width="2" height="2" fill="#10b2d5"/><rect x="707" y="1104" width="2" height="2" fill="#05b6ce"/><rect x="709" y="1104" width="2" height="2" fill="#0db3d3"/><rect x="719" y="1104" width="2" height="2" fill="#0cb3d3"/><rect x="721" y="1104" width="2" height="2" fill="#18addb"/><rect x="723" y="1104" width="2" height="2" fill="#01b9c8"/><rect x="725" y="1104" width="2" height="2" fill="#29c3a9"/><rect x="727" y="1104" width="2" height="2" fill="#34c79b"/><rect x="729" y="1104" width="2" height="2" fill="#2ec5a4"/><rect x="731" y="1104" width="2" height="2" fill="#2bc3a8"/><rect x="733" y="1104" width="2" height="2" fill="#33c69e"/><rect x="735" y="1104" width="2" height="2" fill="#3eca8f"/><rect x="737" y="1104" width="2" height="2" fill="#66cd6d"/><rect x="739" y="1104" width="2" height="2" fill="#51cc7f"/><rect x="741" y="1104" width="2" height="2" fill="#36c799"/><rect x="743" y="1104" width="2" height="2" fill="#2fc5a3"/><rect x="745" y="1104" width="2" height="2" fill="#36c799"/><rect x="747" y="1104" width="2" height="2" fill="#37c897"/><rect x="751" y="1104" width="2" height="2" fill="#01b9c6"/><rect x="771" y="1104" width="2" height="2" fill="#0cb3d2"/><rect x="773" y="1104" width="2" height="2" fill="#1ea7e1"/><rect x="775" y="1104" width="2" height="2" fill="#1da9e0"/><rect x="777" y="1104" width="2" height="2" fill="#01b8c9"/><rect x="669" y="1106" width="2" height="2" fill="#04b6cd"/><rect x="671" y="1106" width="2" height="2" fill="#13b1d7"/><rect x="673" y="1106" width="2" height="2" fill="#01b8c8"/><rect x="685" y="1106" width="2" height="2" fill="#2ec4a4"/><rect x="697" y="1106" width="2" height="2" fill="#27c2ab"/><rect x="699" y="1106" width="2" height="2" fill="#33c69d"/><rect x="705" y="1106" width="2" height="2" fill="#11b1d6"/><rect x="709" y="1106" width="2" height="2" fill="#2fc5a2"/><rect x="711" y="1106" width="2" height="2" fill="#3fca8e"/><rect x="713" y="1106" width="2" height="2" fill="#2ec5a4"/><rect x="721" y="1106" width="2" height="2" fill="#33c79d"/><rect x="723" y="1106" width="2" height="2" fill="#37c897"/><rect x="725" y="1106" width="2" height="2" fill="#3cc991"/><rect x="727" y="1106" width="2" height="2" fill="#36c898"/><rect x="733" y="1106" width="2" height="2" fill="#0cb3d3"/><rect x="735" y="1106" width="2" height="2" fill="#1da8e0"/><rect x="737" y="1106" width="2" height="2" fill="#259ce7"/><rect x="739" y="1106" width="2" height="2" fill="#1fa5e2"/><rect x="741" y="1106" width="2" height="2" fill="#0bb4d2"/><rect x="747" y="1106" width="2" height="2" fill="#34c79b"/><rect x="749" y="1106" width="2" height="2" fill="#39c895"/><rect x="751" y="1106" width="2" height="2" fill="#2dc4a5"/><rect x="755" y="1106" width="2" height="2" fill="#01b8c8"/><rect x="757" y="1106" width="2" height="2" fill="#08b4d1"/><rect x="759" y="1106" width="2" height="2" fill="#14b0d8"/><rect x="761" y="1106" width="2" height="2" fill="#01b7ca"/><rect x="779" y="1106" width="2" height="2" fill="#01b8c9"/><rect x="673" y="1108" width="2" height="2" fill="#0bb3d2"/><rect x="675" y="1108" width="2" height="2" fill="#1baade"/><rect x="677" y="1108" width="2" height="2" fill="#04b6cd"/><rect x="681" y="1108" width="2" height="2" fill="#2cc4a7"/><rect x="683" y="1108" width="2" height="2" fill="#39c995"/><rect x="685" y="1108" width="2" height="2" fill="#3ac994"/><rect x="687" y="1108" width="2" height="2" fill="#30c5a1"/><rect x="689" y="1108" width="2" height="2" fill="#30c5a1"/><rect x="691" y="1108" width="2" height="2" fill="#3dc990"/><rect x="693" y="1108" width="2" height="2" fill="#2dc4a6"/><rect x="709" y="1108" width="2" height="2" fill="#30c5a2"/><rect x="711" y="1108" width="2" height="2" fill="#69cd6a"/><rect x="713" y="1108" width="2" height="2" fill="#e2bc2b"/><rect x="715" y="1108" width="2" height="2" fill="#acc738"/><rect x="717" y="1108" width="2" height="2" fill="#2ac3a8"/><rect x="719" y="1108" width="2" height="2" fill="#01b8c9"/><rect x="721" y="1108" width="2" height="2" fill="#08b4d0"/><rect x="723" y="1108" width="2" height="2" fill="#17aeda"/><rect x="725" y="1108" width="2" height="2" fill="#0db3d4"/><rect x="727" y="1108" width="2" height="2" fill="#0eb2d4"/><rect x="733" y="1108" width="2" height="2" fill="#01b8c8"/><rect x="735" y="1108" width="2" height="2" fill="#1aabdd"/><rect x="737" y="1108" width="2" height="2" fill="#19acdc"/><rect x="739" y="1108" width="2" height="2" fill="#01b9c7"/><rect x="743" y="1108" width="2" height="2" fill="#01b8ca"/><rect x="745" y="1108" width="2" height="2" fill="#01b8c9"/><rect x="773" y="1108" width="2" height="2" fill="#01b9c7"/><rect x="673" y="1110" width="2" height="2" fill="#2bc3a8"/><rect x="675" y="1110" width="2" height="2" fill="#36c799"/><rect x="677" y="1110" width="2" height="2" fill="#28c3aa"/><rect x="695" y="1110" width="2" height="2" fill="#32c69f"/><rect x="697" y="1110" width="2" height="2" fill="#51cc7f"/><rect x="699" y="1110" width="2" height="2" fill="#38c896"/><rect x="701" y="1110" width="2" height="2" fill="#33c79c"/><rect x="703" y="1110" width="2" height="2" fill="#3ac994"/><rect x="705" y="1110" width="2" height="2" fill="#5fcd73"/><rect x="707" y="1110" width="2" height="2" fill="#65cd6e"/><rect x="709" y="1110" width="2" height="2" fill="#34c79c"/><rect x="713" y="1110" width="2" height="2" fill="#0fb2d5"/><rect x="715" y="1110" width="2" height="2" fill="#20a5e2"/><rect x="717" y="1110" width="2" height="2" fill="#05b6ce"/><rect x="721" y="1110" width="2" height="2" fill="#29c3aa"/><rect x="727" y="1110" width="2" height="2" fill="#2bc3a8"/><rect x="729" y="1110" width="2" height="2" fill="#37c897"/><rect x="731" y="1110" width="2" height="2" fill="#2fc5a3"/><rect x="733" y="1110" width="2" height="2" fill="#01b9c7"/><rect x="735" y="1110" width="2" height="2" fill="#0eb2d4"/><rect x="737" y="1110" width="2" height="2" fill="#12b1d6"/><rect x="739" y="1110" width="2" height="2" fill="#1caadf"/><rect x="741" y="1110" width="2" height="2" fill="#1da9e0"/><rect x="743" y="1110" width="2" height="2" fill="#06b5cf"/><rect x="749" y="1110" width="2" height="2" fill="#34c79c"/><rect x="751" y="1110" width="2" height="2" fill="#51cc7f"/><rect x="753" y="1110" width="2" height="2" fill="#3bc992"/><rect x="755" y="1110" width="2" height="2" fill="#2ac3a9"/><rect x="759" y="1110" width="2" height="2" fill="#32c69f"/><rect x="761" y="1110" width="2" height="2" fill="#35c79a"/><rect x="763" y="1110" width="2" height="2" fill="#29c3aa"/><rect x="687" y="1112" width="2" height="2" fill="#01b9c7"/><rect x="689" y="1112" width="2" height="2" fill="#01b8ca"/><rect x="691" y="1112" width="2" height="2" fill="#01b8c9"/><rect x="697" y="1112" width="2" height="2" fill="#29c3aa"/><rect x="705" y="1112" width="2" height="2" fill="#2ec5a4"/><rect x="707" y="1112" width="2" height="2" fill="#35c79a"/><rect x="709" y="1112" width="2" height="2" fill="#5ccc76"/><rect x="711" y="1112" width="2" height="2" fill="#76cc61"/><rect x="713" y="1112" width="2" height="2" fill="#2fc5a3"/><rect x="715" y="1112" width="2" height="2" fill="#09b4d1"/><rect x="717" y="1112" width="2" height="2" fill="#2698ea"/><rect x="719" y="1112" width="2" height="2" fill="#1aabdd"/><rect x="725" y="1112" width="2" height="2" fill="#2ec4a4"/><rect x="727" y="1112" width="2" height="2" fill="#2bc3a8"/><rect x="745" y="1112" width="2" height="2" fill="#2bc3a8"/><rect x="747" y="1112" width="2" height="2" fill="#2ec5a4"/><rect x="749" y="1112" width="2" height="2" fill="#2dc4a5"/><rect x="755" y="1112" width="2" height="2" fill="#28c3aa"/><rect x="757" y="1112" width="2" height="2" fill="#29c3aa"/><rect x="763" y="1112" width="2" height="2" fill="#01b8c9"/><rect x="765" y="1112" width="2" height="2" fill="#01b8c9"/><rect x="767" y="1112" width="2" height="2" fill="#02b7cb"/><rect x="769" y="1112" width="2" height="2" fill="#01b9c6"/><rect x="685" y="1114" width="2" height="2" fill="#28c3ab"/><rect x="687" y="1114" width="2" height="2" fill="#34c79c"/><rect x="689" y="1114" width="2" height="2" fill="#2ac3a9"/><rect x="711" y="1114" width="2" height="2" fill="#27c2ab"/><rect x="713" y="1114" width="2" height="2" fill="#29c3aa"/><rect x="719" y="1114" width="2" height="2" fill="#01b8c9"/><rect x="727" y="1114" width="2" height="2" fill="#02b7cb"/><rect x="733" y="1114" width="2" height="2" fill="#2cc4a7"/><rect x="737" y="1114" width="2" height="2" fill="#01b8ca"/><rect x="747" y="1114" width="2" height="2" fill="#05b6cd"/><rect x="749" y="1114" width="2" height="2" fill="#10b2d5"/><rect x="751" y="1114" width="2" height="2" fill="#05b6ce"/><rect x="767" y="1114" width="2" height="2" fill="#29c3aa"/><rect x="781" y="1114" width="2" height="2" fill="#02b7cb"/><rect x="673" y="1116" width="2" height="2" fill="#01b8c8"/><rect x="689" y="1116" width="2" height="2" fill="#01b8c9"/><rect x="691" y="1116" width="2" height="2" fill="#02b7cb"/><rect x="693" y="1116" width="2" height="2" fill="#01b8c9"/><rect x="695" y="1116" width="2" height="2" fill="#03b7cb"/><rect x="697" y="1116" width="2" height="2" fill="#01b8ca"/><rect x="713" y="1116" width="2" height="2" fill="#29c3aa"/><rect x="715" y="1116" width="2" height="2" fill="#2bc3a7"/><rect x="727" y="1116" width="2" height="2" fill="#07b5d0"/><rect x="729" y="1116" width="2" height="2" fill="#01b9c6"/><rect x="731" y="1116" width="2" height="2" fill="#01b8c8"/><rect x="733" y="1116" width="2" height="2" fill="#0cb3d3"/><rect x="735" y="1116" width="2" height="2" fill="#0bb3d2"/><rect x="737" y="1116" width="2" height="2" fill="#01b7ca"/><rect x="747" y="1116" width="2" height="2" fill="#01b9c6"/><rect x="751" y="1116" width="2" height="2" fill="#2dc4a5"/><rect x="753" y="1116" width="2" height="2" fill="#38c897"/><rect x="761" y="1116" width="2" height="2" fill="#29c3a9"/><rect x="689" y="1118" width="2" height="2" fill="#01b9c8"/><rect x="691" y="1118" width="2" height="2" fill="#11b1d6"/><rect x="693" y="1118" width="2" height="2" fill="#18addb"/><rect x="695" y="1118" width="2" height="2" fill="#1baade"/><rect x="697" y="1118" width="2" height="2" fill="#08b4d1"/><rect x="711" y="1118" width="2" height="2" fill="#03b7cc"/><rect x="713" y="1118" width="2" height="2" fill="#04b6cc"/><rect x="715" y="1118" width="2" height="2" fill="#02b7cb"/><rect x="725" y="1118" width="2" height="2" fill="#06b5ce"/><rect x="729" y="1118" width="2" height="2" fill="#35c79a"/><rect x="731" y="1118" width="2" height="2" fill="#84cc57"/><rect x="733" y="1118" width="2" height="2" fill="#3eca90"/><rect x="751" y="1118" width="2" height="2" fill="#3ac994"/><rect x="753" y="1118" width="2" height="2" fill="#50cc80"/><rect x="755" y="1118" width="2" height="2" fill="#2ec4a5"/><rect x="701" y="1120" width="2" height="2" fill="#01b9c6"/><rect x="725" y="1120" width="2" height="2" fill="#06b5cf"/><rect x="727" y="1120" width="2" height="2" fill="#1babde"/><rect x="729" y="1120" width="2" height="2" fill="#12b1d7"/><rect x="733" y="1120" width="2" height="2" fill="#2ac3a9"/><rect x="747" y="1120" width="2" height="2" fill="#29c3aa"/><rect x="749" y="1120" width="2" height="2" fill="#38c896"/><rect x="751" y="1120" width="2" height="2" fill="#2ac3a9"/><rect x="763" y="1120" width="2" height="2" fill="#2ec5a4"/><rect x="765" y="1120" width="2" height="2" fill="#32c69e"/><rect x="689" y="1122" width="2" height="2" fill="#01b9c6"/><rect x="691" y="1122" width="2" height="2" fill="#05b6ce"/><rect x="693" y="1122" width="2" height="2" fill="#01b9c6"/><rect x="703" y="1122" width="2" height="2" fill="#0db3d4"/><rect x="705" y="1122" width="2" height="2" fill="#249fe5"/><rect x="707" y="1122" width="2" height="2" fill="#1ea7e1"/><rect x="709" y="1122" width="2" height="2" fill="#01b8c9"/><rect x="775" y="1122" width="2" height="2" fill="#30c5a1"/><rect x="777" y="1122" width="2" height="2" fill="#32c69f"/><rect x="779" y="1122" width="2" height="2" fill="#27c2ab"/><rect x="685" y="1124" width="2" height="2" fill="#35c799"/><rect x="687" y="1124" width="2" height="2" fill="#39c895"/><rect x="713" y="1124" width="2" height="2" fill="#01b8ca"/><rect x="715" y="1124" width="2" height="2" fill="#06b6ce"/><rect x="721" y="1124" width="2" height="2" fill="#2dc4a6"/><rect x="745" y="1124" width="2" height="2" fill="#01b9c6"/><rect x="747" y="1124" width="2" height="2" fill="#0cb3d3"/><rect x="749" y="1124" width="2" height="2" fill="#17aedb"/><rect x="751" y="1124" width="2" height="2" fill="#11b2d5"/><rect x="757" y="1124" width="2" height="2" fill="#34c79b"/><rect x="759" y="1124" width="2" height="2" fill="#39c994"/><rect x="769" y="1124" width="2" height="2" fill="#28c2ab"/><rect x="719" y="1126" width="2" height="2" fill="#01b9c7"/><rect x="721" y="1126" width="2" height="2" fill="#05b6cd"/><rect x="723" y="1126" width="2" height="2" fill="#04b6cc"/><rect x="725" y="1126" width="2" height="2" fill="#01b8c9"/><rect x="735" y="1126" width="2" height="2" fill="#06b5cf"/><rect x="737" y="1126" width="2" height="2" fill="#01b9c7"/><rect x="745" y="1126" width="2" height="2" fill="#06b5cf"/><rect x="747" y="1126" width="2" height="2" fill="#12b1d7"/><rect x="749" y="1126" width="2" height="2" fill="#02b7cb"/><rect x="703" y="1128" width="2" height="2" fill="#27c2ab"/><rect x="705" y="1128" width="2" height="2" fill="#27c2ab"/><rect x="743" y="1128" width="2" height="2" fill="#06b5cf"/><rect x="745" y="1128" width="2" height="2" fill="#03b7cb"/><rect x="755" y="1128" width="2" height="2" fill="#02b7cb"/><rect x="661" y="1130" width="2" height="2" fill="#01b9c7"/><rect x="703" y="1130" width="2" height="2" fill="#0ab4d1"/><rect x="705" y="1130" width="2" height="2" fill="#12b1d6"/><rect x="731" y="1132" width="2" height="2" fill="#30c5a1"/><rect x="733" y="1132" width="2" height="2" fill="#31c6a0"/><rect x="735" y="1132" width="2" height="2" fill="#2cc4a6"/><rect x="737" y="1132" width="2" height="2" fill="#27c2ac"/><rect x="699" y="1134" width="2" height="2" fill="#01b9c8"/><rect x="675" y="1136" width="2" height="2" fill="#2bc3a8"/></g></g>
<rect x="863.0" y="88.0" width="26.00" height="252.60" fill="url(#lg_cb1)"/>
<rect x="863.0" y="518.0" width="26.00" height="252.00" fill="url(#lg_cb2)"/>
<rect x="862.6" y="950.0" width="26.40" height="250.00" fill="url(#lg_cb3)"/>
<path d="M269.10,88.0v2.7M269.10,340.6v-2.7M353.30,88.0v2.7M353.30,340.6v-2.7M437.50,88.0v2.7M437.50,340.6v-2.7M227.0,214.30h2.7M479.6,214.30h-2.7" stroke="#262626" stroke-width="1.5" fill="none"/>
<rect x="227.0" y="88.0" width="252.60" height="252.60" fill="none" stroke="#262626" stroke-width="2.0"/>
<path d="M639.98,88.0v2.7M639.98,340.6v-2.7M723.95,88.0v2.7M723.95,340.6v-2.7M807.92,88.0v2.7M807.92,340.6v-2.7M598.0,214.30h2.7M849.9,214.30h-2.7" stroke="#262626" stroke-width="1.5" fill="none"/>
<rect x="598.0" y="88.0" width="251.90" height="252.60" fill="none" stroke="#262626" stroke-width="2.0"/>
<path d="M269.13,518.0v2.7M269.13,770.0v-2.7M353.40,518.0v2.7M353.40,770.0v-2.7M437.67,518.0v2.7M437.67,770.0v-2.7M227.0,644.00h2.7M479.8,644.00h-2.7" stroke="#262626" stroke-width="1.5" fill="none"/>
<rect x="227.0" y="518.0" width="252.80" height="252.00" fill="none" stroke="#262626" stroke-width="2.0"/>
<path d="M639.98,518.0v2.7M639.98,770.0v-2.7M723.95,518.0v2.7M723.95,770.0v-2.7M807.92,518.0v2.7M807.92,770.0v-2.7M598.0,644.00h2.7M849.9,644.00h-2.7" stroke="#262626" stroke-width="1.5" fill="none"/>
<rect x="598.0" y="518.0" width="251.90" height="252.00" fill="none" stroke="#262626" stroke-width="2.0"/>
<path d="M270.17,950.0v2.7M270.17,1200.0v-2.7M353.30,950.0v2.7M353.30,1200.0v-2.7M436.43,950.0v2.7M436.43,1200.0v-2.7M228.6,1075.00h2.7M478.0,1075.00h-2.7" stroke="#262626" stroke-width="1.5" fill="none"/>
<rect x="228.6" y="950.0" width="249.40" height="250.00" fill="none" stroke="#262626" stroke-width="2.0"/>
<path d="M640.65,950.0v2.7M640.65,1200.0v-2.7M723.95,950.0v2.7M723.95,1200.0v-2.7M807.25,950.0v2.7M807.25,1200.0v-2.7M599.0,1075.00h2.7M848.9,1075.00h-2.7" stroke="#262626" stroke-width="1.5" fill="none"/>
<rect x="599.0" y="950.0" width="249.90" height="250.00" fill="none" stroke="#262626" stroke-width="2.0"/>
<path d="M889.0,214.30h-3.3" stroke="#262626" stroke-width="1.5" fill="none"/>
<rect x="863.0" y="88.0" width="26.00" height="252.60" fill="none" stroke="#262626" stroke-width="2"/>
<path d="M889.0,612.20h-3.3M889.0,705.00h-3.3" stroke="#262626" stroke-width="1.5" fill="none"/>
<rect x="863.0" y="518.0" width="26.00" height="252.00" fill="none" stroke="#262626" stroke-width="2"/>
<path d="M889.0,982.50h-3.3M889.0,1028.80h-3.3M889.0,1075.30h-3.3M889.0,1121.30h-3.3M889.0,1167.80h-3.3" stroke="#262626" stroke-width="1.5" fill="none"/>
<rect x="862.6" y="950.0" width="26.40" height="250.00" fill="none" stroke="#262626" stroke-width="2"/>
<path d="M1138.83,88.0V340.4M1242.50,88.0V340.4M1346.17,88.0V340.4M1087.0,289.92H1398.0M1087.0,239.44H1398.0M1087.0,188.96H1398.0M1087.0,138.48H1398.0" stroke="#dfdfdf" stroke-width="1.8" fill="none"/>
<path d="M1138.83,88.0v4.0M1138.83,340.4v-4.0M1242.50,88.0v4.0M1242.50,340.4v-4.0M1346.17,88.0v4.0M1346.17,340.4v-4.0M1087.0,289.92h4.0M1398.0,289.92h-4.0M1087.0,239.44h4.0M1398.0,239.44h-4.0M1087.0,188.96h4.0M1398.0,188.96h-4.0M1087.0,138.48h4.0M1398.0,138.48h-4.0" stroke="#262626" stroke-width="1.8" fill="none"/>
<rect x="1087.0" y="88.0" width="311.00" height="252.40" fill="none" stroke="#262626" stroke-width="2"/>
<path d="M1087.00,340.39L1087.52,340.39L1088.04,340.39L1088.56,340.39L1089.07,340.39L1089.59,340.39L1090.11,340.39L1090.63,340.39L1091.15,340.39L1091.66,340.39L1092.18,340.39L1092.70,340.38L1093.22,340.38L1093.74,340.38L1094.26,340.38L1094.78,340.38L1095.29,340.38L1095.81,340.38L1096.33,340.37L1096.85,340.37L1097.37,340.37L1097.88,340.37L1098.40,340.37L1098.92,340.36L1099.44,340.36L1099.96,340.36L1100.48,340.36L1100.99,340.35L1101.51,340.35L1102.03,340.35L1102.55,340.35L1103.07,340.34L1103.59,340.34L1104.11,340.33L1104.62,340.33L1105.14,340.33L1105.66,340.32L1106.18,340.32L1106.70,340.31L1107.21,340.30L1107.73,340.30L1108.25,340.29L1108.77,340.29L1109.29,340.28L1109.81,340.27L1110.33,340.26L1110.84,340.26L1111.36,340.25L1111.88,340.24L1112.40,340.23L1112.92,340.22L1113.43,340.21L1113.95,340.20L1114.47,340.18L1114.99,340.17L1115.51,340.16L1116.03,340.14L1116.55,340.13L1117.06,340.11L1117.58,340.10L1118.10,340.08L1118.62,340.06L1119.14,340.04L1119.65,340.02L1120.17,340.00L1120.69,339.98L1121.21,339.95L1121.73,339.93L1122.25,339.90L1122.77,339.88L1123.28,339.85L1123.80,339.82L1124.32,339.78L1124.84,339.75L1125.36,339.72L1125.88,339.68L1126.39,339.64L1126.91,339.60L1127.43,339.56L1127.95,339.51L1128.47,339.47L1128.99,339.42L1129.50,339.37L1130.02,339.32L1130.54,339.26L1131.06,339.20L1131.58,339.14L1132.10,339.08L1132.61,339.01L1133.13,338.94L1133.65,338.87L1134.17,338.79L1134.69,338.71L1135.20,338.63L1135.72,338.54L1136.24,338.45L1136.76,338.36L1137.28,338.26L1137.80,338.16L1138.32,338.05L1138.83,337.94L1139.35,337.82L1139.87,337.70L1140.39,337.57L1140.91,337.44L1141.42,337.30L1141.94,337.16L1142.46,337.01L1142.98,336.86L1143.50,336.70L1144.02,336.53L1144.54,336.36L1145.05,336.18L1145.57,335.99L1146.09,335.80L1146.61,335.59L1147.13,335.38L1147.64,335.17L1148.16,334.94L1148.68,334.71L1149.20,334.46L1149.72,334.21L1150.24,333.95L1150.76,333.68L1151.27,333.40L1151.79,333.11L1152.31,332.81L1152.83,332.50L1153.35,332.18L1153.87,331.84L1154.38,331.50L1154.90,331.14L1155.42,330.78L1155.94,330.39L1156.46,330.00L1156.97,329.60L1157.49,329.18L1158.01,328.74L1158.53,328.30L1159.05,327.84L1159.57,327.36L1160.09,326.87L1160.60,326.36L1161.12,325.84L1161.64,325.31L1162.16,324.75L1162.68,324.18L1163.19,323.60L1163.71,322.99L1164.23,322.37L1164.75,321.73L1165.27,321.07L1165.79,320.40L1166.31,319.70L1166.82,318.99L1167.34,318.26L1167.86,317.50L1168.38,316.73L1168.90,315.94L1169.41,315.12L1169.93,314.29L1170.45,313.43L1170.97,312.55L1171.49,311.65L1172.01,310.73L1172.53,309.78L1173.04,308.81L1173.56,307.82L1174.08,306.81L1174.60,305.77L1175.12,304.71L1175.63,303.62L1176.15,302.51L1176.67,301.37L1177.19,300.21L1177.71,299.03L1178.23,297.82L1178.74,296.59L1179.26,295.32L1179.78,294.04L1180.30,292.73L1180.82,291.39L1181.34,290.03L1181.86,288.64L1182.37,287.22L1182.89,285.78L1183.41,284.32L1183.93,282.82L1184.45,281.30L1184.96,279.76L1185.48,278.19L1186.00,276.59L1186.52,274.97L1187.04,273.32L1187.56,271.64L1188.08,269.95L1188.59,268.22L1189.11,266.47L1189.63,264.69L1190.15,262.89L1190.67,261.07L1191.18,259.22L1191.70,257.35L1192.22,255.45L1192.74,253.54L1193.26,251.59L1193.78,249.63L1194.30,247.64L1194.81,245.64L1195.33,243.61L1195.85,241.56L1196.37,239.49L1196.89,237.40L1197.40,235.29L1197.92,233.17L1198.44,231.02L1198.96,228.86L1199.48,226.69L1200.00,224.49L1200.52,222.29L1201.03,220.07L1201.55,217.83L1202.07,215.58L1202.59,213.32L1203.11,211.05L1203.62,208.77L1204.14,206.48L1204.66,204.19L1205.18,201.88L1205.70,199.57L1206.22,197.25L1206.73,194.93L1207.25,192.60L1207.77,190.28L1208.29,187.95L1208.81,185.62L1209.33,183.29L1209.85,180.96L1210.36,178.64L1210.88,176.32L1211.40,174.01L1211.92,171.70L1212.44,169.40L1212.95,167.11L1213.47,164.83L1213.99,162.56L1214.51,160.30L1215.03,158.06L1215.55,155.83L1216.07,153.61L1216.58,151.42L1217.10,149.24L1217.62,147.08L1218.14,144.94L1218.66,142.83L1219.17,140.74L1219.69,138.67L1220.21,136.63L1220.73,134.61L1221.25,132.63L1221.77,130.67L1222.29,128.74L1222.80,126.85L1223.32,124.99L1223.84,123.16L1224.36,121.36L1224.88,119.61L1225.39,117.89L1225.91,116.21L1226.43,114.57L1226.95,112.97L1227.47,111.41L1227.99,109.89L1228.51,108.42L1229.02,107.00L1229.54,105.61L1230.06,104.28L1230.58,102.99L1231.10,101.75L1231.62,100.56L1232.13,99.42L1232.65,98.33L1233.17,97.29L1233.69,96.30L1234.21,95.37L1234.72,94.49L1235.24,93.66L1235.76,92.89L1236.28,92.17L1236.80,91.51L1237.32,90.90L1237.84,90.36L1238.35,89.86L1238.87,89.43L1239.39,89.05L1239.91,88.73L1240.43,88.47L1240.94,88.26L1241.46,88.12L1241.98,88.03L1242.50,88.00L1243.02,88.03L1243.54,88.12L1244.06,88.26L1244.57,88.47L1245.09,88.73L1245.61,89.05L1246.13,89.43L1246.65,89.86L1247.16,90.36L1247.68,90.90L1248.20,91.51L1248.72,92.17L1249.24,92.89L1249.76,93.66L1250.28,94.49L1250.79,95.37L1251.31,96.30L1251.83,97.29L1252.35,98.33L1252.87,99.42L1253.38,100.56L1253.90,101.75L1254.42,102.99L1254.94,104.28L1255.46,105.61L1255.98,107.00L1256.49,108.42L1257.01,109.89L1257.53,111.41L1258.05,112.97L1258.57,114.57L1259.09,116.21L1259.61,117.89L1260.12,119.61L1260.64,121.36L1261.16,123.16L1261.68,124.99L1262.20,126.85L1262.71,128.74L1263.23,130.67L1263.75,132.63L1264.27,134.61L1264.79,136.63L1265.31,138.67L1265.83,140.74L1266.34,142.83L1266.86,144.94L1267.38,147.08L1267.90,149.24L1268.42,151.42L1268.93,153.61L1269.45,155.83L1269.97,158.06L1270.49,160.30L1271.01,162.56L1271.53,164.83L1272.05,167.11L1272.56,169.40L1273.08,171.70L1273.60,174.01L1274.12,176.32L1274.64,178.64L1275.15,180.96L1275.67,183.29L1276.19,185.62L1276.71,187.95L1277.23,190.28L1277.75,192.60L1278.26,194.93L1278.78,197.25L1279.30,199.57L1279.82,201.88L1280.34,204.19L1280.86,206.48L1281.38,208.77L1281.89,211.05L1282.41,213.32L1282.93,215.58L1283.45,217.83L1283.97,220.07L1284.49,222.29L1285.00,224.49L1285.52,226.69L1286.04,228.86L1286.56,231.02L1287.08,233.17L1287.60,235.29L1288.11,237.40L1288.63,239.49L1289.15,241.56L1289.67,243.61L1290.19,245.64L1290.70,247.64L1291.22,249.63L1291.74,251.59L1292.26,253.54L1292.78,255.45L1293.30,257.35L1293.82,259.22L1294.33,261.07L1294.85,262.89L1295.37,264.69L1295.89,266.47L1296.41,268.22L1296.92,269.95L1297.44,271.64L1297.96,273.32L1298.48,274.97L1299.00,276.59L1299.52,278.19L1300.04,279.76L1300.55,281.30L1301.07,282.82L1301.59,284.32L1302.11,285.78L1302.63,287.22L1303.14,288.64L1303.66,290.03L1304.18,291.39L1304.70,292.73L1305.22,294.04L1305.74,295.32L1306.26,296.59L1306.77,297.82L1307.29,299.03L1307.81,300.21L1308.33,301.37L1308.85,302.51L1309.37,303.62L1309.88,304.71L1310.40,305.77L1310.92,306.81L1311.44,307.82L1311.96,308.81L1312.47,309.78L1312.99,310.73L1313.51,311.65L1314.03,312.55L1314.55,313.43L1315.07,314.29L1315.59,315.12L1316.10,315.94L1316.62,316.73L1317.14,317.50L1317.66,318.26L1318.18,318.99L1318.69,319.70L1319.21,320.40L1319.73,321.07L1320.25,321.73L1320.77,322.37L1321.29,322.99L1321.81,323.60L1322.32,324.18L1322.84,324.75L1323.36,325.31L1323.88,325.84L1324.40,326.36L1324.91,326.87L1325.43,327.36L1325.95,327.84L1326.47,328.30L1326.99,328.74L1327.51,329.18L1328.03,329.60L1328.54,330.00L1329.06,330.39L1329.58,330.78L1330.10,331.14L1330.62,331.50L1331.13,331.84L1331.65,332.18L1332.17,332.50L1332.69,332.81L1333.21,333.11L1333.73,333.40L1334.24,333.68L1334.76,333.95L1335.28,334.21L1335.80,334.46L1336.32,334.71L1336.84,334.94L1337.36,335.17L1337.87,335.38L1338.39,335.59L1338.91,335.80L1339.43,335.99L1339.95,336.18L1340.47,336.36L1340.98,336.53L1341.50,336.70L1342.02,336.86L1342.54,337.01L1343.06,337.16L1343.58,337.30L1344.09,337.44L1344.61,337.57L1345.13,337.70L1345.65,337.82L1346.17,337.94L1346.68,338.05L1347.20,338.16L1347.72,338.26L1348.24,338.36L1348.76,338.45L1349.28,338.54L1349.80,338.63L1350.31,338.71L1350.83,338.79L1351.35,338.87L1351.87,338.94L1352.39,339.01L1352.90,339.08L1353.42,339.14L1353.94,339.20L1354.46,339.26L1354.98,339.32L1355.50,339.37L1356.02,339.42L1356.53,339.47L1357.05,339.51L1357.57,339.56L1358.09,339.60L1358.61,339.64L1359.12,339.68L1359.64,339.72L1360.16,339.75L1360.68,339.78L1361.20,339.82L1361.72,339.85L1362.24,339.88L1362.75,339.90L1363.27,339.93L1363.79,339.95L1364.31,339.98L1364.83,340.00L1365.35,340.02L1365.86,340.04L1366.38,340.06L1366.90,340.08L1367.42,340.10L1367.94,340.11L1368.45,340.13L1368.97,340.14L1369.49,340.16L1370.01,340.17L1370.53,340.18L1371.05,340.20L1371.57,340.21L1372.08,340.22L1372.60,340.23L1373.12,340.24L1373.64,340.25L1374.16,340.26L1374.67,340.26L1375.19,340.27L1375.71,340.28L1376.23,340.29L1376.75,340.29L1377.27,340.30L1377.79,340.30L1378.30,340.31L1378.82,340.32L1379.34,340.32L1379.86,340.33L1380.38,340.33L1380.89,340.33L1381.41,340.34L1381.93,340.34L1382.45,340.35L1382.97,340.35L1383.49,340.35L1384.01,340.35L1384.52,340.36L1385.04,340.36L1385.56,340.36L1386.08,340.36L1386.60,340.37L1387.12,340.37L1387.63,340.37L1388.15,340.37L1388.67,340.37L1389.19,340.38L1389.71,340.38L1390.22,340.38L1390.74,340.38L1391.26,340.38L1391.78,340.38L1392.30,340.38L1392.82,340.39L1393.34,340.39L1393.85,340.39L1394.37,340.39L1394.89,340.39L1395.41,340.39L1395.93,340.39L1396.44,340.39L1396.96,340.39L1397.48,340.39L1398.00,340.39" stroke="#d95319" stroke-width="2.2" fill="none" stroke-linejoin="round"/>
<path d="M1138.78,518.0V769.4M1242.35,518.0V769.4M1345.92,518.0V769.4M1087.0,742.12H1397.7M1087.0,704.23H1397.7M1087.0,666.34H1397.7M1087.0,628.45H1397.7M1087.0,590.56H1397.7M1087.0,552.67H1397.7" stroke="#dfdfdf" stroke-width="1.8" fill="none"/>
<path d="M1138.78,518.0v4.0M1138.78,769.4v-4.0M1242.35,518.0v4.0M1242.35,769.4v-4.0M1345.92,518.0v4.0M1345.92,769.4v-4.0M1087.0,742.12h4.0M1397.7,742.12h-4.0M1087.0,704.23h4.0M1397.7,704.23h-4.0M1087.0,666.34h4.0M1397.7,666.34h-4.0M1087.0,628.45h4.0M1397.7,628.45h-4.0M1087.0,590.56h4.0M1397.7,590.56h-4.0M1087.0,552.67h4.0M1397.7,552.67h-4.0" stroke="#262626" stroke-width="1.8" fill="none"/>
<rect x="1087.0" y="518.0" width="310.70" height="251.40" fill="none" stroke="#262626" stroke-width="2"/>
<path d="M1087.00,704.23L1087.26,704.23L1087.52,704.23L1087.78,704.23L1088.04,704.23L1088.29,704.23L1088.55,704.23L1088.81,704.23L1089.07,704.23L1089.33,704.23L1089.59,704.23L1089.85,704.23L1090.11,704.23L1090.37,704.23L1090.62,704.23L1090.88,704.23L1091.14,704.23L1091.40,704.23L1091.66,704.23L1091.92,704.23L1092.18,704.23L1092.44,704.23L1092.70,704.23L1092.96,704.23L1093.21,704.23L1093.47,704.23L1093.73,704.23L1093.99,704.23L1094.25,704.23L1094.51,704.23L1094.77,704.23L1095.03,704.23L1095.29,704.23L1095.54,704.23L1095.80,704.23L1096.06,704.23L1096.32,704.23L1096.58,704.23L1096.84,704.23L1097.10,704.23L1097.36,704.23L1097.62,704.23L1097.87,704.23L1098.13,704.23L1098.39,704.23L1098.65,704.23L1098.91,704.23L1099.17,704.23L1099.43,704.23L1099.69,704.23L1099.95,704.23L1100.20,704.23L1100.46,704.23L1100.72,704.23L1100.98,704.23L1101.24,704.24L1101.50,704.24L1101.76,704.24L1102.02,704.24L1102.28,704.24L1102.54,704.24L1102.79,704.24L1103.05,704.24L1103.31,704.24L1103.57,704.24L1103.83,704.24L1104.09,704.24L1104.35,704.24L1104.61,704.24L1104.87,704.24L1105.12,704.24L1105.38,704.24L1105.64,704.24L1105.90,704.24L1106.16,704.24L1106.42,704.24L1106.68,704.24L1106.94,704.24L1107.20,704.24L1107.45,704.24L1107.71,704.24L1107.97,704.24L1108.23,704.23L1108.49,704.23L1108.75,704.23L1109.01,704.23L1109.27,704.23L1109.53,704.23L1109.78,704.23L1110.04,704.23L1110.30,704.23L1110.56,704.23L1110.82,704.23L1111.08,704.23L1111.34,704.22L1111.60,704.22L1111.86,704.22L1112.11,704.22L1112.37,704.22L1112.63,704.22L1112.89,704.22L1113.15,704.21L1113.41,704.21L1113.67,704.21L1113.93,704.21L1114.19,704.21L1114.45,704.21L1114.70,704.21L1114.96,704.20L1115.22,704.20L1115.48,704.20L1115.74,704.20L1116.00,704.20L1116.26,704.20L1116.52,704.19L1116.78,704.19L1117.03,704.19L1117.29,704.19L1117.55,704.19L1117.81,704.19L1118.07,704.19L1118.33,704.19L1118.59,704.18L1118.85,704.18L1119.11,704.18L1119.36,704.18L1119.62,704.18L1119.88,704.18L1120.14,704.18L1120.40,704.18L1120.66,704.18L1120.92,704.18L1121.18,704.18L1121.44,704.19L1121.69,704.19L1121.95,704.19L1122.21,704.19L1122.47,704.19L1122.73,704.19L1122.99,704.20L1123.25,704.20L1123.51,704.20L1123.77,704.21L1124.03,704.21L1124.28,704.21L1124.54,704.22L1124.80,704.22L1125.06,704.23L1125.32,704.23L1125.58,704.24L1125.84,704.24L1126.10,704.25L1126.36,704.25L1126.61,704.26L1126.87,704.27L1127.13,704.27L1127.39,704.28L1127.65,704.29L1127.91,704.29L1128.17,704.30L1128.43,704.31L1128.69,704.32L1128.94,704.32L1129.20,704.33L1129.46,704.34L1129.72,704.35L1129.98,704.35L1130.24,704.36L1130.50,704.37L1130.76,704.38L1131.02,704.38L1131.27,704.39L1131.53,704.40L1131.79,704.40L1132.05,704.41L1132.31,704.42L1132.57,704.42L1132.83,704.43L1133.09,704.43L1133.35,704.43L1133.61,704.44L1133.86,704.44L1134.12,704.44L1134.38,704.44L1134.64,704.45L1134.90,704.45L1135.16,704.45L1135.42,704.44L1135.68,704.44L1135.94,704.44L1136.19,704.43L1136.45,704.43L1136.71,704.42L1136.97,704.42L1137.23,704.41L1137.49,704.40L1137.75,704.39L1138.01,704.38L1138.27,704.37L1138.52,704.35L1138.78,704.34L1139.04,704.32L1139.30,704.31L1139.56,704.29L1139.82,704.27L1140.08,704.25L1140.34,704.23L1140.60,704.21L1140.85,704.18L1141.11,704.16L1141.37,704.13L1141.63,704.11L1141.89,704.08L1142.15,704.05L1142.41,704.03L1142.67,704.00L1142.93,703.97L1143.18,703.94L1143.44,703.91L1143.70,703.88L1143.96,703.85L1144.22,703.82L1144.48,703.79L1144.74,703.76L1145.00,703.73L1145.26,703.70L1145.52,703.67L1145.77,703.64L1146.03,703.61L1146.29,703.59L1146.55,703.56L1146.81,703.54L1147.07,703.51L1147.33,703.49L1147.59,703.47L1147.85,703.45L1148.10,703.44L1148.36,703.42L1148.62,703.41L1148.88,703.40L1149.14,703.39L1149.40,703.39L1149.66,703.39L1149.92,703.39L1150.18,703.39L1150.43,703.40L1150.69,703.41L1150.95,703.42L1151.21,703.44L1151.47,703.46L1151.73,703.48L1151.99,703.51L1152.25,703.54L1152.51,703.58L1152.76,703.62L1153.02,703.66L1153.28,703.71L1153.54,703.76L1153.80,703.81L1154.06,703.87L1154.32,703.93L1154.58,703.99L1154.84,704.06L1155.10,704.13L1155.35,704.21L1155.61,704.29L1155.87,704.37L1156.13,704.45L1156.39,704.54L1156.65,704.63L1156.91,704.72L1157.17,704.82L1157.43,704.91L1157.68,705.01L1157.94,705.11L1158.20,705.21L1158.46,705.31L1158.72,705.41L1158.98,705.52L1159.24,705.62L1159.50,705.72L1159.76,705.82L1160.01,705.92L1160.27,706.01L1160.53,706.11L1160.79,706.20L1161.05,706.29L1161.31,706.37L1161.57,706.45L1161.83,706.53L1162.09,706.60L1162.34,706.67L1162.60,706.73L1162.86,706.78L1163.12,706.83L1163.38,706.87L1163.64,706.91L1163.90,706.94L1164.16,706.95L1164.42,706.96L1164.67,706.97L1164.93,706.96L1165.19,706.94L1165.45,706.91L1165.71,706.88L1165.97,706.83L1166.23,706.77L1166.49,706.70L1166.75,706.62L1167.01,706.53L1167.26,706.43L1167.52,706.32L1167.78,706.20L1168.04,706.06L1168.30,705.91L1168.56,705.76L1168.82,705.59L1169.08,705.41L1169.34,705.22L1169.59,705.02L1169.85,704.82L1170.11,704.60L1170.37,704.37L1170.63,704.13L1170.89,703.89L1171.15,703.64L1171.41,703.38L1171.67,703.12L1171.92,702.85L1172.18,702.57L1172.44,702.29L1172.70,702.01L1172.96,701.72L1173.22,701.44L1173.48,701.15L1173.74,700.86L1174.00,700.57L1174.25,700.29L1174.51,700.01L1174.77,699.73L1175.03,699.46L1175.29,699.19L1175.55,698.94L1175.81,698.69L1176.07,698.45L1176.33,698.22L1176.59,698.01L1176.84,697.80L1177.10,697.61L1177.36,697.44L1177.62,697.28L1177.88,697.14L1178.14,697.02L1178.40,696.92L1178.66,696.84L1178.92,696.78L1179.17,696.74L1179.43,696.73L1179.69,696.74L1179.95,696.78L1180.21,696.84L1180.47,696.92L1180.73,697.03L1180.99,697.17L1181.25,697.34L1181.50,697.53L1181.76,697.76L1182.02,698.01L1182.28,698.28L1182.54,698.59L1182.80,698.92L1183.06,699.28L1183.32,699.67L1183.58,700.09L1183.83,700.53L1184.09,700.99L1184.35,701.48L1184.61,702.00L1184.87,702.54L1185.13,703.09L1185.39,703.67L1185.65,704.27L1185.91,704.89L1186.17,705.52L1186.42,706.17L1186.68,706.83L1186.94,707.50L1187.20,708.18L1187.46,708.87L1187.72,709.56L1187.98,710.26L1188.24,710.95L1188.50,711.65L1188.75,712.34L1189.01,713.03L1189.27,713.71L1189.53,714.37L1189.79,715.03L1190.05,715.66L1190.31,716.28L1190.57,716.88L1190.83,717.46L1191.08,718.01L1191.34,718.53L1191.60,719.02L1191.86,719.47L1192.12,719.89L1192.38,720.27L1192.64,720.62L1192.90,720.91L1193.16,721.17L1193.41,721.38L1193.67,721.54L1193.93,721.64L1194.19,721.70L1194.45,721.70L1194.71,721.65L1194.97,721.54L1195.23,721.37L1195.49,721.15L1195.74,720.86L1196.00,720.52L1196.26,720.11L1196.52,719.65L1196.78,719.12L1197.04,718.54L1197.30,717.89L1197.56,717.18L1197.82,716.42L1198.08,715.59L1198.33,714.71L1198.59,713.77L1198.85,712.78L1199.11,711.74L1199.37,710.65L1199.63,709.51L1199.89,708.32L1200.15,707.10L1200.41,705.83L1200.66,704.53L1200.92,703.19L1201.18,701.82L1201.44,700.43L1201.70,699.02L1201.96,697.58L1202.22,696.13L1202.48,694.68L1202.74,693.21L1202.99,691.75L1203.25,690.29L1203.51,688.84L1203.77,687.40L1204.03,685.98L1204.29,684.58L1204.55,683.21L1204.81,681.87L1205.07,680.57L1205.32,679.31L1205.58,678.11L1205.84,676.95L1206.10,675.85L1206.36,674.82L1206.62,673.85L1206.88,672.96L1207.14,672.14L1207.40,671.40L1207.66,670.74L1207.91,670.18L1208.17,669.71L1208.43,669.33L1208.69,669.06L1208.95,668.88L1209.21,668.82L1209.47,668.86L1209.73,669.01L1209.99,669.27L1210.24,669.65L1210.50,670.14L1210.76,670.75L1211.02,671.48L1211.28,672.32L1211.54,673.28L1211.80,674.36L1212.06,675.56L1212.32,676.86L1212.57,678.29L1212.83,679.82L1213.09,681.46L1213.35,683.21L1213.61,685.07L1213.87,687.02L1214.13,689.07L1214.39,691.20L1214.65,693.43L1214.90,695.74L1215.16,698.12L1215.42,700.57L1215.68,703.09L1215.94,705.67L1216.20,708.30L1216.46,710.97L1216.72,713.68L1216.98,716.42L1217.24,719.17L1217.49,721.95L1217.75,724.73L1218.01,727.50L1218.27,730.27L1218.53,733.01L1218.79,735.73L1219.05,738.40L1219.31,741.03L1219.57,743.60L1219.82,746.11L1220.08,748.54L1220.34,750.90L1220.60,753.15L1220.86,755.31L1221.12,757.36L1221.38,759.29L1221.64,761.09L1221.90,762.76L1222.15,764.28L1222.41,765.65L1222.67,766.87L1222.93,767.92L1223.19,768.80L1223.45,769.40L1223.71,769.40L1223.97,769.40L1224.23,769.40L1224.48,769.40L1224.74,769.40L1225.00,769.40L1225.26,768.97L1225.52,768.07L1225.78,766.95L1226.04,765.61L1226.30,764.05L1226.56,762.28L1226.82,760.28L1227.07,758.07L1227.33,755.63L1227.59,752.99L1227.85,750.12L1228.11,747.05L1228.37,743.77L1228.63,740.29L1228.89,736.61L1229.15,732.74L1229.40,728.68L1229.66,724.44L1229.92,720.03L1230.18,715.45L1230.44,710.72L1230.70,705.83L1230.96,700.80L1231.22,695.65L1231.48,690.37L1231.73,684.98L1231.99,679.49L1232.25,673.92L1232.51,668.26L1232.77,662.54L1233.03,656.77L1233.29,650.95L1233.55,645.10L1233.81,639.24L1234.06,633.38L1234.32,627.52L1234.58,621.69L1234.84,615.89L1235.10,610.13L1235.36,604.44L1235.62,598.83L1235.88,593.30L1236.14,587.86L1236.39,582.54L1236.65,577.35L1236.91,572.29L1237.17,567.38L1237.43,562.63L1237.69,558.05L1237.95,553.65L1238.21,549.44L1238.47,545.44L1238.73,541.64L1238.98,538.07L1239.24,534.72L1239.50,531.62L1239.76,528.75L1240.02,526.14L1240.28,523.79L1240.54,521.70L1240.80,519.88L1241.06,518.33L1241.31,518.00L1241.57,518.00L1241.83,518.00L1242.09,518.00L1242.35,518.00L1242.61,518.00L1242.87,518.00L1243.13,518.00L1243.39,518.00L1243.64,518.33L1243.90,519.88L1244.16,521.70L1244.42,523.79L1244.68,526.14L1244.94,528.75L1245.20,531.62L1245.46,534.72L1245.72,538.07L1245.97,541.64L1246.23,545.44L1246.49,549.44L1246.75,553.65L1247.01,558.05L1247.27,562.63L1247.53,567.38L1247.79,572.29L1248.05,577.35L1248.31,582.54L1248.56,587.86L1248.82,593.30L1249.08,598.83L1249.34,604.44L1249.60,610.13L1249.86,615.89L1250.12,621.69L1250.38,627.52L1250.64,633.38L1250.89,639.24L1251.15,645.10L1251.41,650.95L1251.67,656.77L1251.93,662.54L1252.19,668.26L1252.45,673.92L1252.71,679.49L1252.97,684.98L1253.22,690.37L1253.48,695.65L1253.74,700.80L1254.00,705.83L1254.26,710.72L1254.52,715.45L1254.78,720.03L1255.04,724.44L1255.30,728.68L1255.55,732.74L1255.81,736.61L1256.07,740.29L1256.33,743.77L1256.59,747.05L1256.85,750.12L1257.11,752.99L1257.37,755.63L1257.63,758.07L1257.88,760.28L1258.14,762.28L1258.40,764.05L1258.66,765.61L1258.92,766.95L1259.18,768.07L1259.44,768.97L1259.70,769.40L1259.96,769.40L1260.22,769.40L1260.47,769.40L1260.73,769.40L1260.99,769.40L1261.25,769.40L1261.51,768.80L1261.77,767.92L1262.03,766.87L1262.29,765.65L1262.55,764.28L1262.80,762.76L1263.06,761.09L1263.32,759.29L1263.58,757.36L1263.84,755.31L1264.10,753.15L1264.36,750.90L1264.62,748.54L1264.88,746.11L1265.13,743.60L1265.39,741.03L1265.65,738.40L1265.91,735.73L1266.17,733.01L1266.43,730.27L1266.69,727.50L1266.95,724.73L1267.21,721.95L1267.46,719.17L1267.72,716.42L1267.98,713.68L1268.24,710.97L1268.50,708.30L1268.76,705.67L1269.02,703.09L1269.28,700.57L1269.54,698.12L1269.80,695.74L1270.05,693.43L1270.31,691.20L1270.57,689.07L1270.83,687.02L1271.09,685.07L1271.35,683.21L1271.61,681.46L1271.87,679.82L1272.13,678.29L1272.38,676.86L1272.64,675.56L1272.90,674.36L1273.16,673.28L1273.42,672.32L1273.68,671.48L1273.94,670.75L1274.20,670.14L1274.46,669.65L1274.71,669.27L1274.97,669.01L1275.23,668.86L1275.49,668.82L1275.75,668.88L1276.01,669.06L1276.27,669.33L1276.53,669.71L1276.79,670.18L1277.04,670.74L1277.30,671.40L1277.56,672.14L1277.82,672.96L1278.08,673.85L1278.34,674.82L1278.60,675.85L1278.86,676.95L1279.12,678.11L1279.38,679.31L1279.63,680.57L1279.89,681.87L1280.15,683.21L1280.41,684.58L1280.67,685.98L1280.93,687.40L1281.19,688.84L1281.45,690.29L1281.71,691.75L1281.96,693.21L1282.22,694.68L1282.48,696.13L1282.74,697.58L1283.00,699.02L1283.26,700.43L1283.52,701.82L1283.78,703.19L1284.04,704.53L1284.29,705.83L1284.55,707.10L1284.81,708.32L1285.07,709.51L1285.33,710.65L1285.59,711.74L1285.85,712.78L1286.11,713.77L1286.37,714.71L1286.62,715.59L1286.88,716.42L1287.14,717.18L1287.40,717.89L1287.66,718.54L1287.92,719.12L1288.18,719.65L1288.44,720.11L1288.70,720.52L1288.95,720.86L1289.21,721.15L1289.47,721.37L1289.73,721.54L1289.99,721.65L1290.25,721.70L1290.51,721.70L1290.77,721.64L1291.03,721.54L1291.29,721.38L1291.54,721.17L1291.80,720.91L1292.06,720.62L1292.32,720.27L1292.58,719.89L1292.84,719.47L1293.10,719.02L1293.36,718.53L1293.62,718.01L1293.87,717.46L1294.13,716.88L1294.39,716.28L1294.65,715.66L1294.91,715.03L1295.17,714.37L1295.43,713.71L1295.69,713.03L1295.95,712.34L1296.20,711.65L1296.46,710.95L1296.72,710.26L1296.98,709.56L1297.24,708.87L1297.50,708.18L1297.76,707.50L1298.02,706.83L1298.28,706.17L1298.53,705.52L1298.79,704.89L1299.05,704.27L1299.31,703.67L1299.57,703.09L1299.83,702.54L1300.09,702.00L1300.35,701.48L1300.61,700.99L1300.87,700.53L1301.12,700.09L1301.38,699.67L1301.64,699.28L1301.90,698.92L1302.16,698.59L1302.42,698.28L1302.68,698.01L1302.94,697.76L1303.20,697.53L1303.45,697.34L1303.71,697.17L1303.97,697.03L1304.23,696.92L1304.49,696.84L1304.75,696.78L1305.01,696.74L1305.27,696.73L1305.53,696.74L1305.78,696.78L1306.04,696.84L1306.30,696.92L1306.56,697.02L1306.82,697.14L1307.08,697.28L1307.34,697.44L1307.60,697.61L1307.86,697.80L1308.11,698.01L1308.37,698.22L1308.63,698.45L1308.89,698.69L1309.15,698.94L1309.41,699.19L1309.67,699.46L1309.93,699.73L1310.19,700.01L1310.45,700.29L1310.70,700.57L1310.96,700.86L1311.22,701.15L1311.48,701.44L1311.74,701.72L1312.00,702.01L1312.26,702.29L1312.52,702.57L1312.78,702.85L1313.03,703.12L1313.29,703.38L1313.55,703.64L1313.81,703.89L1314.07,704.13L1314.33,704.37L1314.59,704.60L1314.85,704.82L1315.11,705.02L1315.36,705.22L1315.62,705.41L1315.88,705.59L1316.14,705.76L1316.40,705.91L1316.66,706.06L1316.92,706.20L1317.18,706.32L1317.44,706.43L1317.69,706.53L1317.95,706.62L1318.21,706.70L1318.47,706.77L1318.73,706.83L1318.99,706.88L1319.25,706.91L1319.51,706.94L1319.77,706.96L1320.03,706.97L1320.28,706.96L1320.54,706.95L1320.80,706.94L1321.06,706.91L1321.32,706.87L1321.58,706.83L1321.84,706.78L1322.10,706.73L1322.36,706.67L1322.61,706.60L1322.87,706.53L1323.13,706.45L1323.39,706.37L1323.65,706.29L1323.91,706.20L1324.17,706.11L1324.43,706.01L1324.69,705.92L1324.94,705.82L1325.20,705.72L1325.46,705.62L1325.72,705.52L1325.98,705.41L1326.24,705.31L1326.50,705.21L1326.76,705.11L1327.02,705.01L1327.27,704.91L1327.53,704.82L1327.79,704.72L1328.05,704.63L1328.31,704.54L1328.57,704.45L1328.83,704.37L1329.09,704.29L1329.35,704.21L1329.60,704.13L1329.86,704.06L1330.12,703.99L1330.38,703.93L1330.64,703.87L1330.90,703.81L1331.16,703.76L1331.42,703.71L1331.68,703.66L1331.94,703.62L1332.19,703.58L1332.45,703.54L1332.71,703.51L1332.97,703.48L1333.23,703.46L1333.49,703.44L1333.75,703.42L1334.01,703.41L1334.27,703.40L1334.52,703.39L1334.78,703.39L1335.04,703.39L1335.30,703.39L1335.56,703.39L1335.82,703.40L1336.08,703.41L1336.34,703.42L1336.60,703.44L1336.85,703.45L1337.11,703.47L1337.37,703.49L1337.63,703.51L1337.89,703.54L1338.15,703.56L1338.41,703.59L1338.67,703.61L1338.93,703.64L1339.18,703.67L1339.44,703.70L1339.70,703.73L1339.96,703.76L1340.22,703.79L1340.48,703.82L1340.74,703.85L1341.00,703.88L1341.26,703.91L1341.52,703.94L1341.77,703.97L1342.03,704.00L1342.29,704.03L1342.55,704.05L1342.81,704.08L1343.07,704.11L1343.33,704.13L1343.59,704.16L1343.85,704.18L1344.10,704.21L1344.36,704.23L1344.62,704.25L1344.88,704.27L1345.14,704.29L1345.40,704.31L1345.66,704.32L1345.92,704.34L1346.18,704.35L1346.43,704.37L1346.69,704.38L1346.95,704.39L1347.21,704.40L1347.47,704.41L1347.73,704.42L1347.99,704.42L1348.25,704.43L1348.51,704.43L1348.76,704.44L1349.02,704.44L1349.28,704.44L1349.54,704.45L1349.80,704.45L1350.06,704.45L1350.32,704.44L1350.58,704.44L1350.84,704.44L1351.10,704.44L1351.35,704.43L1351.61,704.43L1351.87,704.43L1352.13,704.42L1352.39,704.42L1352.65,704.41L1352.91,704.40L1353.17,704.40L1353.43,704.39L1353.68,704.38L1353.94,704.38L1354.20,704.37L1354.46,704.36L1354.72,704.35L1354.98,704.35L1355.24,704.34L1355.50,704.33L1355.76,704.32L1356.01,704.32L1356.27,704.31L1356.53,704.30L1356.79,704.29L1357.05,704.29L1357.31,704.28L1357.57,704.27L1357.83,704.27L1358.09,704.26L1358.34,704.25L1358.60,704.25L1358.86,704.24L1359.12,704.24L1359.38,704.23L1359.64,704.23L1359.90,704.22L1360.16,704.22L1360.42,704.21L1360.67,704.21L1360.93,704.21L1361.19,704.20L1361.45,704.20L1361.71,704.20L1361.97,704.19L1362.23,704.19L1362.49,704.19L1362.75,704.19L1363.01,704.19L1363.26,704.19L1363.52,704.18L1363.78,704.18L1364.04,704.18L1364.30,704.18L1364.56,704.18L1364.82,704.18L1365.08,704.18L1365.34,704.18L1365.59,704.18L1365.85,704.18L1366.11,704.18L1366.37,704.19L1366.63,704.19L1366.89,704.19L1367.15,704.19L1367.41,704.19L1367.67,704.19L1367.92,704.19L1368.18,704.19L1368.44,704.20L1368.70,704.20L1368.96,704.20L1369.22,704.20L1369.48,704.20L1369.74,704.20L1370.00,704.21L1370.25,704.21L1370.51,704.21L1370.77,704.21L1371.03,704.21L1371.29,704.21L1371.55,704.21L1371.81,704.22L1372.07,704.22L1372.33,704.22L1372.59,704.22L1372.84,704.22L1373.10,704.22L1373.36,704.22L1373.62,704.23L1373.88,704.23L1374.14,704.23L1374.40,704.23L1374.66,704.23L1374.92,704.23L1375.17,704.23L1375.43,704.23L1375.69,704.23L1375.95,704.23L1376.21,704.23L1376.47,704.23L1376.73,704.24L1376.99,704.24L1377.25,704.24L1377.50,704.24L1377.76,704.24L1378.02,704.24L1378.28,704.24L1378.54,704.24L1378.80,704.24L1379.06,704.24L1379.32,704.24L1379.58,704.24L1379.83,704.24L1380.09,704.24L1380.35,704.24L1380.61,704.24L1380.87,704.24L1381.13,704.24L1381.39,704.24L1381.65,704.24L1381.91,704.24L1382.16,704.24L1382.42,704.24L1382.68,704.24L1382.94,704.24L1383.20,704.24L1383.46,704.24L1383.72,704.23L1383.98,704.23L1384.24,704.23L1384.50,704.23L1384.75,704.23L1385.01,704.23L1385.27,704.23L1385.53,704.23L1385.79,704.23L1386.05,704.23L1386.31,704.23L1386.57,704.23L1386.83,704.23L1387.08,704.23L1387.34,704.23L1387.60,704.23L1387.86,704.23L1388.12,704.23L1388.38,704.23L1388.64,704.23L1388.90,704.23L1389.16,704.23L1389.41,704.23L1389.67,704.23L1389.93,704.23L1390.19,704.23L1390.45,704.23L1390.71,704.23L1390.97,704.23L1391.23,704.23L1391.49,704.23L1391.74,704.23L1392.00,704.23L1392.26,704.23L1392.52,704.23L1392.78,704.23L1393.04,704.23L1393.30,704.23L1393.56,704.23L1393.82,704.23L1394.08,704.23L1394.33,704.23L1394.59,704.23L1394.85,704.23L1395.11,704.23L1395.37,704.23L1395.63,704.23L1395.89,704.23L1396.15,704.23L1396.41,704.23L1396.66,704.23L1396.92,704.23L1397.18,704.23L1397.44,704.23L1397.70,704.23" stroke="#d95319" stroke-width="2.2" fill="none" stroke-linejoin="round"/>
<path d="M1138.83,950.3V1199.9M1242.50,950.3V1199.9M1346.17,950.3V1199.9M1087.0,1172.47H1398.0M1087.0,1103.90H1398.0M1087.0,1035.33H1398.0M1087.0,966.76H1398.0" stroke="#dfdfdf" stroke-width="1.8" fill="none"/>
<path d="M1138.83,950.3v4.0M1138.83,1199.9v-4.0M1242.50,950.3v4.0M1242.50,1199.9v-4.0M1346.17,950.3v4.0M1346.17,1199.9v-4.0M1087.0,1172.47h4.0M1398.0,1172.47h-4.0M1087.0,1103.90h4.0M1398.0,1103.90h-4.0M1087.0,1035.33h4.0M1398.0,1035.33h-4.0M1087.0,966.76h4.0M1398.0,966.76h-4.0" stroke="#262626" stroke-width="1.8" fill="none"/>
<rect x="1087.0" y="950.3" width="311.00" height="249.60" fill="none" stroke="#262626" stroke-width="2"/>
<path d="M1088.0,1035.33H1397.0" stroke="#0072bd" stroke-width="2.2"/>
<path d="M1087.00,1035.30L1100.00,1035.80L1115.00,1035.00L1130.00,1035.60L1140.00,1034.40L1144.00,1037.80L1147.00,1035.00L1150.00,1036.00L1153.90,1033.50L1157.90,1032.10L1159.80,1034.90L1161.80,1032.50L1165.70,1046.30L1167.30,1047.20L1170.20,1023.10L1172.00,1046.70L1173.60,1029.60L1175.10,1038.40L1177.10,1028.60L1180.50,1042.30L1182.40,1040.80L1183.80,1023.70L1186.00,1040.40L1187.70,1020.70L1189.30,1022.70L1191.30,1032.50L1194.20,1022.70L1196.20,1046.30L1197.70,999.10L1199.50,1045.30L1201.50,974.00L1203.40,1019.70L1207.00,1028.60L1208.90,1043.30L1210.50,1044.30L1212.90,1082.40L1214.90,1053.90L1216.90,1060.80L1218.20,1021.60L1219.80,1046.10L1223.30,1013.70L1228.60,1204.00L1232.20,1051.00L1235.50,1087.30L1237.50,1000.00L1239.00,1046.00L1241.40,1034.30L1243.70,1046.00L1245.90,1000.00L1247.60,1086.30L1251.20,1051.00L1255.50,1204.00L1258.00,945.00L1259.00,1012.70L1261.40,1022.50L1262.90,1053.50L1264.90,1021.60L1266.50,1030.40L1268.40,993.10L1270.50,1000.10L1272.40,1030.60L1276.90,1052.20L1278.90,989.30L1280.90,985.40L1283.60,1091.10L1285.60,999.10L1287.20,1046.30L1289.10,1022.70L1294.00,1035.50L1297.40,1069.80L1299.30,1002.10L1302.90,1062.00L1306.40,1025.60L1308.40,1039.40L1311.70,1046.30L1314.70,1019.70L1318.20,1047.20L1320.20,1028.60L1322.50,1034.90L1326.40,1032.10L1331.40,1036.80L1334.30,1034.10L1340.00,1036.00L1350.00,1035.20L1365.00,1035.60L1380.00,1035.10L1398.00,1035.40" stroke="#d95319" stroke-width="2.2" fill="none" stroke-linejoin="round" clip-path="url(#clip_i)"/>
<text x="249.82" y="369.70" font-size="29">-10</text>
<text x="346.05" y="369.70" font-size="29">0</text>
<text x="422.35" y="369.70" font-size="29">10</text>
<text x="198.14" y="95.40" font-size="29">-5</text>
<text x="207.86" y="221.50" font-size="29">0</text>
<text x="207.86" y="347.70" font-size="29">5</text>
<text x="316.13" y="404.20" font-size="34" font-style="italic">t</text>
<text x="339.12" y="404.20" font-size="32">(ps)</text>
<g transform="translate(185.20 214.30) rotate(-90)"><text x="-49.28" y="0.00" font-size="33" font-style="italic">x</text><text x="-21.80" y="0.00" font-size="32">(mm)</text></g>
<text x="620.70" y="369.70" font-size="29">-10</text>
<text x="716.70" y="369.70" font-size="29">0</text>
<text x="792.76" y="369.70" font-size="29">10</text>
<text x="569.15" y="95.40" font-size="29">-5</text>
<text x="578.86" y="221.50" font-size="29">0</text>
<text x="578.86" y="347.70" font-size="29">5</text>
<text x="686.79" y="404.20" font-size="34" font-style="italic">t</text>
<text x="709.77" y="404.20" font-size="32">(ps)</text>
<g transform="translate(556.20 214.30) rotate(-90)"><text x="-49.28" y="0.00" font-size="33" font-style="italic">x</text><text x="-21.80" y="0.00" font-size="32">(mm)</text></g>
<text x="249.85" y="799.60" font-size="29">-10</text>
<text x="346.15" y="799.60" font-size="29">0</text>
<text x="422.51" y="799.60" font-size="29">10</text>
<text x="198.14" y="525.30" font-size="29">-5</text>
<text x="207.86" y="652.00" font-size="29">0</text>
<text x="207.86" y="778.30" font-size="29">5</text>
<text x="310.53" y="834.00" font-size="34" font-style="italic">t</text>
<text x="321.29" y="838.90" font-size="21">1</text>
<text x="344.92" y="834.00" font-size="32">(ps)</text>
<g transform="translate(185.10 644.00) rotate(-90)"><text x="-53.73" y="0.00" font-size="33" font-style="italic">x</text><text x="-39.26" y="3.60" font-size="19">2</text><text x="-15.75" y="0.00" font-size="32">(mm)</text></g>
<text x="620.70" y="799.60" font-size="29">-10</text>
<text x="716.70" y="799.60" font-size="29">0</text>
<text x="792.76" y="799.60" font-size="29">10</text>
<text x="569.15" y="525.30" font-size="29">-5</text>
<text x="578.86" y="652.00" font-size="29">0</text>
<text x="578.86" y="778.30" font-size="29">5</text>
<text x="681.09" y="834.00" font-size="34" font-style="italic">t</text>
<text x="691.84" y="838.90" font-size="21">1</text>
<text x="715.47" y="834.00" font-size="32">(ps)</text>
<g transform="translate(556.10 644.00) rotate(-90)"><text x="-53.73" y="0.00" font-size="33" font-style="italic">x</text><text x="-39.26" y="3.60" font-size="19">2</text><text x="-15.75" y="0.00" font-size="32">(mm)</text></g>
<text x="250.88" y="1229.30" font-size="29">-10</text>
<text x="346.05" y="1229.30" font-size="29">0</text>
<text x="421.28" y="1229.30" font-size="29">10</text>
<text x="199.74" y="957.40" font-size="29">-5</text>
<text x="209.46" y="1083.40" font-size="29">0</text>
<text x="209.46" y="1207.60" font-size="29">5</text>
<text x="310.44" y="1263.60" font-size="34" font-style="italic">t</text>
<text x="321.19" y="1268.50" font-size="21">1</text>
<text x="344.82" y="1263.60" font-size="32">(ps)</text>
<g transform="translate(186.20 1075.00) rotate(-90)"><text x="-53.73" y="0.00" font-size="33" font-style="italic">x</text><text x="-39.26" y="3.60" font-size="19">2</text><text x="-15.75" y="0.00" font-size="32">(mm)</text></g>
<text x="621.37" y="1229.30" font-size="29">-10</text>
<text x="716.70" y="1229.30" font-size="29">0</text>
<text x="792.10" y="1229.30" font-size="29">10</text>
<text x="570.15" y="957.40" font-size="29">-5</text>
<text x="579.86" y="1083.40" font-size="29">0</text>
<text x="579.86" y="1207.60" font-size="29">5</text>
<text x="681.09" y="1263.60" font-size="34" font-style="italic">t</text>
<text x="691.84" y="1268.50" font-size="21">1</text>
<text x="715.47" y="1263.60" font-size="32">(ps)</text>
<g transform="translate(556.60 1075.00) rotate(-90)"><text x="-53.73" y="0.00" font-size="33" font-style="italic">x</text><text x="-39.26" y="3.60" font-size="19">2</text><text x="-15.75" y="0.00" font-size="32">(mm)</text></g>
<text x="898.43" y="94.20" font-size="29">1</text>
<text x="899.74" y="221.40" font-size="29">0.5</text>
<text x="899.74" y="346.60" font-size="29">0</text>
<text x="898.43" y="524.00" font-size="29">1</text>
<text x="899.74" y="618.60" font-size="29">0.5</text>
<text x="899.74" y="712.00" font-size="29">0</text>
<text x="899.60" y="989.70" font-size="29">2</text>
<text x="898.43" y="1036.00" font-size="29">1</text>
<text x="899.74" y="1082.50" font-size="29">0</text>
<text x="899.88" y="1128.50" font-size="29">-1</text>
<text x="899.88" y="1175.00" font-size="29">-2</text>
<text x="888.46" y="934.40" font-size="35">×</text>
<text x="908.43" y="930.30" font-size="29">10</text>
<text x="936.55" y="922.90" font-size="23">−</text>
<text x="950.68" y="920.20" font-size="19">17</text>
<text x="1087.96" y="945.10" font-size="35">×</text>
<text x="1107.93" y="941.00" font-size="29">10</text>
<text x="1136.05" y="933.60" font-size="23">−</text>
<text x="1150.18" y="930.90" font-size="19">17</text>
<text x="1119.55" y="369.70" font-size="29">-10</text>
<text x="1235.25" y="369.70" font-size="29">0</text>
<text x="1331.01" y="369.70" font-size="29">10</text>
<text x="1119.50" y="799.60" font-size="29">-10</text>
<text x="1235.10" y="799.60" font-size="29">0</text>
<text x="1330.76" y="799.60" font-size="29">10</text>
<text x="1119.55" y="1229.30" font-size="29">-10</text>
<text x="1235.25" y="1229.30" font-size="29">0</text>
<text x="1331.01" y="1229.30" font-size="29">10</text>
<text x="1046.35" y="297.25" font-size="29">0.2</text>
<text x="1045.18" y="246.90" font-size="29">0.4</text>
<text x="1045.62" y="196.55" font-size="29">0.6</text>
<text x="1045.91" y="146.20" font-size="29">0.8</text>
<text x="1036.63" y="749.52" font-size="29">-0.2</text>
<text x="1067.66" y="711.80" font-size="29">0</text>
<text x="1046.35" y="674.08" font-size="29">0.2</text>
<text x="1045.18" y="636.36" font-size="29">0.4</text>
<text x="1045.62" y="598.64" font-size="29">0.6</text>
<text x="1045.91" y="560.92" font-size="29">0.8</text>
<text x="1058.38" y="1179.70" font-size="29">-2</text>
<text x="1058.53" y="1111.10" font-size="29">-1</text>
<text x="1067.66" y="1042.50" font-size="29">0</text>
<text x="1068.24" y="973.90" font-size="29">1</text>
<text x="1205.34" y="404.20" font-size="34" font-style="italic">t</text>
<text x="1228.32" y="404.20" font-size="32">(ps)</text>
<text x="1199.63" y="834.00" font-size="34" font-style="italic">t</text>
<text x="1210.39" y="838.90" font-size="21">1</text>
<text x="1234.02" y="834.00" font-size="32">(ps)</text>
<text x="1199.63" y="1263.60" font-size="34" font-style="italic">t</text>
<text x="1210.39" y="1268.50" font-size="21">1</text>
<text x="1234.02" y="1263.60" font-size="32">(ps)</text>
<rect x="302.00" y="7.00" width="99.00" height="71.00" fill="#fff" stroke="#000" stroke-width="2.0"/>
<text x="310.81" y="54.50" font-size="51">Thy</text>
<rect x="677.50" y="7.00" width="93.50" height="71.00" fill="#fff" stroke="#000" stroke-width="2.0"/>
<text x="683.04" y="54.50" font-size="51">Sim</text>
<rect x="72.30" y="177.00" width="75.40" height="70.70" fill="#fff" stroke="#000" stroke-width="2.0"/>
<path d="M94.1,187.6L84.4,211.7L94.1,235.8M125.6,187.6L135.3,211.7L125.6,235.8" stroke="#000" stroke-width="1.9" fill="none" stroke-linecap="butt"/>
<text x="100.49" y="223.60" font-size="51" font-style="italic">I</text>
<rect x="4.20" y="607.00" width="145.40" height="70.60" fill="#fff" stroke="#000" stroke-width="2.0"/>
<text x="11.73" y="653.70" font-size="51">R</text>
<text x="45.67" y="653.70" font-size="51">e</text>
<text x="76.86" y="654.20" font-size="53">(</text>
<text x="94.49" y="653.70" font-size="51">Γ</text>
<text x="124.42" y="654.20" font-size="53">)</text>
<rect x="3.90" y="1036.70" width="145.70" height="70.60" fill="#fff" stroke="#000" stroke-width="2.0"/>
<text x="10.36" y="1083.70" font-size="51">I</text>
<text x="28.53" y="1083.70" font-size="51">m</text>
<text x="76.86" y="1084.20" font-size="53">(</text>
<text x="94.49" y="1083.70" font-size="51">Γ</text>
<text x="124.42" y="1084.20" font-size="53">)</text>
<rect x="229.60" y="285.10" width="58.90" height="55.30" fill="#fff" stroke="#000" stroke-width="2.0"/>
<text x="239.07" y="321.85" font-size="36">(a)</text>
<rect x="600.60" y="285.10" width="58.90" height="55.30" fill="#fff" stroke="#000" stroke-width="2.0"/>
<text x="608.99" y="321.85" font-size="36">(b)</text>
<rect x="1094.30" y="97.90" width="55.90" height="54.40" fill="#fff" stroke="#000" stroke-width="2.0"/>
<text x="1102.27" y="134.20" font-size="36">(c)</text>
<rect x="233.30" y="712.70" width="59.90" height="54.50" fill="#fff" stroke="#000" stroke-width="2.0"/>
<text x="242.19" y="749.05" font-size="36">(d)</text>
<rect x="604.30" y="712.70" width="59.90" height="54.50" fill="#fff" stroke="#000" stroke-width="2.0"/>
<text x="614.27" y="749.05" font-size="36">(e)</text>
<rect x="1093.60" y="527.40" width="54.00" height="55.00" fill="#fff" stroke="#000" stroke-width="2.0"/>
<text x="1102.60" y="564.00" font-size="36">(f)</text>
<rect x="232.80" y="1137.40" width="59.60" height="54.50" fill="#fff" stroke="#000" stroke-width="2.0"/>
<text x="241.54" y="1173.75" font-size="36">(g)</text>
<rect x="603.80" y="1137.40" width="59.60" height="54.50" fill="#fff" stroke="#000" stroke-width="2.0"/>
<text x="612.54" y="1173.75" font-size="36">(h)</text>
<rect x="1091.70" y="1134.60" width="50.90" height="54.70" fill="#fff" stroke="#000" stroke-width="2.0"/>
<text x="1100.14" y="1171.05" font-size="36">(i)</text>
<rect x="1156.6" y="3.6" width="177.2" height="74" fill="#fff" stroke="#262626" stroke-width="1.6"/>
<path d="M1168,24.1H1271" stroke="#0072bd" stroke-width="2.1"/>
<path d="M1168,56.6H1271" stroke="#d95319" stroke-width="2.1"/>
<text x="1278.78" y="30.60" font-size="26">Thy</text>
<text x="1277.61" y="63.10" font-size="26">Sim</text>
<g transform="translate(1032.1 214.3) rotate(-90)"><text x="-40.12" y="0.00" font-size="33" font-style="italic">I</text><text x="-20.06" y="0.00" font-size="34">(</text><text x="-10.35" y="0.00" font-size="31">0</text><text x="5.66" y="0.00" font-size="31">,</text><text x="18.38" y="0.00" font-size="34" font-style="italic">t</text><text x="30.16" y="0.00" font-size="34">)</text><path d="M-43.6,-23.1L-50.5,-7.7L-43.6,7.7M43.3,-23.1L50.2,-7.7L43.3,7.7" stroke="#000" stroke-width="1.5" fill="none"/></g>
<g transform="translate(1022.6 827.0) rotate(-90)"><text x="-1.92" y="0.00" font-size="31">R</text><text x="19.12" y="0.00" font-size="31">e</text><path d="M52.2,-25.5H47.4V11.8H52.2" stroke="#000" stroke-width="1.3" fill="none"/><text x="53.14" y="0.00" font-size="31">Γ</text><path d="M90.0,-25.5 Q72.60,-6.85 90.0,11.8" stroke="#000" stroke-width="1.5" fill="none"/><text x="90.30" y="0.00" font-size="30">0</text><text x="106.41" y="0.00" font-size="31">,</text><text x="118.43" y="0.00" font-size="32" font-style="italic">t</text><text x="129.50" y="4.80" font-size="20">1</text><text x="143.16" y="0.00" font-size="31">,</text><text x="158.16" y="0.00" font-size="32">−</text><text x="178.73" y="0.00" font-size="32" font-style="italic">t</text><text x="189.15" y="4.80" font-size="20">1</text><path d="M209.2,-7 L211.5,-8.2 L215.5,10.6 L232.8,-25.5 H311.9" stroke="#000" stroke-width="1.4" fill="none" stroke-linejoin="miter"/><path d="M210.8,-7.6 L215.5,10.6" stroke="#000" stroke-width="2.2" fill="none"/><text x="234.96" y="0.00" font-size="32">−</text><text x="256.36" y="0.00" font-size="32" font-style="italic">k</text><text x="271.42" y="4.80" font-size="21" font-style="italic">c</text><text x="282.46" y="0.00" font-size="32" font-style="italic">k</text><text x="297.22" y="4.80" font-size="21" font-style="italic">c</text><path d="M309.2,-19.2 L305.6,-10.6 M302.9,-19.2 L299.3,-10.6" stroke="#000" stroke-width="1.7" fill="none"/><text x="312.76" y="0.00" font-size="31">,</text><text x="325.40" y="0.00" font-size="30">0</text><path d="M341.4,-25.5 Q357.00,-6.85 341.4,11.8" stroke="#000" stroke-width="1.5" fill="none"/><path d="M354.3,-25.5H360.0V11.8H354.3" stroke="#000" stroke-width="1.3" fill="none"/></g>
<g transform="translate(1043.8 1258.6) rotate(-90)"><text x="-0.04" y="0.00" font-size="31">I</text><text x="10.93" y="0.00" font-size="31">m</text><path d="M52.2,-25.5H47.4V11.8H52.2" stroke="#000" stroke-width="1.3" fill="none"/><text x="53.14" y="0.00" font-size="31">Γ</text><path d="M90.0,-25.5 Q72.60,-6.85 90.0,11.8" stroke="#000" stroke-width="1.5" fill="none"/><text x="90.30" y="0.00" font-size="30">0</text><text x="106.41" y="0.00" font-size="31">,</text><text x="118.43" y="0.00" font-size="32" font-style="italic">t</text><text x="129.50" y="4.80" font-size="20">1</text><text x="143.16" y="0.00" font-size="31">,</text><text x="158.16" y="0.00" font-size="32">−</text><text x="178.73" y="0.00" font-size="32" font-style="italic">t</text><text x="189.15" y="4.80" font-size="20">1</text><path d="M209.2,-7 L211.5,-8.2 L215.5,10.6 L232.8,-25.5 H311.9" stroke="#000" stroke-width="1.4" fill="none" stroke-linejoin="miter"/><path d="M210.8,-7.6 L215.5,10.6" stroke="#000" stroke-width="2.2" fill="none"/><text x="234.96" y="0.00" font-size="32">−</text><text x="256.36" y="0.00" font-size="32" font-style="italic">k</text><text x="271.42" y="4.80" font-size="21" font-style="italic">c</text><text x="282.46" y="0.00" font-size="32" font-style="italic">k</text><text x="297.22" y="4.80" font-size="21" font-style="italic">c</text><path d="M309.2,-19.2 L305.6,-10.6 M302.9,-19.2 L299.3,-10.6" stroke="#000" stroke-width="1.7" fill="none"/><text x="312.76" y="0.00" font-size="31">,</text><text x="325.40" y="0.00" font-size="30">0</text><path d="M341.4,-25.5 Q357.00,-6.85 341.4,11.8" stroke="#000" stroke-width="1.5" fill="none"/><path d="M354.3,-25.5H360.0V11.8H354.3" stroke="#000" stroke-width="1.3" fill="none"/></g>
</svg></body></html>
